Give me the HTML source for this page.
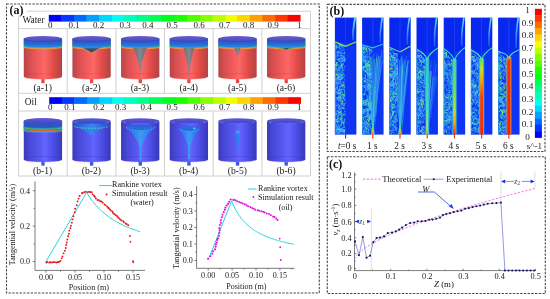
<!DOCTYPE html>
<html><head><meta charset="utf-8"><style>
html,body{margin:0;padding:0;background:#fff;width:550px;height:299px;overflow:hidden}
svg{display:block}
text{font-family:'Liberation Serif', 'Times New Roman', serif}
</style></head><body>
<svg width="550" height="299" viewBox="0 0 550 299">
<defs>
<linearGradient id="gRed" x1="0" x2="1" y1="0" y2="0">
<stop offset="0" stop-color="#b44646"/><stop offset="0.15" stop-color="#d84e50"/>
<stop offset="0.45" stop-color="#f86060"/><stop offset="0.55" stop-color="#fb6866"/><stop offset="0.78" stop-color="#e24a48"/>
<stop offset="1" stop-color="#b04444"/></linearGradient>
<linearGradient id="gBlue" x1="0" x2="1" y1="0" y2="0">
<stop offset="0" stop-color="#3a3ab8"/><stop offset="0.15" stop-color="#4848d8"/>
<stop offset="0.45" stop-color="#5a5af5"/><stop offset="0.55" stop-color="#6464ff"/><stop offset="0.78" stop-color="#4c4ce6"/>
<stop offset="1" stop-color="#3838b8"/></linearGradient>
<linearGradient id="gTopBlue" x1="0" x2="1" y1="0" y2="0">
<stop offset="0" stop-color="#1f50c0"/><stop offset="0.5" stop-color="#2a66d8"/>
<stop offset="1" stop-color="#1f50c0"/></linearGradient>
<linearGradient id="gCap" x1="0" x2="0" y1="0" y2="1">
<stop offset="0" stop-color="#6a5ed0"/><stop offset="1" stop-color="#4c48c2"/></linearGradient>
<linearGradient id="gCapB" x1="0" x2="0" y1="0" y2="1">
<stop offset="0" stop-color="#5a5ad8"/><stop offset="1" stop-color="#4444c8"/></linearGradient>
<linearGradient id="gBand" x1="0" x2="0" y1="0" y2="1">
<stop offset="0" stop-color="#2450c0"/><stop offset="0.55" stop-color="#246ad4"/><stop offset="1" stop-color="#3090e4"/></linearGradient>
<linearGradient id="gFunnel" x1="0" x2="1" y1="0" y2="0">
<stop offset="0" stop-color="#b86868"/><stop offset="0.25" stop-color="#808088"/><stop offset="0.5" stop-color="#a0a2a8"/>
<stop offset="0.75" stop-color="#808088"/><stop offset="1" stop-color="#b86868"/></linearGradient>
<pattern id="mesh" width="1.4" height="1.4" patternUnits="userSpaceOnUse"><rect width="1.4" height="1.4" fill="#8e9096"/><path d="M0,0 L1.4,1.4 M1.4,0 L0,1.4" stroke="#55575e" stroke-width="0.4"/></pattern>
<linearGradient id="gBowl" x1="0" x2="1" y1="0" y2="0"><stop offset="0" stop-color="#2a58d0"/><stop offset="0.5" stop-color="#3a84f0"/><stop offset="1" stop-color="#2a58d0"/></linearGradient>
<linearGradient id="gOilFunnel" x1="0" x2="1" y1="0" y2="0">
<stop offset="0" stop-color="#1f6ae8"/><stop offset="0.5" stop-color="#3d9af5"/>
<stop offset="1" stop-color="#1f6ae8"/></linearGradient>
</defs>
<rect x="0" y="0" width="550" height="299" fill="#ffffff"/>
<rect x="6.5" y="4" width="312.8" height="289" stroke="#4a4a4a" stroke-width="1.1" stroke-dasharray="2.4 1.3" fill="none"/>
<rect x="327.3" y="4.4" width="217.7" height="147.1" stroke="#4a4a4a" stroke-width="1.1" stroke-dasharray="2.4 1.3" fill="none"/>
<rect x="327.3" y="156.8" width="218" height="136.7" stroke="#4a4a4a" stroke-width="1.1" stroke-dasharray="2.4 1.3" fill="none"/>
<line x1="27" y1="11.2" x2="310.5" y2="11.2" stroke="#c4c4c4" stroke-width="0.8"/>
<line x1="18.6" y1="15" x2="18.6" y2="176" stroke="#c4c4c4" stroke-width="0.8"/>
<line x1="310.5" y1="11.2" x2="310.5" y2="176" stroke="#c4c4c4" stroke-width="0.8"/>
<line x1="18.6" y1="28.6" x2="310.5" y2="28.6" stroke="#c4c4c4" stroke-width="0.8"/>
<line x1="18.6" y1="93.3" x2="310.5" y2="93.3" stroke="#c4c4c4" stroke-width="0.8"/>
<line x1="18.6" y1="111" x2="310.5" y2="111" stroke="#c4c4c4" stroke-width="0.8"/>
<line x1="18.6" y1="176" x2="310.5" y2="176" stroke="#c4c4c4" stroke-width="0.8"/>
<line x1="67.2" y1="28.6" x2="67.2" y2="93.3" stroke="#c4c4c4" stroke-width="0.8"/>
<line x1="67.2" y1="111" x2="67.2" y2="176" stroke="#c4c4c4" stroke-width="0.8"/>
<line x1="115.9" y1="28.6" x2="115.9" y2="93.3" stroke="#c4c4c4" stroke-width="0.8"/>
<line x1="115.9" y1="111" x2="115.9" y2="176" stroke="#c4c4c4" stroke-width="0.8"/>
<line x1="164.5" y1="28.6" x2="164.5" y2="93.3" stroke="#c4c4c4" stroke-width="0.8"/>
<line x1="164.5" y1="111" x2="164.5" y2="176" stroke="#c4c4c4" stroke-width="0.8"/>
<line x1="213.2" y1="28.6" x2="213.2" y2="93.3" stroke="#c4c4c4" stroke-width="0.8"/>
<line x1="213.2" y1="111" x2="213.2" y2="176" stroke="#c4c4c4" stroke-width="0.8"/>
<line x1="261.9" y1="28.6" x2="261.9" y2="93.3" stroke="#c4c4c4" stroke-width="0.8"/>
<line x1="261.9" y1="111" x2="261.9" y2="176" stroke="#c4c4c4" stroke-width="0.8"/>
<text x="9.6" y="14.0" font-size="12" text-anchor="start" font-weight="bold" font-style="normal" fill="#111" >(a)</text>
<text x="22.5" y="22.9" font-size="9.4" text-anchor="start" font-weight="normal" font-style="normal" fill="#1a1a1a" >Water</text>
<text x="24.8" y="105.0" font-size="9.4" text-anchor="start" font-weight="normal" font-style="normal" fill="#1a1a1a" >Oil</text>
<rect x="48.80" y="14.9" width="12.88" height="6.70" fill="#0000ff"/>
<rect x="61.38" y="14.9" width="12.88" height="6.70" fill="#0036ff"/>
<rect x="73.95" y="14.9" width="12.88" height="6.70" fill="#006bff"/>
<rect x="86.52" y="14.9" width="12.88" height="6.70" fill="#00a1ff"/>
<rect x="99.10" y="14.9" width="12.88" height="6.70" fill="#00d7ff"/>
<rect x="111.67" y="14.9" width="12.88" height="6.70" fill="#00fff2"/>
<rect x="124.25" y="14.9" width="12.88" height="6.70" fill="#00ffbc"/>
<rect x="136.82" y="14.9" width="12.88" height="6.70" fill="#00ff86"/>
<rect x="149.40" y="14.9" width="12.88" height="6.70" fill="#00ff51"/>
<rect x="161.97" y="14.9" width="12.88" height="6.70" fill="#00ff1b"/>
<rect x="174.55" y="14.9" width="12.88" height="6.70" fill="#1bff00"/>
<rect x="187.12" y="14.9" width="12.88" height="6.70" fill="#51ff00"/>
<rect x="199.70" y="14.9" width="12.88" height="6.70" fill="#86ff00"/>
<rect x="212.27" y="14.9" width="12.88" height="6.70" fill="#bcff00"/>
<rect x="224.85" y="14.9" width="12.88" height="6.70" fill="#f2ff00"/>
<rect x="237.43" y="14.9" width="12.88" height="6.70" fill="#ffd700"/>
<rect x="250.00" y="14.9" width="12.88" height="6.70" fill="#ffa100"/>
<rect x="262.57" y="14.9" width="12.88" height="6.70" fill="#ff6b00"/>
<rect x="275.15" y="14.9" width="12.88" height="6.70" fill="#ff3600"/>
<rect x="287.72" y="14.9" width="12.88" height="6.70" fill="#ff0000"/>
<line x1="61.38" y1="14.9" x2="61.38" y2="21.6" stroke="#000" stroke-opacity="0.12" stroke-width="0.5"/>
<line x1="73.95" y1="14.9" x2="73.95" y2="21.6" stroke="#000" stroke-opacity="0.12" stroke-width="0.5"/>
<line x1="86.52" y1="14.9" x2="86.52" y2="21.6" stroke="#000" stroke-opacity="0.12" stroke-width="0.5"/>
<line x1="99.10" y1="14.9" x2="99.10" y2="21.6" stroke="#000" stroke-opacity="0.12" stroke-width="0.5"/>
<line x1="111.67" y1="14.9" x2="111.67" y2="21.6" stroke="#000" stroke-opacity="0.12" stroke-width="0.5"/>
<line x1="124.25" y1="14.9" x2="124.25" y2="21.6" stroke="#000" stroke-opacity="0.12" stroke-width="0.5"/>
<line x1="136.82" y1="14.9" x2="136.82" y2="21.6" stroke="#000" stroke-opacity="0.12" stroke-width="0.5"/>
<line x1="149.40" y1="14.9" x2="149.40" y2="21.6" stroke="#000" stroke-opacity="0.12" stroke-width="0.5"/>
<line x1="161.97" y1="14.9" x2="161.97" y2="21.6" stroke="#000" stroke-opacity="0.12" stroke-width="0.5"/>
<line x1="174.55" y1="14.9" x2="174.55" y2="21.6" stroke="#000" stroke-opacity="0.12" stroke-width="0.5"/>
<line x1="187.12" y1="14.9" x2="187.12" y2="21.6" stroke="#000" stroke-opacity="0.12" stroke-width="0.5"/>
<line x1="199.70" y1="14.9" x2="199.70" y2="21.6" stroke="#000" stroke-opacity="0.12" stroke-width="0.5"/>
<line x1="212.27" y1="14.9" x2="212.27" y2="21.6" stroke="#000" stroke-opacity="0.12" stroke-width="0.5"/>
<line x1="224.85" y1="14.9" x2="224.85" y2="21.6" stroke="#000" stroke-opacity="0.12" stroke-width="0.5"/>
<line x1="237.43" y1="14.9" x2="237.43" y2="21.6" stroke="#000" stroke-opacity="0.12" stroke-width="0.5"/>
<line x1="250.00" y1="14.9" x2="250.00" y2="21.6" stroke="#000" stroke-opacity="0.12" stroke-width="0.5"/>
<line x1="262.57" y1="14.9" x2="262.57" y2="21.6" stroke="#000" stroke-opacity="0.12" stroke-width="0.5"/>
<line x1="275.15" y1="14.9" x2="275.15" y2="21.6" stroke="#000" stroke-opacity="0.12" stroke-width="0.5"/>
<line x1="287.72" y1="14.9" x2="287.72" y2="21.6" stroke="#000" stroke-opacity="0.12" stroke-width="0.5"/>
<text x="50.2" y="28.0" font-size="9.0" text-anchor="middle" font-weight="normal" font-style="normal" fill="#1a1a1a" >0</text>
<text x="74.2" y="28.0" font-size="9.0" text-anchor="middle" font-weight="normal" font-style="normal" fill="#1a1a1a" >0.1</text>
<text x="98.6" y="28.0" font-size="9.0" text-anchor="middle" font-weight="normal" font-style="normal" fill="#1a1a1a" >0.2</text>
<text x="125.0" y="28.0" font-size="9.0" text-anchor="middle" font-weight="normal" font-style="normal" fill="#1a1a1a" >0.3</text>
<text x="147.8" y="28.0" font-size="9.0" text-anchor="middle" font-weight="normal" font-style="normal" fill="#1a1a1a" >0.4</text>
<text x="172.0" y="28.0" font-size="9.0" text-anchor="middle" font-weight="normal" font-style="normal" fill="#1a1a1a" >0.5</text>
<text x="199.0" y="28.0" font-size="9.0" text-anchor="middle" font-weight="normal" font-style="normal" fill="#1a1a1a" >0.6</text>
<text x="224.5" y="28.0" font-size="9.0" text-anchor="middle" font-weight="normal" font-style="normal" fill="#1a1a1a" >0.7</text>
<text x="248.6" y="28.0" font-size="9.0" text-anchor="middle" font-weight="normal" font-style="normal" fill="#1a1a1a" >0.8</text>
<text x="273.2" y="28.0" font-size="9.0" text-anchor="middle" font-weight="normal" font-style="normal" fill="#1a1a1a" >0.9</text>
<text x="299.3" y="28.0" font-size="9.0" text-anchor="middle" font-weight="normal" font-style="normal" fill="#1a1a1a" >1</text>
<rect x="49.20" y="97.2" width="12.88" height="6.70" fill="#0000ff"/>
<rect x="61.78" y="97.2" width="12.88" height="6.70" fill="#0036ff"/>
<rect x="74.35" y="97.2" width="12.88" height="6.70" fill="#006bff"/>
<rect x="86.92" y="97.2" width="12.88" height="6.70" fill="#00a1ff"/>
<rect x="99.50" y="97.2" width="12.88" height="6.70" fill="#00d7ff"/>
<rect x="112.08" y="97.2" width="12.88" height="6.70" fill="#00fff2"/>
<rect x="124.65" y="97.2" width="12.88" height="6.70" fill="#00ffbc"/>
<rect x="137.22" y="97.2" width="12.88" height="6.70" fill="#00ff86"/>
<rect x="149.80" y="97.2" width="12.88" height="6.70" fill="#00ff51"/>
<rect x="162.38" y="97.2" width="12.88" height="6.70" fill="#00ff1b"/>
<rect x="174.95" y="97.2" width="12.88" height="6.70" fill="#1bff00"/>
<rect x="187.52" y="97.2" width="12.88" height="6.70" fill="#51ff00"/>
<rect x="200.10" y="97.2" width="12.88" height="6.70" fill="#86ff00"/>
<rect x="212.68" y="97.2" width="12.88" height="6.70" fill="#bcff00"/>
<rect x="225.25" y="97.2" width="12.88" height="6.70" fill="#f2ff00"/>
<rect x="237.82" y="97.2" width="12.88" height="6.70" fill="#ffd700"/>
<rect x="250.40" y="97.2" width="12.88" height="6.70" fill="#ffa100"/>
<rect x="262.97" y="97.2" width="12.88" height="6.70" fill="#ff6b00"/>
<rect x="275.55" y="97.2" width="12.88" height="6.70" fill="#ff3600"/>
<rect x="288.12" y="97.2" width="12.88" height="6.70" fill="#ff0000"/>
<line x1="61.78" y1="97.2" x2="61.78" y2="103.9" stroke="#000" stroke-opacity="0.12" stroke-width="0.5"/>
<line x1="74.35" y1="97.2" x2="74.35" y2="103.9" stroke="#000" stroke-opacity="0.12" stroke-width="0.5"/>
<line x1="86.92" y1="97.2" x2="86.92" y2="103.9" stroke="#000" stroke-opacity="0.12" stroke-width="0.5"/>
<line x1="99.50" y1="97.2" x2="99.50" y2="103.9" stroke="#000" stroke-opacity="0.12" stroke-width="0.5"/>
<line x1="112.08" y1="97.2" x2="112.08" y2="103.9" stroke="#000" stroke-opacity="0.12" stroke-width="0.5"/>
<line x1="124.65" y1="97.2" x2="124.65" y2="103.9" stroke="#000" stroke-opacity="0.12" stroke-width="0.5"/>
<line x1="137.22" y1="97.2" x2="137.22" y2="103.9" stroke="#000" stroke-opacity="0.12" stroke-width="0.5"/>
<line x1="149.80" y1="97.2" x2="149.80" y2="103.9" stroke="#000" stroke-opacity="0.12" stroke-width="0.5"/>
<line x1="162.38" y1="97.2" x2="162.38" y2="103.9" stroke="#000" stroke-opacity="0.12" stroke-width="0.5"/>
<line x1="174.95" y1="97.2" x2="174.95" y2="103.9" stroke="#000" stroke-opacity="0.12" stroke-width="0.5"/>
<line x1="187.52" y1="97.2" x2="187.52" y2="103.9" stroke="#000" stroke-opacity="0.12" stroke-width="0.5"/>
<line x1="200.10" y1="97.2" x2="200.10" y2="103.9" stroke="#000" stroke-opacity="0.12" stroke-width="0.5"/>
<line x1="212.68" y1="97.2" x2="212.68" y2="103.9" stroke="#000" stroke-opacity="0.12" stroke-width="0.5"/>
<line x1="225.25" y1="97.2" x2="225.25" y2="103.9" stroke="#000" stroke-opacity="0.12" stroke-width="0.5"/>
<line x1="237.82" y1="97.2" x2="237.82" y2="103.9" stroke="#000" stroke-opacity="0.12" stroke-width="0.5"/>
<line x1="250.40" y1="97.2" x2="250.40" y2="103.9" stroke="#000" stroke-opacity="0.12" stroke-width="0.5"/>
<line x1="262.97" y1="97.2" x2="262.97" y2="103.9" stroke="#000" stroke-opacity="0.12" stroke-width="0.5"/>
<line x1="275.55" y1="97.2" x2="275.55" y2="103.9" stroke="#000" stroke-opacity="0.12" stroke-width="0.5"/>
<line x1="288.12" y1="97.2" x2="288.12" y2="103.9" stroke="#000" stroke-opacity="0.12" stroke-width="0.5"/>
<text x="50.2" y="109.6" font-size="9.0" text-anchor="middle" font-weight="normal" font-style="normal" fill="#1a1a1a" >0</text>
<text x="69.8" y="109.6" font-size="9.0" text-anchor="middle" font-weight="normal" font-style="normal" fill="#1a1a1a" >0.1</text>
<text x="98.9" y="109.6" font-size="9.0" text-anchor="middle" font-weight="normal" font-style="normal" fill="#1a1a1a" >0.2</text>
<text x="120.6" y="109.6" font-size="9.0" text-anchor="middle" font-weight="normal" font-style="normal" fill="#1a1a1a" >0.3</text>
<text x="146.2" y="109.6" font-size="9.0" text-anchor="middle" font-weight="normal" font-style="normal" fill="#1a1a1a" >0.4</text>
<text x="172.0" y="109.6" font-size="9.0" text-anchor="middle" font-weight="normal" font-style="normal" fill="#1a1a1a" >0.5</text>
<text x="199.0" y="109.6" font-size="9.0" text-anchor="middle" font-weight="normal" font-style="normal" fill="#1a1a1a" >0.6</text>
<text x="224.5" y="109.6" font-size="9.0" text-anchor="middle" font-weight="normal" font-style="normal" fill="#1a1a1a" >0.7</text>
<text x="248.6" y="109.6" font-size="9.0" text-anchor="middle" font-weight="normal" font-style="normal" fill="#1a1a1a" >0.8</text>
<text x="273.2" y="109.6" font-size="9.0" text-anchor="middle" font-weight="normal" font-style="normal" fill="#1a1a1a" >0.9</text>
<text x="299.3" y="109.6" font-size="9.0" text-anchor="middle" font-weight="normal" font-style="normal" fill="#1a1a1a" >1</text>
<rect x="41.32" y="76.6" width="3.3" height="6.6" fill="#e8464c"/>
<path d="M23.77,38.70 L23.77,76.60 A19.15,2.6 0 0 0 62.07,76.60 L62.07,38.70 A19.15,2.6 0 0 1 23.77,38.70 Z" fill="url(#gRed)"/>
<path d="M23.77,76.19999999999999 A19.15,2.6 0 0 1 62.07,76.19999999999999" fill="none" stroke="#c03838" stroke-opacity="0.45" stroke-width="0.6"/>
<path d="M24.07,77.19999999999999 A19.15,2.6 0 0 0 61.77,77.19999999999999" fill="none" stroke="#ff8080" stroke-opacity="0.35" stroke-width="0.8"/>
<path d="M23.77,38.7 L23.77,46.6 A19.15,1.6 0 0 0 62.07,46.6 L62.07,38.7 Z" fill="url(#gBand)"/>
<path d="M23.77,46.300000000000004 A19.15,1.6 0 0 0 62.07,46.300000000000004" fill="none" stroke="#38c878" stroke-width="1.0"/>
<path d="M23.77,47.2 A19.15,1.6 0 0 0 62.07,47.2" fill="none" stroke="#e8b838" stroke-width="0.7"/>
<ellipse cx="42.92" cy="38.7" rx="19.15" ry="2.8000000000000003" fill="url(#gCap)"/>
<path d="M23.77,38.7 A19.15,2.8000000000000003 0 0 0 62.07,38.7" fill="none" stroke="#3038b0" stroke-width="0.6" opacity="0.6"/>
<rect x="41.32" y="159.4" width="3.3" height="6.2" fill="#4450e0"/>
<path d="M23.77,121.00 L23.77,159.40 A19.15,2.6 0 0 0 62.07,159.40 L62.07,121.00 A19.15,2.6 0 0 1 23.77,121.00 Z" fill="url(#gBlue)"/>
<path d="M23.77,159.0 A19.15,2.6 0 0 1 62.07,159.0" fill="none" stroke="#2a2fa0" stroke-opacity="0.4" stroke-width="0.6"/>
<path d="M24.07,160.0 A19.15,2.6 0 0 0 61.77,160.0" fill="none" stroke="#8080ff" stroke-opacity="0.35" stroke-width="0.8"/>
<ellipse cx="42.92" cy="121.0" rx="19.15" ry="2.8000000000000003" fill="url(#gCapB)"/>
<path d="M23.77,121.0 L23.77,128.2 A19.15,1.6 0 0 0 62.07,128.2 L62.07,121.0 Z" fill="#2a58c0"/>
<ellipse cx="42.92" cy="121.0" rx="19.15" ry="2.8000000000000003" fill="url(#gCapB)"/>
<path d="M23.77,126.79999999999998 A19.15,1.6 0 0 0 62.07,126.79999999999998" fill="none" stroke="#2aa0c0" stroke-width="0.8"/>
<path d="M23.77,127.69999999999999 A19.15,1.6 0 0 0 62.07,127.69999999999999" fill="none" stroke="#40c870" stroke-width="1.0"/>
<path d="M23.77,128.89999999999998 A19.15,1.6 0 0 0 62.07,128.89999999999998" fill="none" stroke="#c86a30" stroke-width="1.3"/>
<path d="M23.77,130.1 A19.15,1.6 0 0 0 62.07,130.1" fill="none" stroke="#48c070" stroke-width="1.0"/>
<path d="M23.77,131.0 A19.15,1.6 0 0 0 62.07,131.0" fill="none" stroke="#5a8af0" stroke-width="0.7" opacity="0.7"/>
<text x="42.7" y="91.2" font-size="9.6" text-anchor="middle" font-weight="normal" font-style="normal" fill="#1a1a1a" >(a-1)</text>
<text x="42.7" y="173.6" font-size="9.6" text-anchor="middle" font-weight="normal" font-style="normal" fill="#1a1a1a" >(b-1)</text>
<rect x="89.97" y="76.6" width="3.3" height="6.6" fill="#e8464c"/>
<path d="M72.42,38.70 L72.42,76.60 A19.15,2.6 0 0 0 110.72,76.60 L110.72,38.70 A19.15,2.6 0 0 1 72.42,38.70 Z" fill="url(#gRed)"/>
<path d="M72.42,76.19999999999999 A19.15,2.6 0 0 1 110.72,76.19999999999999" fill="none" stroke="#c03838" stroke-opacity="0.45" stroke-width="0.6"/>
<path d="M72.72,77.19999999999999 A19.15,2.6 0 0 0 110.42,77.19999999999999" fill="none" stroke="#ff8080" stroke-opacity="0.35" stroke-width="0.8"/>
<path d="M72.42,38.7 L72.42,46.6 A19.15,1.6 0 0 0 110.72,46.6 L110.72,38.7 Z" fill="url(#gBand)"/>
<path d="M72.42,46.300000000000004 A19.15,1.6 0 0 0 110.72,46.300000000000004" fill="none" stroke="#38c878" stroke-width="1.0"/>
<path d="M72.42,47.2 A19.15,1.6 0 0 0 110.72,47.2" fill="none" stroke="#e8b838" stroke-width="0.7"/>
<ellipse cx="91.57" cy="38.7" rx="19.15" ry="2.8000000000000003" fill="url(#gCap)"/>
<path d="M72.42,38.7 A19.15,2.8000000000000003 0 0 0 110.72,38.7" fill="none" stroke="#3038b0" stroke-width="0.6" opacity="0.6"/>
<path d="M77.57,47.2 Q82.57,48.0 84.07,48.800000000000004 L91.57,52.800000000000004 L99.07,48.800000000000004 Q100.57,48.0 105.57,47.2 Z" fill="#2a80dc"/>
<path d="M84.07,48.6 C87.57,50.1 90.07,52.1 91.57,52.6 C93.07,52.1 95.57,50.1 99.07,48.6 Q91.57499999999999,48.2 84.07,48.6 Z" fill="#4c4650"/>
<path d="M77.57,47.4 Q82.57,48.2 84.07,49.0 C87.57,50.5 90.07,52.5 91.57,53.1 C93.07,52.5 95.57,50.5 99.07,49.0 Q100.57,48.2 105.57,47.4" fill="none" stroke="#d8a040" stroke-width="0.7"/>
<rect x="89.97" y="159.4" width="3.3" height="6.2" fill="#4450e0"/>
<path d="M72.42,121.00 L72.42,159.40 A19.15,2.6 0 0 0 110.72,159.40 L110.72,121.00 A19.15,2.6 0 0 1 72.42,121.00 Z" fill="url(#gBlue)"/>
<path d="M72.42,159.0 A19.15,2.6 0 0 1 110.72,159.0" fill="none" stroke="#2a2fa0" stroke-opacity="0.4" stroke-width="0.6"/>
<path d="M72.72,160.0 A19.15,2.6 0 0 0 110.42,160.0" fill="none" stroke="#8080ff" stroke-opacity="0.35" stroke-width="0.8"/>
<ellipse cx="91.57" cy="121.0" rx="19.15" ry="2.8000000000000003" fill="url(#gCapB)"/>
<ellipse cx="91.57" cy="124.2" rx="17.5" ry="2.6" fill="#2c56c8"/>
<path d="M74.57,125.6 C81.57,128 87.57,134 91.57499999999999,136 C95.57,134 101.57,128 108.57,125.6 A17,2 0 0 0 74.57,125.6 Z" fill="url(#gBowl)"/>
<path d="M74.07,126.4 A17.5,1.8 0 0 0 109.07,126.4" fill="none" stroke="#40d8c8" stroke-width="1.0" stroke-dasharray="1.6 1.3"/>
<path d="M79.57,127.6 A12,1.4 0 0 0 103.57,127.6" fill="none" stroke="#50e0a0" stroke-width="0.7" stroke-dasharray="1 2" opacity="0.8"/>
<text x="91.4" y="91.2" font-size="9.6" text-anchor="middle" font-weight="normal" font-style="normal" fill="#1a1a1a" >(a-2)</text>
<text x="91.4" y="173.6" font-size="9.6" text-anchor="middle" font-weight="normal" font-style="normal" fill="#1a1a1a" >(b-2)</text>
<rect x="138.62" y="76.6" width="3.3" height="6.6" fill="#e8464c"/>
<path d="M121.07,38.70 L121.07,76.60 A19.15,2.6 0 0 0 159.38,76.60 L159.38,38.70 A19.15,2.6 0 0 1 121.07,38.70 Z" fill="url(#gRed)"/>
<path d="M121.07,76.19999999999999 A19.15,2.6 0 0 1 159.38,76.19999999999999" fill="none" stroke="#c03838" stroke-opacity="0.45" stroke-width="0.6"/>
<path d="M121.37,77.19999999999999 A19.15,2.6 0 0 0 159.07,77.19999999999999" fill="none" stroke="#ff8080" stroke-opacity="0.35" stroke-width="0.8"/>
<path d="M121.07,38.7 L121.07,46.6 A19.15,1.6 0 0 0 159.38,46.6 L159.38,38.7 Z" fill="url(#gBand)"/>
<path d="M121.07,46.300000000000004 A19.15,1.6 0 0 0 159.38,46.300000000000004" fill="none" stroke="#38c878" stroke-width="1.0"/>
<path d="M121.07,47.2 A19.15,1.6 0 0 0 159.38,47.2" fill="none" stroke="#e8b838" stroke-width="0.7"/>
<ellipse cx="140.22" cy="38.7" rx="19.15" ry="2.8000000000000003" fill="url(#gCap)"/>
<path d="M121.07,38.7 A19.15,2.8000000000000003 0 0 0 159.38,38.7" fill="none" stroke="#3038b0" stroke-width="0.6" opacity="0.6"/>
<path d="M132.83,47.60 L133.37,48.73 L133.90,49.87 L134.40,51.00 L134.89,52.13 L135.35,53.27 L135.80,54.40 L136.22,55.53 L136.62,56.67 L137.01,57.80 L137.37,58.93 L137.71,60.07 L138.03,61.20 L138.32,62.33 L138.60,63.47 L138.85,64.60 L139.08,65.73 L139.29,66.87 L139.47,68.00 L139.63,69.13 L139.76,70.27 L139.78,71.40 L139.78,72.53 L139.78,73.67 L139.78,74.80 L140.28,74.80 L140.28,73.67 L140.28,72.53 L140.28,71.40 L140.29,70.27 L140.42,69.13 L140.58,68.00 L140.76,66.87 L140.97,65.73 L141.20,64.60 L141.45,63.47 L141.73,62.33 L142.02,61.20 L142.34,60.07 L142.68,58.93 L143.04,57.80 L143.43,56.67 L143.83,55.53 L144.25,54.40 L144.70,53.27 L145.16,52.13 L145.65,51.00 L146.15,49.87 L146.68,48.73 L147.22,47.60 Z" fill="url(#mesh)"/><path d="M132.83,47.60 L133.37,48.73 L133.90,49.87 L134.40,51.00 L134.89,52.13 L135.35,53.27 L135.80,54.40 L136.22,55.53 L136.62,56.67 L137.01,57.80 L137.37,58.93 L137.71,60.07 L138.03,61.20 L138.32,62.33 L138.60,63.47 L138.85,64.60 L139.08,65.73 L139.29,66.87 L139.47,68.00 L139.63,69.13 L139.76,70.27 L139.78,71.40 L139.78,72.53 L139.78,73.67 L139.78,74.80 L140.28,74.80 L140.28,73.67 L140.28,72.53 L140.28,71.40 L140.29,70.27 L140.42,69.13 L140.58,68.00 L140.76,66.87 L140.97,65.73 L141.20,64.60 L141.45,63.47 L141.73,62.33 L142.02,61.20 L142.34,60.07 L142.68,58.93 L143.04,57.80 L143.43,56.67 L143.83,55.53 L144.25,54.40 L144.70,53.27 L145.16,52.13 L145.65,51.00 L146.15,49.87 L146.68,48.73 L147.22,47.60 Z" fill="url(#gFunnel)" opacity="0.5"/>
<rect x="138.62" y="159.4" width="3.3" height="6.2" fill="#4450e0"/>
<path d="M121.07,121.00 L121.07,159.40 A19.15,2.6 0 0 0 159.38,159.40 L159.38,121.00 A19.15,2.6 0 0 1 121.07,121.00 Z" fill="url(#gBlue)"/>
<path d="M121.07,159.0 A19.15,2.6 0 0 1 159.38,159.0" fill="none" stroke="#2a2fa0" stroke-opacity="0.4" stroke-width="0.6"/>
<path d="M121.37,160.0 A19.15,2.6 0 0 0 159.07,160.0" fill="none" stroke="#8080ff" stroke-opacity="0.35" stroke-width="0.8"/>
<ellipse cx="140.22" cy="121.0" rx="19.15" ry="2.8000000000000003" fill="url(#gCapB)"/>
<path d="M126.53,127.50 L128.04,128.88 L129.46,130.26 L130.76,131.64 L131.97,133.02 L133.07,134.40 L134.09,135.78 L135.01,137.15 L135.84,138.53 L136.59,139.91 L137.26,141.29 L137.85,142.67 L138.37,144.05 L138.82,145.43 L139.21,146.81 L139.53,148.19 L139.53,149.57 L139.53,150.95 L139.53,152.32 L139.53,153.70 L139.53,155.08 L139.53,156.46 L139.53,157.84 L139.53,159.22 L139.53,160.60 L141.53,160.60 L141.53,159.22 L141.53,157.84 L141.53,156.46 L141.53,155.08 L141.53,153.70 L141.53,152.32 L141.53,150.95 L141.53,149.57 L141.53,148.19 L141.84,146.81 L142.23,145.43 L142.68,144.05 L143.20,142.67 L143.79,141.29 L144.46,139.91 L145.21,138.53 L146.04,137.15 L146.96,135.78 L147.98,134.40 L149.08,133.02 L150.29,131.64 L151.59,130.26 L153.01,128.88 L154.53,127.50 Z" fill="url(#gOilFunnel)"/>
<ellipse cx="140.53" cy="127.4" rx="14" ry="3" fill="#2c62dc"/>
<path d="M126.52,127.4 A14,3 0 0 0 154.53,127.4" fill="none" stroke="#40c8e0" stroke-width="0.9" stroke-dasharray="1.5 1.6"/>
<path d="M123.22,126.2 A17,2 0 0 0 157.22,126.2" fill="none" stroke="#40c8d0" stroke-width="0.7" stroke-dasharray="1 2.5" opacity="0.8"/>
<text x="140.0" y="91.2" font-size="9.6" text-anchor="middle" font-weight="normal" font-style="normal" fill="#1a1a1a" >(a-3)</text>
<text x="140.0" y="173.6" font-size="9.6" text-anchor="middle" font-weight="normal" font-style="normal" fill="#1a1a1a" >(b-3)</text>
<rect x="187.28" y="76.6" width="3.3" height="6.6" fill="#e8464c"/>
<path d="M169.72,38.70 L169.72,76.60 A19.15,2.6 0 0 0 208.03,76.60 L208.03,38.70 A19.15,2.6 0 0 1 169.72,38.70 Z" fill="url(#gRed)"/>
<path d="M169.72,76.19999999999999 A19.15,2.6 0 0 1 208.03,76.19999999999999" fill="none" stroke="#c03838" stroke-opacity="0.45" stroke-width="0.6"/>
<path d="M170.03,77.19999999999999 A19.15,2.6 0 0 0 207.72,77.19999999999999" fill="none" stroke="#ff8080" stroke-opacity="0.35" stroke-width="0.8"/>
<path d="M169.72,38.7 L169.72,46.6 A19.15,1.6 0 0 0 208.03,46.6 L208.03,38.7 Z" fill="url(#gBand)"/>
<path d="M169.72,46.300000000000004 A19.15,1.6 0 0 0 208.03,46.300000000000004" fill="none" stroke="#38c878" stroke-width="1.0"/>
<path d="M169.72,47.2 A19.15,1.6 0 0 0 208.03,47.2" fill="none" stroke="#e8b838" stroke-width="0.7"/>
<ellipse cx="188.88" cy="38.7" rx="19.15" ry="2.8000000000000003" fill="url(#gCap)"/>
<path d="M169.72,38.7 A19.15,2.8000000000000003 0 0 0 208.03,38.7" fill="none" stroke="#3038b0" stroke-width="0.6" opacity="0.6"/>
<path d="M183.28,47.40 L183.63,48.59 L183.98,49.78 L184.32,50.98 L184.65,52.17 L184.98,53.36 L185.29,54.55 L185.59,55.74 L185.89,56.93 L186.17,58.12 L186.45,59.32 L186.71,60.51 L186.96,61.70 L187.20,62.89 L187.43,64.08 L187.65,65.28 L187.85,66.47 L188.05,67.66 L188.22,68.85 L188.38,70.04 L188.53,71.23 L188.62,72.42 L188.62,73.62 L188.62,74.81 L188.62,76.00 L189.12,76.00 L189.12,74.81 L189.12,73.62 L189.12,72.42 L189.22,71.23 L189.37,70.04 L189.53,68.85 L189.70,67.66 L189.90,66.47 L190.10,65.28 L190.32,64.08 L190.55,62.89 L190.79,61.70 L191.04,60.51 L191.30,59.32 L191.58,58.12 L191.86,56.93 L192.16,55.74 L192.46,54.55 L192.77,53.36 L193.10,52.17 L193.43,50.98 L193.77,49.78 L194.12,48.59 L194.47,47.40 Z" fill="url(#mesh)"/><path d="M183.28,47.40 L183.63,48.59 L183.98,49.78 L184.32,50.98 L184.65,52.17 L184.98,53.36 L185.29,54.55 L185.59,55.74 L185.89,56.93 L186.17,58.12 L186.45,59.32 L186.71,60.51 L186.96,61.70 L187.20,62.89 L187.43,64.08 L187.65,65.28 L187.85,66.47 L188.05,67.66 L188.22,68.85 L188.38,70.04 L188.53,71.23 L188.62,72.42 L188.62,73.62 L188.62,74.81 L188.62,76.00 L189.12,76.00 L189.12,74.81 L189.12,73.62 L189.12,72.42 L189.22,71.23 L189.37,70.04 L189.53,68.85 L189.70,67.66 L189.90,66.47 L190.10,65.28 L190.32,64.08 L190.55,62.89 L190.79,61.70 L191.04,60.51 L191.30,59.32 L191.58,58.12 L191.86,56.93 L192.16,55.74 L192.46,54.55 L192.77,53.36 L193.10,52.17 L193.43,50.98 L193.77,49.78 L194.12,48.59 L194.47,47.40 Z" fill="url(#gFunnel)" opacity="0.5"/>
<rect x="187.28" y="159.4" width="3.3" height="6.2" fill="#4450e0"/>
<path d="M169.72,121.00 L169.72,159.40 A19.15,2.6 0 0 0 208.03,159.40 L208.03,121.00 A19.15,2.6 0 0 1 169.72,121.00 Z" fill="url(#gBlue)"/>
<path d="M169.72,159.0 A19.15,2.6 0 0 1 208.03,159.0" fill="none" stroke="#2a2fa0" stroke-opacity="0.4" stroke-width="0.6"/>
<path d="M170.03,160.0 A19.15,2.6 0 0 0 207.72,160.0" fill="none" stroke="#8080ff" stroke-opacity="0.35" stroke-width="0.8"/>
<ellipse cx="188.88" cy="121.0" rx="19.15" ry="2.8000000000000003" fill="url(#gCapB)"/>
<path d="M179.18,128.80 L180.11,130.06 L180.99,131.32 L181.82,132.58 L182.60,133.83 L183.33,135.09 L184.02,136.35 L184.65,137.61 L185.24,138.87 L185.78,140.12 L186.28,141.38 L186.73,142.64 L187.14,143.90 L187.51,145.16 L187.84,146.42 L188.08,147.68 L188.08,148.93 L188.08,150.19 L188.08,151.45 L188.08,152.71 L188.08,153.97 L188.08,155.22 L188.08,156.48 L188.08,157.74 L188.08,159.00 L190.28,159.00 L190.28,157.74 L190.28,156.48 L190.28,155.22 L190.28,153.97 L190.28,152.71 L190.28,151.45 L190.28,150.19 L190.28,148.93 L190.28,147.68 L190.51,146.42 L190.84,145.16 L191.21,143.90 L191.62,142.64 L192.07,141.38 L192.57,140.12 L193.11,138.87 L193.70,137.61 L194.33,136.35 L195.02,135.09 L195.75,133.83 L196.53,132.58 L197.36,131.32 L198.24,130.06 L199.18,128.80 Z" fill="url(#gOilFunnel)"/>
<ellipse cx="189.18" cy="128.8" rx="10" ry="2.8" fill="#2c6ae0"/>
<path d="M179.18,128.8 A10,2.8 0 0 0 199.18,128.8" fill="none" stroke="#3aa8f0" stroke-width="0.8"/>
<circle cx="194.38" cy="128.5" r="1.1" fill="#40d8e0"/>
<text x="188.7" y="91.2" font-size="9.6" text-anchor="middle" font-weight="normal" font-style="normal" fill="#1a1a1a" >(a-4)</text>
<text x="188.7" y="173.6" font-size="9.6" text-anchor="middle" font-weight="normal" font-style="normal" fill="#1a1a1a" >(b-4)</text>
<rect x="235.92" y="76.6" width="3.3" height="6.6" fill="#e8464c"/>
<path d="M218.37,38.70 L218.37,76.60 A19.15,2.6 0 0 0 256.67,76.60 L256.67,38.70 A19.15,2.6 0 0 1 218.37,38.70 Z" fill="url(#gRed)"/>
<path d="M218.37,76.19999999999999 A19.15,2.6 0 0 1 256.67,76.19999999999999" fill="none" stroke="#c03838" stroke-opacity="0.45" stroke-width="0.6"/>
<path d="M218.67,77.19999999999999 A19.15,2.6 0 0 0 256.37,77.19999999999999" fill="none" stroke="#ff8080" stroke-opacity="0.35" stroke-width="0.8"/>
<path d="M218.37,38.7 L218.37,46.6 A19.15,1.6 0 0 0 256.67,46.6 L256.67,38.7 Z" fill="url(#gBand)"/>
<path d="M218.37,46.300000000000004 A19.15,1.6 0 0 0 256.67,46.300000000000004" fill="none" stroke="#38c878" stroke-width="1.0"/>
<path d="M218.37,47.2 A19.15,1.6 0 0 0 256.67,47.2" fill="none" stroke="#e8b838" stroke-width="0.7"/>
<ellipse cx="237.52" cy="38.7" rx="19.15" ry="2.8000000000000003" fill="url(#gCap)"/>
<path d="M218.37,38.7 A19.15,2.8000000000000003 0 0 0 256.67,38.7" fill="none" stroke="#3038b0" stroke-width="0.6" opacity="0.6"/>
<path d="M234.32,47.60 L234.48,48.01 L234.64,48.43 L234.80,48.84 L234.95,49.25 L235.11,49.66 L235.26,50.08 L235.41,50.49 L235.56,50.90 L235.70,51.31 L235.85,51.73 L235.99,52.14 L236.13,52.55 L236.27,52.96 L236.41,53.38 L236.54,53.79 L236.67,54.20 L236.80,54.61 L236.92,55.02 L237.04,55.44 L237.15,55.85 L237.26,56.26 L237.27,56.67 L237.27,57.09 L237.27,57.50 L237.77,57.50 L237.77,57.09 L237.77,56.67 L237.79,56.26 L237.90,55.85 L238.01,55.44 L238.13,55.02 L238.25,54.61 L238.38,54.20 L238.51,53.79 L238.64,53.38 L238.78,52.96 L238.92,52.55 L239.06,52.14 L239.20,51.73 L239.35,51.31 L239.49,50.90 L239.64,50.49 L239.79,50.08 L239.94,49.66 L240.10,49.25 L240.25,48.84 L240.41,48.43 L240.57,48.01 L240.72,47.60 Z" fill="url(#mesh)"/><path d="M234.32,47.60 L234.48,48.01 L234.64,48.43 L234.80,48.84 L234.95,49.25 L235.11,49.66 L235.26,50.08 L235.41,50.49 L235.56,50.90 L235.70,51.31 L235.85,51.73 L235.99,52.14 L236.13,52.55 L236.27,52.96 L236.41,53.38 L236.54,53.79 L236.67,54.20 L236.80,54.61 L236.92,55.02 L237.04,55.44 L237.15,55.85 L237.26,56.26 L237.27,56.67 L237.27,57.09 L237.27,57.50 L237.77,57.50 L237.77,57.09 L237.77,56.67 L237.79,56.26 L237.90,55.85 L238.01,55.44 L238.13,55.02 L238.25,54.61 L238.38,54.20 L238.51,53.79 L238.64,53.38 L238.78,52.96 L238.92,52.55 L239.06,52.14 L239.20,51.73 L239.35,51.31 L239.49,50.90 L239.64,50.49 L239.79,50.08 L239.94,49.66 L240.10,49.25 L240.25,48.84 L240.41,48.43 L240.57,48.01 L240.72,47.60 Z" fill="url(#gFunnel)" opacity="0.5"/>
<rect x="235.92" y="159.4" width="3.3" height="6.2" fill="#4450e0"/>
<path d="M218.37,121.00 L218.37,159.40 A19.15,2.6 0 0 0 256.67,159.40 L256.67,121.00 A19.15,2.6 0 0 1 218.37,121.00 Z" fill="url(#gBlue)"/>
<path d="M218.37,159.0 A19.15,2.6 0 0 1 256.67,159.0" fill="none" stroke="#2a2fa0" stroke-opacity="0.4" stroke-width="0.6"/>
<path d="M218.67,160.0 A19.15,2.6 0 0 0 256.37,160.0" fill="none" stroke="#8080ff" stroke-opacity="0.35" stroke-width="0.8"/>
<ellipse cx="237.52" cy="121.0" rx="19.15" ry="2.8000000000000003" fill="url(#gCapB)"/>
<path d="M235.92,132.00 L235.99,132.87 L236.05,133.73 L236.12,134.60 L236.18,135.47 L236.25,136.33 L236.32,137.20 L236.38,138.07 L236.45,138.93 L236.52,139.80 L236.59,140.67 L236.66,141.53 L236.73,142.40 L236.81,143.27 L236.88,144.13 L236.96,145.00 L237.04,145.87 L237.12,146.73 L237.20,147.60 L237.28,148.47 L237.32,149.33 L237.32,150.20 L237.32,151.07 L237.32,151.93 L237.32,152.80 L238.32,152.80 L238.32,151.93 L238.32,151.07 L238.32,150.20 L238.32,149.33 L238.37,148.47 L238.45,147.60 L238.53,146.73 L238.61,145.87 L238.69,145.00 L238.77,144.13 L238.84,143.27 L238.92,142.40 L238.99,141.53 L239.06,140.67 L239.13,139.80 L239.20,138.93 L239.27,138.07 L239.33,137.20 L239.40,136.33 L239.47,135.47 L239.53,134.60 L239.60,133.73 L239.66,132.87 L239.72,132.00 Z" fill="#2a84f0"/>
<ellipse cx="237.82" cy="131.9" rx="2.4" ry="1.5" fill="#3aa0f4"/>
<text x="237.3" y="91.2" font-size="9.6" text-anchor="middle" font-weight="normal" font-style="normal" fill="#1a1a1a" >(a-5)</text>
<text x="237.3" y="173.6" font-size="9.6" text-anchor="middle" font-weight="normal" font-style="normal" fill="#1a1a1a" >(b-5)</text>
<rect x="284.57" y="76.6" width="3.3" height="6.6" fill="#e8464c"/>
<path d="M267.03,38.70 L267.03,76.60 A19.15,2.6 0 0 0 305.32,76.60 L305.32,38.70 A19.15,2.6 0 0 1 267.03,38.70 Z" fill="url(#gRed)"/>
<path d="M267.03,76.19999999999999 A19.15,2.6 0 0 1 305.32,76.19999999999999" fill="none" stroke="#c03838" stroke-opacity="0.45" stroke-width="0.6"/>
<path d="M267.33,77.19999999999999 A19.15,2.6 0 0 0 305.02,77.19999999999999" fill="none" stroke="#ff8080" stroke-opacity="0.35" stroke-width="0.8"/>
<path d="M267.03,38.7 L267.03,46.6 A19.15,1.6 0 0 0 305.32,46.6 L305.32,38.7 Z" fill="url(#gBand)"/>
<path d="M267.03,46.300000000000004 A19.15,1.6 0 0 0 305.32,46.300000000000004" fill="none" stroke="#38c878" stroke-width="1.0"/>
<path d="M267.03,47.2 A19.15,1.6 0 0 0 305.32,47.2" fill="none" stroke="#e8b838" stroke-width="0.7"/>
<ellipse cx="286.18" cy="38.7" rx="19.15" ry="2.8000000000000003" fill="url(#gCap)"/>
<path d="M267.03,38.7 A19.15,2.8000000000000003 0 0 0 305.32,38.7" fill="none" stroke="#3038b0" stroke-width="0.6" opacity="0.6"/>
<path d="M280.18,47.800000000000004 Q284.18,48.4 286.175,50.0 Q288.18,48.4 292.18,47.800000000000004 Z" fill="#4a4858"/>
<path d="M278.18,47.6 Q284.18,48.4 286.175,50.0 Q288.18,48.4 294.18,47.6" fill="none" stroke="#30b060" stroke-width="0.8"/>
<rect x="284.57" y="159.4" width="3.3" height="6.2" fill="#4450e0"/>
<path d="M267.03,121.00 L267.03,159.40 A19.15,2.6 0 0 0 305.32,159.40 L305.32,121.00 A19.15,2.6 0 0 1 267.03,121.00 Z" fill="url(#gBlue)"/>
<path d="M267.03,159.0 A19.15,2.6 0 0 1 305.32,159.0" fill="none" stroke="#2a2fa0" stroke-opacity="0.4" stroke-width="0.6"/>
<path d="M267.33,160.0 A19.15,2.6 0 0 0 305.02,160.0" fill="none" stroke="#8080ff" stroke-opacity="0.35" stroke-width="0.8"/>
<ellipse cx="286.18" cy="121.0" rx="19.15" ry="2.8000000000000003" fill="url(#gCapB)"/>
<circle cx="286.18" cy="155.6" r="0.8" fill="#3090f0"/>
<text x="286.0" y="91.2" font-size="9.6" text-anchor="middle" font-weight="normal" font-style="normal" fill="#1a1a1a" >(a-6)</text>
<text x="286.0" y="173.6" font-size="9.6" text-anchor="middle" font-weight="normal" font-style="normal" fill="#1a1a1a" >(b-6)</text>
<line x1="35" y1="181.4" x2="35" y2="270.4" stroke="#5a5a5a" stroke-width="0.8" fill="none"/>
<line x1="35" y1="270.4" x2="145" y2="270.4" stroke="#5a5a5a" stroke-width="0.8" fill="none"/>
<line x1="32.8" y1="261.5" x2="35" y2="261.5" stroke="#5a5a5a" stroke-width="0.8" fill="none"/>
<text x="30.1" y="264.3" font-size="8.1" text-anchor="end" font-weight="normal" font-style="normal" fill="#1a1a1a" >0.0</text>
<line x1="32.8" y1="226.1" x2="35" y2="226.1" stroke="#5a5a5a" stroke-width="0.8" fill="none"/>
<text x="30.1" y="228.9" font-size="8.1" text-anchor="end" font-weight="normal" font-style="normal" fill="#1a1a1a" >0.2</text>
<line x1="32.8" y1="190.7" x2="35" y2="190.7" stroke="#5a5a5a" stroke-width="0.8" fill="none"/>
<text x="30.1" y="193.5" font-size="8.1" text-anchor="end" font-weight="normal" font-style="normal" fill="#1a1a1a" >0.4</text>
<line x1="33.7" y1="243.8" x2="35" y2="243.8" stroke="#5a5a5a" stroke-width="0.8" fill="none"/>
<line x1="33.7" y1="208.4" x2="35" y2="208.4" stroke="#5a5a5a" stroke-width="0.8" fill="none"/>
<line x1="46" y1="270.4" x2="46" y2="272.59999999999997" stroke="#5a5a5a" stroke-width="0.8" fill="none"/>
<text x="46.0" y="279.5" font-size="8.1" text-anchor="middle" font-weight="normal" font-style="normal" fill="#1a1a1a" >0.00</text>
<line x1="75" y1="270.4" x2="75" y2="272.59999999999997" stroke="#5a5a5a" stroke-width="0.8" fill="none"/>
<text x="75.0" y="279.5" font-size="8.1" text-anchor="middle" font-weight="normal" font-style="normal" fill="#1a1a1a" >0.05</text>
<line x1="104" y1="270.4" x2="104" y2="272.59999999999997" stroke="#5a5a5a" stroke-width="0.8" fill="none"/>
<text x="104.0" y="279.5" font-size="8.1" text-anchor="middle" font-weight="normal" font-style="normal" fill="#1a1a1a" >0.10</text>
<line x1="133" y1="270.4" x2="133" y2="272.59999999999997" stroke="#5a5a5a" stroke-width="0.8" fill="none"/>
<text x="133.0" y="279.5" font-size="8.1" text-anchor="middle" font-weight="normal" font-style="normal" fill="#1a1a1a" >0.15</text>
<line x1="60.5" y1="270.4" x2="60.5" y2="271.7" stroke="#5a5a5a" stroke-width="0.8" fill="none"/>
<line x1="89.5" y1="270.4" x2="89.5" y2="271.7" stroke="#5a5a5a" stroke-width="0.8" fill="none"/>
<line x1="118.5" y1="270.4" x2="118.5" y2="271.7" stroke="#5a5a5a" stroke-width="0.8" fill="none"/>
<polyline points="46.00,261.50 86.60,192.47 87.76,194.39 88.92,196.20 90.08,197.92 91.24,199.55 92.40,201.10 93.56,202.57 94.72,203.97 95.88,205.31 97.04,206.59 98.20,207.81 99.36,208.98 100.52,210.09 101.68,211.17 102.84,212.19 104.00,213.18 105.16,214.13 106.32,215.04 107.48,215.91 108.64,216.76 109.80,217.57 110.96,218.36 112.12,219.11 113.28,219.84 114.44,220.55 115.60,221.23 116.76,221.89 117.92,222.53 119.08,223.15 120.24,223.75 121.40,224.33 122.56,224.89 123.72,225.44 124.88,225.97 126.04,226.48 127.20,226.99 128.36,227.47 129.52,227.94 130.68,228.40 131.84,228.85 133.00,229.29 134.16,229.71 135.32,230.12 136.48,230.53 137.64,230.92 138.80,231.30 139.96,231.67" stroke="#22d3e0" stroke-width="1" fill="none"/>
<circle cx="46.32" cy="262.51" r="0.95" fill="#e8141c"/>
<circle cx="47.19" cy="261.96" r="0.95" fill="#e8141c"/>
<circle cx="49.23" cy="262.47" r="0.95" fill="#e8141c"/>
<circle cx="50.62" cy="262.22" r="0.95" fill="#e8141c"/>
<circle cx="52.07" cy="262.47" r="0.95" fill="#e8141c"/>
<circle cx="53.42" cy="262.08" r="0.95" fill="#e8141c"/>
<circle cx="54.67" cy="262.17" r="0.95" fill="#e8141c"/>
<circle cx="56.24" cy="262.51" r="0.95" fill="#e8141c"/>
<circle cx="57.75" cy="262.11" r="0.95" fill="#e8141c"/>
<circle cx="58.80" cy="262.00" r="0.95" fill="#e8141c"/>
<circle cx="58.62" cy="262.03" r="0.95" fill="#e8141c"/>
<circle cx="60.41" cy="261.07" r="0.95" fill="#e8141c"/>
<circle cx="61.74" cy="258.35" r="0.95" fill="#e8141c"/>
<circle cx="62.46" cy="256.54" r="0.95" fill="#e8141c"/>
<circle cx="63.53" cy="253.35" r="0.95" fill="#e8141c"/>
<circle cx="64.95" cy="250.75" r="0.95" fill="#e8141c"/>
<circle cx="65.74" cy="247.98" r="0.95" fill="#e8141c"/>
<circle cx="66.22" cy="244.88" r="0.95" fill="#e8141c"/>
<circle cx="66.84" cy="242.51" r="0.95" fill="#e8141c"/>
<circle cx="67.39" cy="239.54" r="0.95" fill="#e8141c"/>
<circle cx="68.12" cy="236.19" r="0.95" fill="#e8141c"/>
<circle cx="68.88" cy="233.81" r="0.95" fill="#e8141c"/>
<circle cx="69.26" cy="230.67" r="0.95" fill="#e8141c"/>
<circle cx="70.36" cy="228.23" r="0.95" fill="#e8141c"/>
<circle cx="70.95" cy="225.77" r="0.95" fill="#e8141c"/>
<circle cx="71.85" cy="222.63" r="0.95" fill="#e8141c"/>
<circle cx="72.53" cy="219.38" r="0.95" fill="#e8141c"/>
<circle cx="73.46" cy="216.30" r="0.95" fill="#e8141c"/>
<circle cx="74.72" cy="212.22" r="0.95" fill="#e8141c"/>
<circle cx="75.15" cy="208.80" r="0.95" fill="#e8141c"/>
<circle cx="76.78" cy="205.21" r="0.95" fill="#e8141c"/>
<circle cx="77.59" cy="201.36" r="0.95" fill="#e8141c"/>
<circle cx="78.61" cy="198.67" r="0.95" fill="#e8141c"/>
<circle cx="79.60" cy="196.06" r="0.95" fill="#e8141c"/>
<circle cx="82.40" cy="193.20" r="0.95" fill="#e8141c"/>
<circle cx="82.22" cy="192.92" r="0.95" fill="#e8141c"/>
<circle cx="84.13" cy="192.26" r="0.95" fill="#e8141c"/>
<circle cx="85.70" cy="191.73" r="0.95" fill="#e8141c"/>
<circle cx="87.79" cy="192.11" r="0.95" fill="#e8141c"/>
<circle cx="89.19" cy="191.81" r="0.95" fill="#e8141c"/>
<circle cx="90.53" cy="192.14" r="0.95" fill="#e8141c"/>
<circle cx="91.77" cy="192.32" r="0.95" fill="#e8141c"/>
<circle cx="92.70" cy="194.37" r="0.95" fill="#e8141c"/>
<circle cx="94.03" cy="195.75" r="0.95" fill="#e8141c"/>
<circle cx="94.91" cy="196.79" r="0.95" fill="#e8141c"/>
<circle cx="95.92" cy="198.44" r="0.95" fill="#e8141c"/>
<circle cx="97.56" cy="199.95" r="0.95" fill="#e8141c"/>
<circle cx="99.00" cy="200.11" r="0.95" fill="#e8141c"/>
<circle cx="100.14" cy="201.22" r="0.95" fill="#e8141c"/>
<circle cx="101.40" cy="201.57" r="0.95" fill="#e8141c"/>
<circle cx="102.73" cy="202.66" r="0.95" fill="#e8141c"/>
<circle cx="104.40" cy="204.36" r="0.95" fill="#e8141c"/>
<circle cx="105.48" cy="205.11" r="0.95" fill="#e8141c"/>
<circle cx="107.09" cy="206.45" r="0.95" fill="#e8141c"/>
<circle cx="108.15" cy="207.72" r="0.95" fill="#e8141c"/>
<circle cx="108.97" cy="208.50" r="0.95" fill="#e8141c"/>
<circle cx="110.11" cy="209.59" r="0.95" fill="#e8141c"/>
<circle cx="110.88" cy="210.58" r="0.95" fill="#e8141c"/>
<circle cx="112.42" cy="211.48" r="0.95" fill="#e8141c"/>
<circle cx="113.00" cy="212.97" r="0.95" fill="#e8141c"/>
<circle cx="114.28" cy="213.99" r="0.95" fill="#e8141c"/>
<circle cx="115.53" cy="214.94" r="0.95" fill="#e8141c"/>
<circle cx="117.01" cy="215.92" r="0.95" fill="#e8141c"/>
<circle cx="117.72" cy="217.01" r="0.95" fill="#e8141c"/>
<circle cx="118.99" cy="218.14" r="0.95" fill="#e8141c"/>
<circle cx="120.12" cy="219.50" r="0.95" fill="#e8141c"/>
<circle cx="121.42" cy="220.39" r="0.95" fill="#e8141c"/>
<circle cx="123.16" cy="221.10" r="0.95" fill="#e8141c"/>
<circle cx="123.89" cy="222.21" r="0.95" fill="#e8141c"/>
<circle cx="125.75" cy="223.41" r="0.95" fill="#e8141c"/>
<circle cx="126.75" cy="224.15" r="0.95" fill="#e8141c"/>
<circle cx="128.30" cy="225.20" r="0.95" fill="#e8141c"/>
<circle cx="129.9" cy="236" r="0.9" fill="#e8141c"/>
<circle cx="130.4" cy="241.8" r="0.9" fill="#e8141c"/>
<circle cx="133" cy="261.2" r="0.9" fill="#e8141c"/>
<circle cx="133.3" cy="262.3" r="0.9" fill="#e8141c"/>
<line x1="99.2" y1="185.6" x2="112.4" y2="185.6" stroke="#22d3e0" stroke-width="1"/>
<text x="112.1" y="187.4" font-size="8.1" text-anchor="start" font-weight="normal" font-style="normal" fill="#1a1a1a" >Rankine vortex</text>
<circle cx="106.6" cy="194.5" r="0.95" fill="#e8141c"/>
<text x="112.1" y="196.4" font-size="8.1" text-anchor="start" font-weight="normal" font-style="normal" fill="#1a1a1a" >Simulation result</text>
<text x="142.1" y="205.4" font-size="8.1" text-anchor="middle" font-weight="normal" font-style="normal" fill="#1a1a1a" >(water)</text>
<text x="88.8" y="289.9" font-size="8.1" text-anchor="middle" font-weight="normal" font-style="normal" fill="#1a1a1a" >Position (m)</text>
<text transform="translate(15.3,224.5) rotate(-90)" font-size="8.1" text-anchor="middle" fill="#1a1a1a">Tangential velocity (m/s)</text>
<line x1="196.6" y1="186" x2="196.6" y2="268.3" stroke="#5a5a5a" stroke-width="0.8" fill="none"/>
<line x1="196.6" y1="268.3" x2="294.7" y2="268.3" stroke="#5a5a5a" stroke-width="0.8" fill="none"/>
<line x1="194.4" y1="260.5" x2="196.6" y2="260.5" stroke="#5a5a5a" stroke-width="0.8" fill="none"/>
<text x="192.8" y="263.3" font-size="8.1" text-anchor="end" font-weight="normal" font-style="normal" fill="#1a1a1a" >0.0</text>
<line x1="194.4" y1="244" x2="196.6" y2="244" stroke="#5a5a5a" stroke-width="0.8" fill="none"/>
<text x="192.8" y="246.8" font-size="8.1" text-anchor="end" font-weight="normal" font-style="normal" fill="#1a1a1a" >0.1</text>
<line x1="194.4" y1="227.5" x2="196.6" y2="227.5" stroke="#5a5a5a" stroke-width="0.8" fill="none"/>
<text x="192.8" y="230.3" font-size="8.1" text-anchor="end" font-weight="normal" font-style="normal" fill="#1a1a1a" >0.2</text>
<line x1="194.4" y1="211" x2="196.6" y2="211" stroke="#5a5a5a" stroke-width="0.8" fill="none"/>
<text x="192.8" y="213.8" font-size="8.1" text-anchor="end" font-weight="normal" font-style="normal" fill="#1a1a1a" >0.3</text>
<line x1="194.4" y1="194.5" x2="196.6" y2="194.5" stroke="#5a5a5a" stroke-width="0.8" fill="none"/>
<text x="192.8" y="197.3" font-size="8.1" text-anchor="end" font-weight="normal" font-style="normal" fill="#1a1a1a" >0.4</text>
<line x1="195.29999999999998" y1="252.2" x2="196.6" y2="252.2" stroke="#5a5a5a" stroke-width="0.8" fill="none"/>
<line x1="195.29999999999998" y1="235.8" x2="196.6" y2="235.8" stroke="#5a5a5a" stroke-width="0.8" fill="none"/>
<line x1="195.29999999999998" y1="219.2" x2="196.6" y2="219.2" stroke="#5a5a5a" stroke-width="0.8" fill="none"/>
<line x1="195.29999999999998" y1="202.8" x2="196.6" y2="202.8" stroke="#5a5a5a" stroke-width="0.8" fill="none"/>
<line x1="208.2" y1="268.3" x2="208.2" y2="270.5" stroke="#5a5a5a" stroke-width="0.8" fill="none"/>
<text x="208.2" y="278.0" font-size="8.1" text-anchor="middle" font-weight="normal" font-style="normal" fill="#1a1a1a" >0.00</text>
<line x1="232.1" y1="268.3" x2="232.1" y2="270.5" stroke="#5a5a5a" stroke-width="0.8" fill="none"/>
<text x="232.1" y="278.0" font-size="8.1" text-anchor="middle" font-weight="normal" font-style="normal" fill="#1a1a1a" >0.05</text>
<line x1="256" y1="268.3" x2="256" y2="270.5" stroke="#5a5a5a" stroke-width="0.8" fill="none"/>
<text x="256.0" y="278.0" font-size="8.1" text-anchor="middle" font-weight="normal" font-style="normal" fill="#1a1a1a" >0.10</text>
<line x1="279.9" y1="268.3" x2="279.9" y2="270.5" stroke="#5a5a5a" stroke-width="0.8" fill="none"/>
<text x="279.9" y="278.0" font-size="8.1" text-anchor="middle" font-weight="normal" font-style="normal" fill="#1a1a1a" >0.15</text>
<line x1="220.1" y1="268.3" x2="220.1" y2="269.6" stroke="#5a5a5a" stroke-width="0.8" fill="none"/>
<line x1="244" y1="268.3" x2="244" y2="269.6" stroke="#5a5a5a" stroke-width="0.8" fill="none"/>
<line x1="268" y1="268.3" x2="268" y2="269.6" stroke="#5a5a5a" stroke-width="0.8" fill="none"/>
<line x1="291.8" y1="268.3" x2="291.8" y2="269.6" stroke="#5a5a5a" stroke-width="0.8" fill="none"/>
<polyline points="209.16,257.52 231.62,200.92 232.58,203.26 233.53,205.42 234.49,207.42 235.45,209.28 236.40,211.02 237.36,212.64 238.31,214.16 239.27,215.59 240.23,216.93 241.18,218.19 242.14,219.38 243.09,220.51 244.05,221.57 245.01,222.59 245.96,223.55 246.92,224.46 247.87,225.33 248.83,226.15 249.79,226.94 250.74,227.70 251.70,228.42 252.65,229.11 253.61,229.77 254.57,230.40 255.52,231.01 256.48,231.59 257.43,232.16 258.39,232.70 259.35,233.22 260.30,233.72 261.26,234.20 262.21,234.66 263.17,235.11 264.13,235.55 265.08,235.97 266.04,236.37 266.99,236.76 267.95,237.14 268.91,237.51 269.86,237.87 270.82,238.21 271.77,238.55 272.73,238.87 273.69,239.19 274.64,239.50 275.60,239.79 276.55,240.08 277.51,240.37 278.47,240.64 279.42,240.91 280.38,241.17 281.33,241.42 282.29,241.67 283.25,241.90 284.20,242.14 285.16,242.37 286.11,242.59 287.07,242.81 288.03,243.02 288.98,243.23 289.94,243.43 290.89,243.62 291.85,243.82 292.81,244.01 293.76,244.19" stroke="#22d3e0" stroke-width="1" fill="none"/>
<circle cx="208.09" cy="258.87" r="1.05" fill="#e010e0"/>
<circle cx="210.41" cy="256.31" r="1.05" fill="#e010e0"/>
<circle cx="212.17" cy="253.70" r="1.05" fill="#e010e0"/>
<circle cx="213.02" cy="251.33" r="1.05" fill="#e010e0"/>
<circle cx="215.01" cy="249.40" r="1.05" fill="#e010e0"/>
<circle cx="215.63" cy="246.63" r="1.05" fill="#e010e0"/>
<circle cx="215.98" cy="244.32" r="1.05" fill="#e010e0"/>
<circle cx="216.73" cy="242.43" r="1.05" fill="#e010e0"/>
<circle cx="217.06" cy="240.05" r="1.05" fill="#e010e0"/>
<circle cx="217.95" cy="238.42" r="1.05" fill="#e010e0"/>
<circle cx="218.99" cy="235.76" r="1.05" fill="#e010e0"/>
<circle cx="219.33" cy="233.05" r="1.05" fill="#e010e0"/>
<circle cx="219.53" cy="230.34" r="1.05" fill="#e010e0"/>
<circle cx="219.43" cy="228.16" r="1.05" fill="#e010e0"/>
<circle cx="219.90" cy="225.00" r="1.05" fill="#e010e0"/>
<circle cx="220.89" cy="222.81" r="1.05" fill="#e010e0"/>
<circle cx="220.85" cy="220.22" r="1.05" fill="#e010e0"/>
<circle cx="221.89" cy="217.32" r="1.05" fill="#e010e0"/>
<circle cx="222.53" cy="214.81" r="1.05" fill="#e010e0"/>
<circle cx="223.73" cy="212.13" r="1.05" fill="#e010e0"/>
<circle cx="224.83" cy="209.66" r="1.05" fill="#e010e0"/>
<circle cx="225.40" cy="207.57" r="1.05" fill="#e010e0"/>
<circle cx="226.60" cy="205.50" r="1.05" fill="#e010e0"/>
<circle cx="228.06" cy="203.87" r="1.05" fill="#e010e0"/>
<circle cx="229.15" cy="201.87" r="1.05" fill="#e010e0"/>
<circle cx="230.69" cy="199.57" r="1.05" fill="#e010e0"/>
<circle cx="233.50" cy="199.70" r="1.05" fill="#e010e0"/>
<circle cx="233.71" cy="199.93" r="1.0" fill="#e010e0"/>
<circle cx="235.49" cy="200.28" r="1.0" fill="#e010e0"/>
<circle cx="237.15" cy="201.31" r="1.0" fill="#e010e0"/>
<circle cx="239.28" cy="202.08" r="1.0" fill="#e010e0"/>
<circle cx="241.01" cy="202.79" r="1.0" fill="#e010e0"/>
<circle cx="242.74" cy="203.51" r="1.0" fill="#e010e0"/>
<circle cx="244.86" cy="204.21" r="1.0" fill="#e010e0"/>
<circle cx="246.53" cy="205.36" r="1.0" fill="#e010e0"/>
<circle cx="248.09" cy="206.24" r="1.0" fill="#e010e0"/>
<circle cx="250.28" cy="206.90" r="1.0" fill="#e010e0"/>
<circle cx="252.05" cy="208.06" r="1.0" fill="#e010e0"/>
<circle cx="253.84" cy="208.68" r="1.0" fill="#e010e0"/>
<circle cx="255.32" cy="209.81" r="1.0" fill="#e010e0"/>
<circle cx="257.81" cy="210.36" r="1.0" fill="#e010e0"/>
<circle cx="259.05" cy="210.65" r="1.0" fill="#e010e0"/>
<circle cx="261.16" cy="211.19" r="1.0" fill="#e010e0"/>
<circle cx="263.12" cy="211.86" r="1.0" fill="#e010e0"/>
<circle cx="264.59" cy="212.61" r="1.0" fill="#e010e0"/>
<circle cx="266.70" cy="213.50" r="1.0" fill="#e010e0"/>
<circle cx="269.09" cy="214.11" r="1.0" fill="#e010e0"/>
<circle cx="270.90" cy="215.14" r="1.0" fill="#e010e0"/>
<circle cx="273.06" cy="216.43" r="1.0" fill="#e010e0"/>
<circle cx="274.57" cy="217.10" r="1.0" fill="#e010e0"/>
<circle cx="276.27" cy="218.41" r="1.0" fill="#e010e0"/>
<circle cx="277.50" cy="219.90" r="1.0" fill="#e010e0"/>
<circle cx="279.7" cy="238.6" r="0.9" fill="#e010e0"/>
<circle cx="280.2" cy="247.2" r="0.9" fill="#e010e0"/>
<circle cx="280.8" cy="260" r="0.9" fill="#e010e0"/>
<line x1="248" y1="189" x2="256.6" y2="189" stroke="#22d3e0" stroke-width="1"/>
<text x="258.0" y="191.4" font-size="8.1" text-anchor="start" font-weight="normal" font-style="normal" fill="#1a1a1a" >Rankine vortex</text>
<circle cx="253.4" cy="197" r="0.95" fill="#e010e0"/>
<text x="258.0" y="200.3" font-size="8.1" text-anchor="start" font-weight="normal" font-style="normal" fill="#1a1a1a" >Simulation result</text>
<text x="285.6" y="210.2" font-size="8.1" text-anchor="middle" font-weight="normal" font-style="normal" fill="#1a1a1a" >(oil)</text>
<text x="246.3" y="289.4" font-size="8.1" text-anchor="middle" font-weight="normal" font-style="normal" fill="#1a1a1a" >Position (m)</text>
<text transform="translate(179.4,228) rotate(-90)" font-size="8.1" text-anchor="middle" fill="#1a1a1a">Tangential velocity (m/s)</text>
<text x="329.6" y="14.8" font-size="12" text-anchor="start" font-weight="bold" font-style="normal" fill="#111" >(b)</text>
<defs>
<clipPath id="cl0"><path d="M334.90,41.8 L345.30,46.2 L345.30,134.5 L334.90,134.5 Z"/></clipPath>
<linearGradient id="wst0" x1="0" x2="0" y1="0" y2="1"><stop offset="0" stop-color="#60e0f0" stop-opacity="1"/><stop offset="0.5" stop-color="#48b0f8" stop-opacity="0.85"/><stop offset="1" stop-color="#3080ff" stop-opacity="0.5"/></linearGradient>
<clipPath id="cl1"><path d="M362.10,44.7 L372.30,49.3 L371.30,134.5 L362.10,134.5 Z"/></clipPath>
<linearGradient id="wst1" x1="0" x2="0" y1="0" y2="1"><stop offset="0" stop-color="#60e0f0" stop-opacity="1"/><stop offset="0.5" stop-color="#48b0f8" stop-opacity="0.85"/><stop offset="1" stop-color="#3080ff" stop-opacity="0.5"/></linearGradient>
<clipPath id="cl2"><path d="M389.30,47.3 L398.20,53.5 L397.20,134.5 L389.30,134.5 Z"/></clipPath>
<linearGradient id="wst2" x1="0" x2="0" y1="0" y2="1"><stop offset="0" stop-color="#60e0f0" stop-opacity="1"/><stop offset="0.5" stop-color="#48b0f8" stop-opacity="0.85"/><stop offset="1" stop-color="#3080ff" stop-opacity="0.5"/></linearGradient>
<clipPath id="cl3"><path d="M416.50,49.0 L425.40,59.7 L424.40,134.5 L416.50,134.5 Z"/></clipPath>
<linearGradient id="wst3" x1="0" x2="0" y1="0" y2="1"><stop offset="0" stop-color="#60e0f0" stop-opacity="1"/><stop offset="0.5" stop-color="#48b0f8" stop-opacity="0.85"/><stop offset="1" stop-color="#3080ff" stop-opacity="0.5"/></linearGradient>
<linearGradient id="st3" x1="0" x2="0" y1="0" y2="1"><stop offset="0" stop-color="#30c8e8"/><stop offset="0.6" stop-color="#40e0b0"/><stop offset="0.92" stop-color="#d0e030"/><stop offset="1" stop-color="#ff9000"/></linearGradient>
<clipPath id="cl4"><path d="M443.70,48.4 L453.20,61.0 L452.20,134.5 L443.70,134.5 Z"/></clipPath>
<linearGradient id="wst4" x1="0" x2="0" y1="0" y2="1"><stop offset="0" stop-color="#60e0f0" stop-opacity="1"/><stop offset="0.5" stop-color="#48b0f8" stop-opacity="0.85"/><stop offset="1" stop-color="#3080ff" stop-opacity="0.5"/></linearGradient>
<linearGradient id="st4" x1="0" x2="0" y1="0" y2="1"><stop offset="0" stop-color="#40d8a0"/><stop offset="0.4" stop-color="#70e060"/><stop offset="0.7" stop-color="#d0e020"/><stop offset="0.85" stop-color="#ffa000"/><stop offset="1" stop-color="#ff2000"/></linearGradient>
<clipPath id="cl5"><path d="M470.90,49.6 L480.60,60.0 L479.60,134.5 L470.90,134.5 Z"/></clipPath>
<linearGradient id="wst5" x1="0" x2="0" y1="0" y2="1"><stop offset="0" stop-color="#60e0f0" stop-opacity="1"/><stop offset="0.5" stop-color="#48b0f8" stop-opacity="0.85"/><stop offset="1" stop-color="#3080ff" stop-opacity="0.5"/></linearGradient>
<linearGradient id="st5" x1="0" x2="0" y1="0" y2="1"><stop offset="0" stop-color="#50e070"/><stop offset="0.15" stop-color="#d0e020"/><stop offset="0.3" stop-color="#ffa000"/><stop offset="0.5" stop-color="#ff4000"/><stop offset="1" stop-color="#ff2000"/></linearGradient>
<clipPath id="cl6"><path d="M498.10,51.3 L507.80,58.7 L506.80,134.5 L498.10,134.5 Z"/></clipPath>
<linearGradient id="wst6" x1="0" x2="0" y1="0" y2="1"><stop offset="0" stop-color="#60e0f0" stop-opacity="1"/><stop offset="0.5" stop-color="#48b0f8" stop-opacity="0.85"/><stop offset="1" stop-color="#3080ff" stop-opacity="0.5"/></linearGradient>
<linearGradient id="st6" x1="0" x2="0" y1="0" y2="1"><stop offset="0" stop-color="#ff9000"/><stop offset="0.06" stop-color="#ff3000"/><stop offset="1" stop-color="#ff1800"/></linearGradient>
</defs>
<rect x="334.90" y="17.6" width="21.4" height="116.90" fill="#0828ee"/>
<line x1="345.60" y1="17.6" x2="345.60" y2="46.2" stroke="#3060ff" stroke-width="0.7" opacity="0.6"/>
<path d="M355.10,17.6 C353.80,25.6 352.30,29.7 353.10,40.3" fill="none" stroke="url(#wst0)" stroke-width="2.0"/>
<rect x="345.60" y="45.8" width="10.70" height="88.7" fill="#1a50f8" opacity="0.35"/>
<g clip-path="url(#cl0)"><rect x="334.90" y="40.8" width="21.4" height="93.70" fill="#0c36f0"/>
<path d="M336.5 84.0L336.3 82.7L336.2 81.8L334.6 80.9M337.6 118.2L338.2 116.8L338.8 115.3M343.2 77.0L344.6 76.5M341.6 117.0L342.5 115.8L344.0 115.9M340.8 77.8L339.3 77.8L337.2 77.4L336.1 78.4M339.7 77.2L340.8 76.5M335.0 78.1L334.3 76.5L333.6 76.1M337.0 77.8L338.3 76.2L339.2 75.4M341.2 44.1L339.6 45.2L338.6 46.8L337.3 47.3M335.6 76.2L336.2 78.3M335.1 58.9L333.6 58.2L332.4 58.3L332.1 59.5M339.9 96.8L341.3 97.5M341.6 96.0L342.3 94.3L342.5 92.5L341.3 91.5M339.8 85.8L341.2 85.5L341.9 84.1L341.6 82.9M345.0 45.3L346.6 45.9L347.1 47.9M340.3 90.0L341.1 90.3L341.6 91.1M344.0 70.5L344.9 69.7L346.4 68.3L346.6 67.4M335.4 116.9L336.0 116.1L337.8 116.8M337.1 104.4L336.3 103.8L334.5 104.0L333.3 105.0M342.7 95.3L342.8 96.3M341.1 53.6L343.1 53.6L344.9 52.8L345.6 52.0M341.8 97.4L341.0 98.2L339.1 98.5L337.9 99.5M343.0 115.9L342.6 114.7L341.7 113.1L341.0 111.1M342.5 66.2L341.2 66.2L340.6 65.2L339.7 65.3M343.8 67.5L345.5 67.1L347.2 66.7L348.1 67.9M341.6 63.1L341.2 64.3L342.2 65.5M344.7 84.2L344.2 84.9L342.4 85.0L340.6 84.0M337.7 108.1L339.5 108.9L339.9 110.9L339.4 112.1M340.6 98.9L342.2 97.5M342.8 74.8L344.4 73.8L345.4 74.4L345.8 75.5M336.8 128.7L336.6 127.2L336.7 125.5L337.1 124.6M336.4 125.5L336.6 124.1M343.4 60.0L344.4 60.7L345.6 61.8M345.1 65.8L345.5 66.7M344.5 126.8L345.8 126.5L347.8 126.8L349.0 126.9M337.7 99.4L337.3 100.1L335.5 100.1L333.5 99.3M338.2 45.6L337.5 44.9L336.0 45.2L334.7 44.8M341.1 71.3L342.0 71.6L342.9 71.4L343.6 72.2M335.5 104.5L336.0 106.0L336.2 107.0L336.0 108.4M337.2 77.3L337.8 78.1L337.6 79.3L335.6 79.7M340.2 53.5L339.8 55.1L340.0 56.6L341.3 57.3M340.9 47.9L340.3 49.4L341.1 50.9L342.3 50.7M341.1 72.7L341.9 71.0M345.4 87.0L344.0 88.0L342.0 87.3M335.4 117.0L335.7 119.0L334.3 120.4" stroke="#2a6cf4" stroke-width="1.0" fill="none" stroke-linecap="round"/>
<path d="M345.3 129.6L343.2 129.9L342.7 129.1M344.6 111.6L346.5 111.1M345.7 111.1L344.6 112.0M343.9 94.9L344.9 95.5M339.0 100.9L339.1 99.8L338.6 97.9M341.8 66.3L341.8 67.4L342.7 68.5L342.8 70.6M339.1 73.1L338.1 72.5L337.4 71.5M342.2 54.9L342.0 55.7L342.1 56.9L342.2 57.9M338.1 122.0L336.9 121.9L335.5 121.1L333.7 121.2M340.1 42.7L338.4 44.0M337.5 131.5L337.0 132.7M341.5 74.7L341.4 76.5L341.5 78.1M345.4 81.6L345.7 80.4L344.8 79.6M339.9 48.6L339.1 48.1L339.3 46.7L339.9 44.7M336.8 127.9L338.8 128.8M341.6 120.5L342.5 120.7L343.4 122.0L343.6 122.8M337.0 69.6L336.3 68.0L335.3 67.7M339.8 82.5L339.3 83.2L337.7 83.1L336.5 83.4M343.3 90.1L344.4 88.7M335.5 100.1L334.9 100.8M341.9 45.7L341.1 46.6M340.8 128.9L338.9 128.8M338.9 70.1L337.7 69.7M336.8 83.6L337.3 81.6L335.6 80.7L334.9 78.6M344.9 92.7L344.3 90.6L345.9 89.6L347.2 88.2M338.7 70.6L338.9 69.1L339.4 68.3L338.9 67.1" stroke="#40d8d8" stroke-width="0.8" fill="none" stroke-linecap="round"/>
<path d="M341.9 131.1L342.1 133.2L341.4 133.9M341.5 44.5L340.8 44.0M339.8 99.3L339.7 101.2M343.0 64.1L342.2 63.6M338.7 113.5L338.4 111.7M338.0 73.7L336.6 74.4L335.0 73.6L332.8 73.3M335.1 45.0L334.2 43.8L334.6 43.0L334.7 41.6M342.6 114.9L343.2 113.1M340.4 101.7L339.5 100.2M338.0 76.2L336.3 75.7L334.9 75.3L334.1 76.5M344.9 50.2L343.1 50.0M340.9 121.8L342.8 122.2L343.7 124.1L343.7 125.5M341.6 66.8L342.8 66.1M344.1 104.3L343.0 103.8L341.5 104.7L340.3 105.9M344.3 106.5L343.7 107.6L343.1 108.3M337.8 133.5L337.2 131.7M339.1 95.2L340.1 96.3L340.3 98.4L339.6 99.9M345.9 53.8L345.3 53.0L345.8 52.3M343.8 52.9L342.1 53.4L341.4 53.0L340.0 51.5M345.0 110.4L344.0 109.2M341.8 60.4L343.0 58.9L344.5 57.5M337.9 79.3L336.5 80.2L336.0 81.5L334.0 82.5M343.6 97.1L344.4 97.4M335.7 102.8L335.0 103.5L334.3 105.2M343.7 95.6L342.1 94.3L341.9 93.3M342.4 53.6L340.5 53.4L338.9 52.1L337.2 51.4M338.7 100.1L338.6 101.1L338.2 102.3M335.7 110.1L336.1 112.0L336.8 113.8L338.5 115.2M341.4 71.3L342.5 69.4M341.1 72.0L342.8 73.0M337.6 47.3L336.7 47.7L335.2 46.5M342.3 115.6L341.6 117.0L340.4 118.2L339.4 119.2M338.4 43.7L340.4 43.2M340.6 106.0L339.6 106.7M345.6 59.0L343.8 59.1L342.6 59.8L341.8 60.3M342.2 47.4L341.7 48.3M343.6 93.7L344.8 94.2L345.2 95.4M344.7 60.1L345.4 58.6M337.3 87.4L335.9 88.0M336.0 120.4L335.4 118.4L336.1 117.6M345.6 121.8L344.9 122.3L343.7 123.1L343.0 124.8M344.0 69.3L343.4 70.4M337.7 89.2L339.4 89.5L341.0 90.8L341.2 91.9" stroke="#3aa8f0" stroke-width="0.6" fill="none" stroke-linecap="round"/>
<path d="M336.9 97.7L338.0 97.7L338.6 96.1L340.5 96.2M341.3 66.1L341.3 67.0L339.8 68.0M342.3 118.9L340.6 118.1M344.6 45.8L343.5 45.3M341.5 109.3L339.8 109.1L338.9 109.7M338.2 125.9L340.1 126.1L341.0 124.4M335.0 78.1L334.7 79.7L333.8 81.1L334.6 83.2M338.5 93.0L338.4 91.6L337.5 91.0" stroke="#60e890" stroke-width="0.8" fill="none" stroke-linecap="round"/>
<path d="M336.3 93.2L337.4 91.9L339.2 92.4L340.1 93.2M340.6 92.6L340.2 94.4L340.4 95.8L340.8 97.9M340.1 106.2L340.0 107.2L340.4 108.3M335.8 49.3L335.8 48.2L337.0 47.7M338.1 42.6L339.9 43.9M342.1 128.8L340.9 129.9L340.5 130.7L340.5 131.5M343.2 97.8L344.1 99.5L345.8 99.2L346.3 97.2M344.8 61.3L344.0 60.9L344.3 59.0L346.2 57.9M337.4 118.7L338.8 118.8M339.8 45.0L340.5 45.7L342.4 45.7L344.2 46.1M342.1 116.9L341.3 118.7L340.9 119.5L339.9 119.7M342.1 79.1L343.0 77.9M342.2 61.5L343.9 60.3L344.6 59.1M337.5 86.4L336.1 88.1L335.8 89.5M336.2 121.9L335.2 122.1M337.5 78.4L338.5 77.1M337.2 77.3L338.2 79.1L339.0 79.6L340.7 79.3M343.7 62.1L344.9 60.8M341.3 78.9L341.0 80.3L339.5 81.4M339.8 89.0L338.9 90.8M343.7 132.1L342.4 131.7L341.3 131.4L340.4 129.4M343.6 130.8L345.4 131.1L347.2 131.9L348.0 134.0M345.6 42.7L345.8 43.7M338.3 59.8L339.7 58.6M336.7 78.3L336.3 79.7M335.1 118.7L336.2 120.2L336.7 121.3L338.0 122.1M338.7 58.6L338.2 60.0M344.0 83.4L343.8 84.3L343.2 85.0L342.1 84.6M335.7 58.4L335.2 57.7L335.0 56.8L334.0 55.5M338.5 113.3L338.4 111.2L336.7 110.8M337.7 129.8L337.0 130.8L336.0 131.4" stroke="#40d8d8" stroke-width="1.0" fill="none" stroke-linecap="round"/>
<path d="M344.5 75.4L342.9 74.1M340.5 102.2L341.2 103.1M337.2 89.9L336.5 89.4L335.1 87.8L333.7 88.4M335.0 66.8L335.7 68.4L337.6 68.6L339.5 69.6M345.6 55.1L347.6 54.7M336.7 98.9L338.3 97.4L338.8 96.3L339.3 94.2M345.9 44.9L344.5 45.5L344.0 46.4L342.5 47.2M341.5 104.4L340.5 105.9L339.4 107.0L338.2 106.6M337.9 56.3L336.2 56.2L335.2 57.0M335.6 107.8L334.5 106.6L333.6 106.8M345.1 122.1L346.0 120.8L345.5 119.0L344.5 118.8M344.1 45.4L344.9 45.0L344.6 43.3L344.2 41.3M336.7 125.9L337.5 125.2L338.1 124.5M338.2 66.9L339.0 67.3L339.0 68.9L338.2 70.4M340.6 67.3L340.2 68.3L339.2 69.3M342.5 57.7L341.7 59.2M337.6 104.2L339.4 105.4M339.2 81.3L341.0 81.6M345.5 58.5L345.3 60.0M339.7 71.1L338.9 70.6M336.7 46.2L337.8 47.9M337.9 82.6L337.6 84.0L337.3 85.4M337.4 71.2L336.7 72.6L337.0 73.5L338.5 73.6M341.7 75.6L340.3 76.2M344.5 104.7L344.3 105.6M341.8 52.9L339.7 53.0M340.9 103.5L343.0 104.0L343.6 105.9M342.8 70.7L341.8 68.9L342.5 67.8L341.8 66.5M335.9 51.9L337.3 53.6L337.4 55.5M343.5 64.6L341.9 65.9L341.9 67.2L340.5 68.3M336.9 97.5L334.7 97.8L333.7 97.0L332.1 96.5M341.3 63.9L341.3 63.1L340.4 62.3L339.5 61.3M340.8 78.0L339.1 78.7L338.1 79.3L337.0 79.4M344.8 43.1L344.6 42.2L343.5 40.7L342.3 40.5M337.7 103.8L338.9 104.3L339.3 106.2L338.3 107.7M342.5 83.0L340.7 83.3L339.0 83.6M335.5 127.1L334.5 127.2M338.3 108.3L340.1 108.5M342.1 114.6L341.2 115.6M339.8 74.3L340.4 76.3L341.9 77.1M340.1 128.9L342.0 128.4L343.4 127.1L345.0 127.7M344.8 55.1L345.4 55.7M341.4 120.7L340.0 119.2M335.6 105.2L337.1 106.0L338.6 104.8M335.3 124.0L336.2 125.9L337.3 127.3L337.2 128.6M336.8 73.9L337.5 74.8M337.9 93.9L337.9 92.6L338.6 91.7M341.4 107.3L343.3 107.9M337.3 87.1L337.8 89.1L338.8 90.8L338.8 92.9M336.9 126.9L337.8 127.5L338.1 129.2" stroke="#3aa8f0" stroke-width="0.8" fill="none" stroke-linecap="round"/>
<path d="M341.5 72.1L342.1 72.8L343.6 72.4M335.4 109.0L336.0 110.6L335.9 112.0L335.6 113.8M335.2 99.1L335.7 101.0L337.6 101.0L338.9 101.8M340.3 105.7L341.4 106.8L341.0 107.7L339.5 108.4M335.9 87.3L335.0 87.1L334.1 86.6L333.3 86.4M335.2 90.5L334.2 89.7M340.0 95.4L339.6 93.9L339.9 92.9L338.7 92.0M342.4 65.1L342.3 66.9M335.3 118.4L336.4 119.7L337.6 121.1M335.3 51.4L334.9 50.0L335.5 48.0L335.1 46.2M339.3 50.6L340.4 50.5L342.1 49.7M343.2 58.9L342.5 59.9L342.9 60.7L343.9 61.1M335.1 47.0L334.8 49.2M345.6 128.5L347.4 128.4L348.0 127.1L348.3 125.2M345.4 88.0L344.1 87.7L342.5 88.0M338.2 79.9L337.9 81.2M344.6 42.9L343.1 42.3L341.3 41.6L340.4 42.5M336.1 134.3L334.9 132.5L334.3 131.3L333.8 130.3M337.2 132.9L338.9 133.1M344.1 46.7L343.5 47.4L344.1 48.8L343.2 50.3M338.8 84.5L339.2 85.4L339.4 86.2L340.0 88.2M344.1 101.0L342.4 102.1L342.7 103.7M341.0 84.2L342.5 85.4M341.3 60.4L342.0 59.6L343.2 59.9M337.1 64.9L337.5 64.1L337.5 63.1M339.0 72.0L338.4 73.6M335.6 107.7L335.7 108.6L336.1 110.4L336.8 112.1M344.3 86.8L343.9 86.0L343.6 84.2L343.3 82.5M338.1 74.5L337.3 74.9M338.4 83.3L339.3 85.1L340.0 86.3L340.5 87.5M341.6 54.2L340.5 53.9L339.9 52.9L341.4 51.3M340.9 133.3L342.9 133.7L343.5 133.0M340.6 70.2L341.1 72.3L340.2 72.9L338.2 72.8M335.7 69.1L336.1 67.3L334.9 65.9M344.8 126.1L346.8 127.0L348.5 127.1L349.0 126.2M345.2 98.7L344.4 96.8L343.1 96.2L341.6 96.8M336.5 110.7L334.5 110.1L333.6 110.3M340.0 109.1L341.3 109.9M340.9 60.3L342.1 60.7M337.0 116.7L338.3 115.2L338.0 114.5M344.8 45.7L342.8 46.1L342.2 47.6L342.7 48.7M337.9 121.9L337.3 120.2M336.5 75.6L335.1 74.6M345.0 70.4L346.9 70.1M336.1 59.2L335.7 58.2L336.0 57.3L335.1 56.4M340.0 78.2L339.7 77.2L340.3 76.3L342.3 77.1" stroke="#2a6cf4" stroke-width="0.8" fill="none" stroke-linecap="round"/>
<path d="M340.8 61.9L341.4 60.8L340.7 60.1L339.2 60.0M336.8 121.7L338.7 121.3M341.7 130.5L339.9 131.8L339.2 132.5L338.4 133.3M342.4 98.2L343.4 96.6L345.5 96.6M343.1 107.9L345.1 108.5L345.8 109.1M345.4 78.0L347.3 78.4M340.9 85.7L342.2 85.4M345.5 100.6L346.6 100.8L347.8 101.7L349.5 101.8M342.6 65.8L341.3 64.0L340.3 64.1M337.6 121.7L337.7 123.4M341.9 59.4L341.8 58.0M338.2 79.9L337.5 81.2M338.1 59.6L337.0 59.2L335.1 59.1M341.5 61.3L342.4 61.3" stroke="#40d8d8" stroke-width="0.6" fill="none" stroke-linecap="round"/>
<path d="M344.7 46.2L345.5 46.5M345.9 79.0L346.8 79.6L348.6 78.4L348.0 76.6M339.7 74.4L340.0 73.0M342.9 49.4L343.0 50.4M336.6 82.2L337.7 82.8L337.6 85.0M338.9 128.0L339.0 129.7L337.8 130.7L337.4 131.6M343.2 99.8L342.5 98.2M339.7 95.6L340.5 95.3M336.0 104.8L336.7 104.3L338.5 105.0M336.8 85.7L338.6 86.0L340.7 86.3M340.4 42.9L341.6 41.6L341.0 40.7M340.5 105.3L340.4 107.1M337.2 92.5L335.3 92.1L334.7 90.2L336.2 89.1M338.2 82.2L337.2 81.7M337.7 80.9L338.7 81.6M343.9 101.3L342.6 100.4L341.1 101.3L340.6 102.4M336.0 127.5L336.3 128.9M344.8 45.7L344.9 44.5L344.1 44.1M342.7 115.7L341.0 116.0L339.6 117.2M341.4 59.2L342.1 59.8M344.4 78.4L345.4 77.4L345.2 75.9L345.7 75.2M344.0 55.6L342.6 55.7L342.0 57.3L340.8 57.7M336.4 80.3L336.3 81.4M336.2 59.8L335.5 58.3M337.2 92.1L339.1 92.2M344.2 45.3L343.3 44.8L341.6 44.7L341.4 43.9M337.4 92.1L336.2 91.3L335.0 91.6L334.3 93.1M342.0 67.2L341.2 66.7M340.0 125.2L338.8 124.6L339.1 122.5L340.0 121.2M336.2 103.4L334.7 102.0M339.9 90.4L341.2 88.8M342.6 69.2L342.4 71.2L343.0 73.0L343.8 74.1M342.1 101.9L340.3 101.4L339.7 101.9L340.3 103.5M336.4 78.3L336.5 79.3L336.4 81.0L335.9 81.7M344.6 79.0L344.1 80.7L345.1 82.7M337.8 68.9L337.4 67.2L338.2 66.7L340.0 66.1M343.7 108.5L344.4 106.6L344.3 104.4M344.6 57.2L343.7 58.3L343.2 59.1M335.9 76.7L337.5 77.0M341.3 114.6L342.0 113.7M335.6 59.1L334.2 59.3L332.9 60.4M338.2 114.0L337.5 113.5L336.0 114.1L335.4 113.5M339.7 81.0L340.6 80.7M336.6 64.9L336.6 66.2L335.4 67.7M342.7 85.0L342.1 84.5L341.8 83.2M343.1 133.4L341.1 133.4M343.0 105.7L343.0 104.6L343.1 103.1L343.2 101.9M344.9 102.3L343.9 103.9L342.4 104.4" stroke="#2a6cf4" stroke-width="0.6" fill="none" stroke-linecap="round"/>
<path d="M336.3 48.0L336.3 46.6L336.1 44.8M346.0 93.6L345.7 94.6M343.1 59.9L344.5 60.4L346.2 60.0L347.1 60.0M336.9 94.0L338.5 93.3L340.4 92.3L340.1 91.0M341.5 95.4L340.3 96.4L339.4 97.2M338.2 98.5L339.5 99.7M342.1 130.8L341.0 131.0L340.1 130.5L340.0 128.5M340.6 92.8L342.2 92.0M343.9 129.5L343.0 129.5L341.3 128.9M344.7 44.6L346.3 43.3M341.0 125.9L341.2 124.1L342.2 122.5M340.8 74.7L339.4 74.2M338.5 82.9L336.7 83.0L335.5 84.2L333.8 83.6M339.8 52.5L338.8 51.6L337.3 52.2M338.3 52.5L337.7 53.0L337.7 55.1L338.8 55.8M338.0 120.4L339.7 121.6M345.4 114.9L343.6 114.5M340.8 78.2L342.0 76.5L341.8 74.9L340.9 73.4M345.0 67.2L345.4 65.6M342.9 105.4L343.9 105.5L344.6 103.8L345.1 102.8M345.6 103.8L346.0 101.7L344.8 100.5L345.1 99.4M342.7 127.7L344.5 126.9M335.0 90.6L335.4 89.0M343.8 82.9L342.9 81.6M336.0 92.8L336.0 91.7M336.0 55.5L334.5 56.6L332.8 56.3M338.9 53.0L338.7 51.5L337.2 51.1M340.7 42.4L339.7 40.8M336.9 113.3L336.5 114.9M338.5 112.4L337.7 110.8M344.5 52.2L344.5 53.7M339.4 133.4L338.4 132.7L336.7 133.1M341.7 122.2L343.6 122.4L344.8 120.9L344.1 118.8M344.9 57.8L345.6 59.1L346.3 60.8M340.2 55.7L342.0 55.3L342.8 56.3L344.3 56.3M344.9 92.6L345.3 94.0L344.0 95.5M335.6 113.0L335.7 114.2L335.3 115.5M340.6 75.3L339.4 74.7L339.1 73.8M339.7 129.6L339.1 131.5L339.0 132.9M337.0 119.7L335.2 120.4L333.5 119.7M341.4 115.5L339.9 114.7L338.4 114.9L337.7 115.5M340.3 66.2L339.4 65.5L337.8 64.7M337.7 126.6L338.0 127.3L337.9 129.0M343.5 77.7L341.6 78.1L340.1 76.7L339.2 76.8M338.6 115.5L338.0 117.5M342.2 57.7L340.6 58.7L339.0 59.3L339.2 61.5M341.2 111.6L341.1 113.8L340.7 114.8L341.5 115.5M335.7 42.0L334.4 43.8M341.1 110.8L340.1 112.3L340.2 113.2L339.5 114.4M342.1 97.0L341.5 97.9L340.7 98.9L340.6 100.5M342.3 114.6L341.5 113.4L339.9 113.1L338.8 111.1M340.2 86.4L339.7 88.4L339.4 89.3M340.7 58.0L341.8 58.5L342.8 58.2L344.4 57.1M340.0 127.5L338.6 128.0L337.2 129.1L336.1 129.3M340.4 134.1L339.1 133.9M342.6 89.0L341.0 90.2" stroke="#3aa8f0" stroke-width="1.0" fill="none" stroke-linecap="round"/>
<path d="M341.4 65.1L341.2 66.0" stroke="#b8e838" stroke-width="0.8" fill="none" stroke-linecap="round"/>
<path d="M341.9 120.9L341.9 118.9L340.1 118.2M345.2 114.5L345.7 112.7L346.9 112.6M342.7 46.0L343.1 45.1M342.5 122.5L344.0 124.0L345.1 124.3M340.9 122.2L342.3 123.0M343.0 103.5L342.5 102.0L341.6 100.6M335.6 119.7L334.6 119.5L333.6 119.7L331.8 120.5M342.0 89.1L340.9 90.0L339.9 90.0M342.0 67.2L341.9 65.9L342.0 64.7L343.6 63.6M341.5 99.3L340.1 97.8L338.0 97.9L336.7 99.3M345.8 116.3L345.4 115.4L345.4 113.6M344.5 133.4L344.7 132.0L344.3 130.4L342.9 130.0M337.3 47.1L336.3 46.5L334.8 47.4L333.0 47.1M342.9 76.1L342.2 74.0M336.5 85.1L337.3 84.4" stroke="#60e890" stroke-width="0.6" fill="none" stroke-linecap="round"/>
<path d="M343.7 85.6L344.0 86.9L345.9 87.2L346.7 85.9M338.2 118.3L337.2 119.4L335.6 119.8L335.0 121.0M342.2 100.4L342.2 102.4L341.4 104.0" stroke="#b8e838" stroke-width="0.6" fill="none" stroke-linecap="round"/>
<path d="M336.5 74.5L338.4 75.3L339.0 76.3L338.6 77.7M340.3 111.9L339.8 112.8" stroke="#b8e838" stroke-width="1.0" fill="none" stroke-linecap="round"/>
<path d="M338.2 93.0L339.5 93.7M341.8 94.5L343.2 94.9L344.1 95.3L345.0 94.9M345.9 103.7L347.8 104.0L349.0 103.7M337.5 62.3L336.3 63.5L335.4 65.4L334.9 66.0M342.1 86.8L341.8 85.5L343.2 84.8L344.3 85.9M335.0 64.3L335.5 65.4L336.2 66.0L337.2 65.7M342.2 108.1L343.6 108.0M336.2 70.2L335.1 68.7L334.2 68.0L333.4 67.9M339.2 131.2L339.4 129.7L338.0 129.2L336.8 129.8M336.7 62.5L336.7 64.5L335.9 66.4M345.1 131.1L343.4 131.1" stroke="#60e890" stroke-width="1.0" fill="none" stroke-linecap="round"/>
</g>
<rect x="334.90" y="42.8" width="0.9" height="91.7" fill="#30b0e0" opacity="0.6"/>
<polyline points="334.90,41.8 345.60,46.2 356.30,41.8" fill="none" stroke="#60e050" stroke-width="1.4"/>
<polyline points="335.90,42.099999999999994 343.60,45.6" fill="none" stroke="#e0c030" stroke-width="0.6" opacity="0.8"/>
<polyline points="347.60,45.6 355.30,42.099999999999994" fill="none" stroke="#f08030" stroke-width="0.6" opacity="0.7"/>
<rect x="345.00" y="134.5" width="1.2" height="4" fill="#2040f0"/>
<text x="347.2" y="148.9" font-size="9.3" text-anchor="middle" font-weight="normal" font-style="normal" fill="#1a1a1a" ><tspan font-style="italic">t</tspan>=0 s</text>
<rect x="362.10" y="17.6" width="21.4" height="116.90" fill="#0828ee"/>
<line x1="372.80" y1="17.6" x2="372.80" y2="47.8" stroke="#3060ff" stroke-width="0.7" opacity="0.6"/>
<path d="M382.30,17.6 C381.00,25.6 379.50,30.8 380.30,42.5" fill="none" stroke="url(#wst1)" stroke-width="1.6"/>
<rect x="372.80" y="48.0" width="10.70" height="86.5" fill="#1a50f8" opacity="0.35"/>
<g clip-path="url(#cl1)"><rect x="362.10" y="43.7" width="21.4" height="90.80" fill="#0c36f0"/>
<path d="M368.6 62.2L370.3 61.7L370.8 60.7M364.8 115.7L363.8 116.5M371.9 120.0L372.8 121.4L373.8 122.8L374.1 124.8M367.1 124.6L366.7 125.8M371.3 90.8L369.8 91.1M373.0 100.2L373.5 98.9M367.6 88.4L367.1 90.2L368.0 91.9M370.6 101.8L371.3 102.9L372.5 104.3M367.0 50.2L367.4 51.4M370.0 61.0L371.1 59.6M369.3 108.9L370.6 109.5M372.7 60.9L371.9 62.2L370.5 62.6M370.7 72.3L369.5 70.9L370.4 69.6L371.8 69.1M372.3 118.4L371.5 116.5L372.1 115.9M370.5 53.2L369.1 54.9L368.1 54.6L366.7 55.0M370.4 60.9L369.4 62.1M364.2 83.3L365.9 84.1L367.1 83.8L368.3 85.7M362.9 69.6L364.9 69.9L365.7 69.3M370.9 64.1L370.7 65.4M365.8 70.0L366.4 68.7L367.6 68.0M364.1 123.8L365.0 124.3L366.2 124.8M366.7 133.0L365.9 132.4M366.6 51.2L365.7 52.4L363.7 52.0L362.6 50.9M368.2 114.1L367.5 113.4L367.8 112.3M364.1 65.5L362.2 66.4L362.1 67.2M373.3 102.8L372.2 103.1L371.5 102.4L370.0 103.2M366.9 120.0L368.7 118.8L368.8 117.6L369.8 117.3M365.4 112.0L366.2 110.1M372.5 116.4L372.5 115.1M365.5 117.1L366.3 115.3L367.9 114.5L369.5 114.8M371.1 128.6L371.1 129.7L371.4 131.0L373.3 131.8M369.0 101.2L370.0 100.8L371.0 100.7L371.8 100.9M368.3 58.1L367.2 56.3M369.2 61.4L368.7 60.0L370.2 58.6L370.5 57.5M365.1 100.5L366.5 100.3L367.2 99.3M366.3 122.2L365.3 120.9L363.9 119.9L363.8 118.4M372.0 80.0L371.5 81.3M363.1 55.6L363.1 57.3M367.8 105.4L365.9 105.4M364.0 126.4L363.4 125.6L361.6 124.8M363.5 52.2L361.4 52.2M372.6 84.1L373.0 82.4L372.3 81.7M373.2 88.4L372.2 89.0M365.9 88.9L364.7 87.2L363.7 86.4M366.9 125.5L367.3 124.2L366.6 122.9M365.6 89.7L366.6 88.5M371.2 68.9L369.3 69.3M362.3 97.8L361.1 96.2L359.7 95.0L359.9 93.4M366.6 84.7L365.1 85.6L364.8 86.4M364.2 50.2L362.3 50.2L360.4 50.3L360.1 51.5M365.9 127.6L366.0 126.3L364.9 125.8L363.4 126.7M373.1 77.1L372.1 77.0L370.2 77.9L368.7 79.1M366.1 106.4L368.0 106.3L369.0 106.7L370.6 107.5M368.1 107.6L369.4 107.2" stroke="#2a6cf4" stroke-width="1.0" fill="none" stroke-linecap="round"/>
<path d="M370.9 74.2L370.5 75.1L369.4 75.7M369.7 104.4L370.8 104.4L371.7 102.7M371.7 85.9L370.5 86.2L369.0 85.9M365.1 112.6L363.6 113.5L361.8 113.8M366.0 48.2L367.7 49.5L369.4 48.6M368.0 70.5L366.3 69.8M366.6 104.9L364.5 104.7L364.0 103.7L363.2 103.4M369.4 104.4L369.3 103.2M366.7 99.8L367.2 98.4L367.2 96.4L366.2 94.7M368.2 85.3L366.5 84.9L365.0 85.7L363.0 85.7M369.5 119.3L370.4 118.2L371.6 116.5M371.4 94.9L372.6 95.5M365.8 65.7L366.4 66.4L367.5 67.0M371.4 108.5L372.4 109.2L373.4 109.6L374.4 109.8M364.8 61.4L365.2 60.1L366.6 59.3M366.2 102.5L365.6 101.9L365.1 101.1L363.5 101.7M366.5 131.4L367.3 133.3M362.3 93.1L360.3 93.0L359.2 93.4M368.6 101.2L367.2 101.0L366.4 101.5M371.7 75.4L371.9 74.6L373.1 74.6M373.2 106.6L373.2 108.2M362.5 78.2L361.9 79.2M373.1 50.1L372.0 49.9L370.9 49.0L369.3 49.9M364.6 70.8L364.4 72.0L363.6 73.3L364.0 74.2M364.4 123.5L365.1 124.0M370.2 71.7L369.1 70.7M373.1 46.7L373.7 45.9L375.1 45.0M370.3 68.0L368.9 68.7M366.9 104.5L368.2 105.3M363.2 98.7L362.5 97.6L361.0 96.7M371.0 118.3L371.9 118.8L372.5 119.9M363.7 47.2L363.4 48.8L363.5 50.9L364.4 52.5M368.0 132.2L367.5 131.0M373.3 78.1L371.7 77.3L370.6 76.5L371.0 75.0M372.9 97.7L374.8 97.2M370.5 129.0L370.0 127.5L368.5 126.2M362.9 87.3L363.6 86.6L364.2 85.4M362.2 107.9L363.0 108.5L363.9 110.2M364.2 51.0L364.0 52.6L362.4 53.3L360.7 54.4" stroke="#3aa8f0" stroke-width="0.8" fill="none" stroke-linecap="round"/>
<path d="M364.5 53.2L365.1 52.6L366.0 52.1M368.3 134.4L366.9 135.8M362.3 56.7L360.9 56.6L360.4 57.6M365.5 67.6L366.3 66.7M365.8 47.6L365.5 48.7M369.0 132.7L369.6 131.6M363.1 57.3L362.3 57.9L361.3 58.6M371.9 52.0L370.1 52.3M364.5 112.3L364.8 114.4L363.2 115.2L362.6 115.8M362.7 115.2L364.2 114.1L365.2 114.4M372.9 116.9L374.8 117.7L376.1 119.3L377.5 120.5M370.1 92.4L370.9 92.0L370.9 90.5L370.5 89.5M368.5 114.5L367.8 112.7L367.1 111.1L368.0 109.7M373.2 60.0L374.4 59.1L376.0 60.2L376.3 61.6M364.7 54.0L363.5 55.8M364.2 91.8L365.7 91.2L366.6 90.6L366.5 89.8M373.0 66.6L371.7 67.0M366.3 83.4L365.9 82.4M369.4 133.4L367.7 134.0L367.0 135.7M369.0 118.7L368.1 119.7L366.4 120.1M364.0 61.9L363.3 63.7L361.7 64.8M372.3 55.9L373.2 54.1L374.4 53.8M372.5 107.9L372.0 106.1L370.9 105.7M365.8 81.9L365.1 82.3M373.0 61.1L372.3 60.2L371.4 58.5M366.9 47.8L367.6 47.0M372.4 84.4L371.8 85.0L370.4 86.6M363.5 101.4L361.8 102.1L360.5 102.8M367.6 113.9L369.0 114.0L369.4 114.8L370.9 115.5M371.5 107.9L370.8 106.9L370.1 106.2L368.2 107.1M366.4 70.6L368.1 70.4M368.0 113.8L368.1 115.5L367.4 117.1M365.5 46.9L365.0 45.6L365.1 44.6M371.2 72.5L371.7 74.5L370.8 75.7M367.4 80.6L366.2 80.2L364.4 81.5L362.8 81.4M369.7 88.1L371.2 89.1L371.6 90.8M363.1 52.0L364.6 51.0L364.7 49.7L365.5 49.1M366.0 83.1L366.2 82.1L365.3 81.2M364.3 122.5L365.8 123.1L366.6 122.7L368.2 123.0M373.1 102.2L372.4 101.5L371.5 101.5L369.4 101.1M373.2 100.3L373.7 98.5M364.6 115.9L365.3 116.6L365.2 117.8M363.5 93.3L362.7 93.1L361.4 93.0L359.7 93.7M366.5 54.8L365.8 54.4M368.3 110.0L369.4 109.5L369.8 108.8M370.6 53.6L371.5 53.1L371.5 51.7M370.6 46.1L370.2 45.2" stroke="#2a6cf4" stroke-width="0.6" fill="none" stroke-linecap="round"/>
<path d="M365.2 113.3L363.2 112.8L362.3 112.3L361.9 110.9M368.8 133.9L367.9 134.0M371.8 121.3L372.4 120.1L372.7 119.1L373.6 118.1M367.6 96.6L369.1 97.5M364.6 116.4L366.6 117.1L367.8 117.5L368.5 118.9M370.5 117.9L370.7 116.9L370.0 115.0M363.1 62.6L362.9 61.4L364.1 60.1L363.9 58.0M365.3 117.6L366.3 116.6L366.9 115.7M368.2 133.1L368.7 131.5L368.4 129.4L366.7 128.1M363.3 90.4L361.9 89.5L360.6 88.0L360.3 87.3M363.4 102.8L362.1 104.0L360.5 104.2L359.5 105.2M373.2 67.9L373.8 69.8L374.2 70.7M366.6 68.3L367.5 68.4M369.4 54.2L369.7 52.4L369.2 50.6L369.8 48.8M362.6 57.6L363.3 58.5L362.9 59.2L361.0 59.9M366.4 121.9L364.8 123.2L363.1 122.4M367.8 99.1L366.7 100.0L365.7 101.7L365.1 102.4M367.6 89.6L365.8 90.7M370.9 111.2L371.8 111.8L372.2 112.6L373.5 113.1M367.9 127.5L368.0 128.3M365.3 110.9L366.8 111.3M369.8 81.1L369.1 80.3L367.4 79.9M365.6 102.5L365.4 103.5L365.6 104.7L365.6 105.7M372.4 86.0L371.6 86.3L370.8 87.6M369.8 104.6L370.2 105.4L371.2 106.1M371.6 114.4L370.7 114.3M370.4 77.0L368.9 77.0M363.9 46.8L365.8 47.1M364.7 125.5L363.6 123.7L362.4 123.2M372.3 110.8L371.3 109.7L369.5 110.0" stroke="#40d8d8" stroke-width="0.6" fill="none" stroke-linecap="round"/>
<path d="M369.8 106.1L370.6 104.6M362.2 67.6L360.6 67.0L359.1 66.2L358.4 65.3M371.3 115.0L372.9 116.5M366.4 129.9L366.5 128.8M364.1 120.5L362.9 118.8L363.0 117.3M363.5 94.7L362.0 95.8L360.7 95.6L359.8 96.6M362.5 101.4L363.7 102.2M365.0 121.4L363.2 122.6L361.3 122.0M368.5 106.0L369.8 107.0L370.6 108.2M373.2 44.9L372.5 46.0L371.2 46.2L370.1 45.6M373.3 55.0L372.3 56.6M364.8 79.0L365.5 80.1L364.6 81.6M369.3 48.9L370.6 47.7L372.0 47.5L372.3 46.5M365.1 118.7L365.8 117.6L366.0 116.6L367.7 115.5M372.9 104.1L371.6 105.1L370.5 105.3L368.9 106.4M366.7 87.0L368.0 86.2L369.8 86.1L370.5 85.0M371.7 115.9L370.6 116.3L369.6 117.9L370.3 119.4M363.2 103.4L362.3 103.2L361.6 103.7L359.8 103.4M369.5 107.9L369.7 108.8L371.0 110.3M362.3 117.4L361.4 117.7M372.1 125.2L372.8 124.7L374.1 124.2M365.8 64.0L366.9 64.8L368.2 66.1L369.4 67.7M368.4 85.2L368.2 83.6L367.2 82.3M365.9 81.4L364.6 81.7L363.9 82.6M365.7 60.9L364.0 60.5L363.1 60.4L362.6 58.5M371.4 105.8L370.8 105.1L370.7 103.2L371.2 102.5M364.0 131.6L363.3 132.8L363.7 134.8L365.3 135.3M370.1 74.5L370.9 74.5L372.5 75.4M366.0 67.0L364.3 67.5L363.4 67.1L362.1 66.9M367.1 116.0L368.9 114.9L369.8 115.5L369.7 116.3M368.9 99.8L369.6 98.5L370.3 96.6M363.8 110.8L365.1 111.4L366.4 110.3L367.5 109.8M367.1 124.4L365.1 125.0L364.4 124.3L363.0 123.8M367.9 80.3L366.7 79.9L366.2 78.9L365.3 78.2M369.2 74.5L370.3 73.3L371.3 72.4L372.2 72.7M371.0 115.7L369.2 116.6M371.9 80.7L373.1 79.6M363.8 131.7L364.9 130.1L365.4 129.3M364.8 58.2L365.5 56.3M365.0 48.9L366.0 48.9L367.5 47.9L367.9 46.2" stroke="#3aa8f0" stroke-width="1.0" fill="none" stroke-linecap="round"/>
<path d="M364.9 63.1L366.1 63.1L366.4 64.1M367.7 87.9L368.0 88.7L369.5 89.6M369.5 57.8L370.1 56.5L372.1 56.2M371.7 107.3L370.8 108.2M365.1 68.5L363.6 68.4L361.9 68.5M372.2 89.7L371.2 89.4M372.7 108.4L373.4 109.3L373.9 110.2M372.6 69.6L372.8 68.1L371.4 67.0L370.7 67.1M370.1 69.1L370.5 70.3L371.2 70.8M372.5 65.2L372.6 63.5M368.6 91.0L369.1 93.0L370.1 93.8L370.6 94.7M366.7 81.0L365.9 80.3M367.6 76.5L368.5 76.8M364.5 93.2L364.5 95.3M371.8 86.8L372.9 87.1L374.7 87.2M371.6 132.4L372.2 133.5M370.0 87.1L368.2 87.4L366.8 89.1M371.6 107.9L370.7 108.6M370.2 67.9L369.1 68.5L367.6 68.7M368.9 60.5L368.2 61.2M371.1 92.1L370.9 94.1L369.3 94.8M362.3 95.0L361.7 96.3L360.6 97.1M372.0 109.9L371.0 108.6M368.2 104.2L369.0 103.2L370.1 102.1M371.0 71.9L369.9 72.8M370.7 123.1L369.8 124.6L367.8 124.3M364.6 54.0L365.4 54.0M367.4 66.6L368.8 67.4L370.0 67.1M366.1 66.6L365.3 65.3M371.7 120.1L373.6 119.8L374.8 118.1L376.3 118.3M363.1 98.0L362.4 97.1L362.9 95.8L363.0 94.4M372.9 117.6L373.8 117.8L375.3 118.7L374.9 120.1M367.4 96.0L368.3 94.5L369.3 93.2L369.0 92.1M365.3 83.1L366.7 82.5L366.9 81.3L367.8 80.6M365.8 117.7L364.3 118.0M369.3 120.4L370.0 121.3L369.6 122.3M365.2 63.6L367.0 64.3L368.4 63.4L368.4 62.5M366.7 126.5L368.5 126.1M368.7 129.2L367.6 127.5L367.7 125.8M363.9 123.7L363.9 124.7L363.7 126.7L365.4 127.8M362.5 101.1L362.1 100.3L362.3 99.3" stroke="#2a6cf4" stroke-width="0.8" fill="none" stroke-linecap="round"/>
<path d="M369.5 57.8L370.9 58.8M369.5 126.2L370.8 127.0M373.1 71.4L372.0 72.6L371.1 74.4L369.4 74.6M367.9 88.5L369.2 89.2L370.0 88.6M362.5 68.7L363.0 66.9L364.1 66.7L365.1 67.5M365.5 100.2L363.5 100.7L361.8 100.6L360.9 100.0M373.0 109.0L373.4 107.1L374.4 105.7M370.2 66.0L369.2 65.1M367.3 110.4L368.6 111.3L368.2 112.4L367.6 113.9M362.2 104.6L363.5 103.2L363.8 102.4L363.5 101.2M363.6 126.0L362.6 127.0L362.8 128.4M371.2 70.1L372.4 69.4L373.6 67.5L375.0 67.0M366.2 130.9L365.2 132.3L364.6 133.9L365.1 135.9M365.0 61.7L364.9 60.2M365.9 108.8L366.9 108.8L368.4 109.1L369.5 109.5M368.1 108.9L368.7 110.2M362.8 54.3L363.5 52.4L362.6 51.6L361.9 50.7M371.9 80.5L373.1 80.7M365.7 102.2L366.8 101.1L368.7 102.1L368.9 104.1M362.1 111.6L361.3 110.2L361.9 108.3M372.7 79.7L371.7 80.2L371.0 81.4L371.3 82.4M362.8 59.4L363.0 60.8M369.1 61.5L368.5 62.7M365.5 49.6L364.3 48.8L363.1 49.4M362.7 79.4L362.7 78.1M364.4 57.7L364.0 56.9L363.8 56.0L362.4 54.8" stroke="#40d8d8" stroke-width="1.0" fill="none" stroke-linecap="round"/>
<path d="M368.6 75.5L369.7 75.1L371.8 75.6M372.8 88.5L371.5 87.2L369.9 86.9L368.2 85.6M371.6 93.5L370.1 94.3M371.1 118.5L372.6 117.6L372.6 115.8L371.5 115.0M372.5 50.6L372.8 51.8L374.1 52.9L375.3 52.4M363.7 68.3L364.0 67.0L365.5 65.9L366.7 64.7M362.7 116.6L363.8 117.6M368.2 73.3L369.6 72.4L370.5 70.8L370.0 69.9M362.8 99.4L361.9 98.8M372.3 75.6L372.9 76.6L373.7 77.8L374.5 79.7M367.0 114.8L367.2 116.1M365.5 74.6L365.6 76.6L364.8 78.4M370.4 124.0L368.3 124.0L366.6 122.9L365.6 123.6M363.6 67.9L363.0 69.8L363.5 70.6M365.7 87.3L363.9 87.8M366.7 112.9L367.9 113.4L368.8 114.1L369.9 114.1M365.4 64.4L365.1 63.3M365.7 65.0L364.5 66.0M372.4 51.7L373.0 50.6L374.8 49.7L374.9 48.9M370.0 84.8L371.7 85.0L372.7 85.9L374.5 86.6M364.7 46.2L363.4 44.9L363.6 43.2M367.1 68.3L367.2 70.2L367.3 71.1L366.3 72.5M366.2 109.7L367.4 109.9L368.0 111.7M367.9 116.2L368.9 117.1L368.8 119.1M364.1 129.6L363.4 131.7M370.2 84.4L368.8 84.6M363.9 105.3L365.3 104.6L366.8 104.0M364.5 94.5L365.4 93.4" stroke="#40d8d8" stroke-width="0.8" fill="none" stroke-linecap="round"/>
<path d="M367.9 51.2L367.6 52.0L367.7 53.7M372.4 61.4L372.6 60.3L374.4 60.0L375.5 60.4M367.6 85.7L368.0 87.8L368.7 88.5M366.5 100.5L365.9 102.2L366.3 103.4L367.3 105.0M366.1 100.1L367.1 99.3L367.7 97.8L368.8 97.1M362.9 62.5L363.6 61.9L365.7 61.9M362.8 101.4L363.6 102.2L363.4 103.1M366.0 101.2L364.0 100.5L363.0 100.0L361.7 101.1M373.1 62.8L375.0 63.0L375.3 64.0M373.3 89.8L374.0 90.9M367.2 127.0L366.1 127.7L364.9 128.6L363.4 129.9M363.3 52.5L362.6 53.6M362.4 122.0L362.2 120.3L362.9 119.7L363.2 118.8M367.9 95.2L369.3 96.6M362.4 102.2L362.6 103.7L364.5 104.6L365.4 104.3M366.1 88.8L364.9 90.4L365.0 92.3M363.2 104.2L363.5 103.4M364.5 78.6L365.6 77.0M369.6 66.4L370.2 68.2L370.5 69.0M366.6 122.3L367.7 121.9L368.9 121.2M372.0 45.1L371.8 44.1M369.7 47.8L369.2 48.4M372.6 72.6L374.4 71.8L374.7 70.6L375.9 69.8M369.0 128.6L368.1 127.3M363.2 101.6L361.8 102.0M367.7 83.5L366.7 81.6M365.1 123.0L363.5 122.7M367.0 56.9L368.0 57.3L368.8 56.2M367.6 62.9L366.8 64.1L366.6 65.1L365.9 66.9M365.7 88.9L365.3 88.1L365.6 86.1M370.5 115.7L369.5 116.8L368.5 118.7M363.4 81.0L362.9 78.9L363.9 77.2L365.1 75.6M368.6 56.8L369.0 55.8M373.3 96.9L373.6 97.7M368.7 104.4L370.1 104.2" stroke="#3aa8f0" stroke-width="0.6" fill="none" stroke-linecap="round"/>
<path d="M370.3 103.2L369.9 105.0L370.4 105.8L369.1 107.4M367.8 65.1L365.7 64.8M369.9 99.0L369.1 98.4M371.7 131.0L371.8 129.4L371.7 128.3L373.1 126.8M364.3 109.9L364.0 110.7L363.6 112.1L362.7 113.0M367.4 66.4L365.8 66.6M371.4 66.2L369.5 66.2L367.8 65.6M367.7 74.5L367.5 72.7L365.7 71.9L365.0 70.5M369.4 119.6L368.7 121.4L367.8 122.8M369.0 65.4L368.5 63.9L366.5 63.4M370.2 106.9L370.1 108.8M363.0 47.5L362.0 47.7M372.0 62.1L371.1 63.7L369.3 64.9M367.7 125.7L368.6 124.7L369.4 124.7" stroke="#60e890" stroke-width="1.0" fill="none" stroke-linecap="round"/>
<path d="M366.3 121.4L366.8 120.7L366.2 119.9M373.1 80.1L373.0 81.8L372.2 82.6L373.0 84.1" stroke="#b8e838" stroke-width="0.6" fill="none" stroke-linecap="round"/>
<path d="M365.8 129.1L366.1 127.5L365.7 126.4M364.6 109.6L362.9 109.7M371.9 119.4L372.7 118.6L373.7 117.1M372.0 73.8L371.4 74.4M369.6 98.3L369.3 99.6M363.0 85.7L361.5 87.0M369.3 118.8L369.5 117.4L368.3 115.9M370.3 58.8L370.2 59.7L370.0 60.5L370.6 62.0M371.6 91.4L373.1 92.1L373.4 92.9L373.9 94.6M366.9 86.1L367.9 87.6M369.4 45.0L367.9 45.1L367.1 44.5M366.6 100.5L368.3 99.9L368.9 100.5L369.8 102.4M362.5 48.7L364.2 48.6L364.5 47.2" stroke="#60e890" stroke-width="0.6" fill="none" stroke-linecap="round"/>
<path d="M363.6 94.3L364.3 93.6M367.1 61.5L365.6 62.2M367.1 119.1L368.7 120.4L369.9 119.6M362.9 103.2L364.9 102.7L366.7 103.6L367.5 103.1" stroke="#b8e838" stroke-width="0.8" fill="none" stroke-linecap="round"/>
<path d="M372.0 77.6L371.1 77.6L369.8 78.3M362.1 109.7L361.3 108.2M362.4 105.3L363.1 103.6M371.7 130.4L372.1 132.5M369.1 130.3L367.7 129.2L366.2 127.7L365.2 127.6M367.7 70.0L369.1 69.1L370.1 68.8L372.1 68.0M365.3 52.4L366.5 51.2L366.3 49.1L366.3 47.8M369.1 106.0L368.3 105.0L368.5 103.3M371.3 81.6L372.1 81.1L373.5 82.0M368.6 48.7L369.7 49.5L370.9 51.2L371.8 51.2M363.0 45.9L364.7 45.4L365.8 44.6L366.9 44.9M369.1 74.7L369.4 73.7L370.6 73.5L372.1 72.8M364.6 80.4L365.2 81.8M363.8 47.1L363.9 48.7" stroke="#60e890" stroke-width="0.8" fill="none" stroke-linecap="round"/>
</g>
<rect x="362.10" y="45.7" width="0.9" height="88.8" fill="#30b0e0" opacity="0.6"/>
<path d="M371.6,55.7 Q373.1,95.0 372.5,134.4" fill="none" stroke="#2a70f0" stroke-width="0.9" opacity="0.7"/>
<path d="M379.6,57.9 Q375.9,85.4 375.1,112.9" fill="none" stroke="#2a70f0" stroke-width="0.5" opacity="0.7"/>
<path d="M377.1,53.7 Q374.5,85.4 373.5,117.1" fill="none" stroke="#3098f0" stroke-width="0.9" opacity="0.7"/>
<path d="M373.9,53.1 Q371.7,84.4 373.2,115.7" fill="none" stroke="#2a7cf4" stroke-width="0.9" opacity="0.7"/>
<path d="M379.2,58.8 Q377.8,86.2 376.0,113.6" fill="none" stroke="#38b8e8" stroke-width="0.7" opacity="0.7"/>
<path d="M371.9,60.3 Q373.7,90.7 372.4,121.1" fill="none" stroke="#3098f0" stroke-width="0.5" opacity="0.7"/>
<path d="M375.6,62.6 Q372.9,93.3 374.2,124.0" fill="none" stroke="#2a70f0" stroke-width="0.5" opacity="0.7"/>
<path d="M380.7,66.9 Q377.9,94.4 374.4,121.9" fill="none" stroke="#38b8e8" stroke-width="0.5" opacity="0.7"/>
<path d="M378.9,56.0 Q378.0,92.8 374.9,129.7" fill="none" stroke="#2a70f0" stroke-width="0.7" opacity="0.7"/>
<path d="M377.7,60.1 Q375.0,90.7 373.3,121.4" fill="none" stroke="#3098f0" stroke-width="0.5" opacity="0.7"/>
<path d="M382.0,50.5 Q376.7,83.4 375.5,116.3" fill="none" stroke="#3098f0" stroke-width="0.9" opacity="0.7"/>
<path d="M376.6,58.1 Q376.3,85.4 373.7,112.7" fill="none" stroke="#2a70f0" stroke-width="0.5" opacity="0.7"/>
<path d="M372.80,133.5 Q370.80,102.4 364.80,54.2" fill="none" stroke="#40c8e8" stroke-width="1.0" opacity="0.55"/>
<path d="M372.80,133.5 Q371.29,102.4 366.74,54.3" fill="none" stroke="#40c8e8" stroke-width="1.0" opacity="0.55"/>
<path d="M372.80,133.5 Q371.77,105.3 368.69,60.1" fill="none" stroke="#50d8c8" stroke-width="1.0" opacity="0.55"/>
<path d="M372.80,133.5 Q372.26,105.8 370.63,61.1" fill="none" stroke="#2a90f0" stroke-width="1.0" opacity="0.55"/>
<path d="M372.80,133.5 Q372.74,103.9 372.58,57.3" fill="none" stroke="#2a90f0" stroke-width="1.0" opacity="0.55"/>
<path d="M372.80,133.5 Q373.23,104.8 374.52,59.1" fill="none" stroke="#50d8c8" stroke-width="1.0" opacity="0.55"/>
<path d="M372.80,133.5 Q373.72,104.1 376.47,57.7" fill="none" stroke="#50d8c8" stroke-width="1.0" opacity="0.55"/>
<path d="M372.80,133.5 Q374.20,103.1 378.41,55.7" fill="none" stroke="#50d8c8" stroke-width="1.0" opacity="0.55"/>
<path d="M372.80,133.5 Q374.69,103.2 380.36,55.8" fill="none" stroke="#30b0f0" stroke-width="1.0" opacity="0.55"/>
<path d="M372.80,133.5 Q375.17,105.4 382.30,60.3" fill="none" stroke="#30b0f0" stroke-width="1.0" opacity="0.55"/>
<path d="M370.60,134.5 Q372.30,126.5 372.80,118.5 Q373.30,126.5 375.00,134.5 Z" fill="#50e0a0" opacity="0.8"/>
<path d="M371.60,134.5 L372.80,127.5 L374.00,134.5 Z" fill="#f0c020"/>
<path d="M372.10,134.5 L372.80,131.5 L373.50,134.5 Z" fill="#ff4010"/>
<polyline points="362.10,44.7 372.80,47.8 383.50,44.0" fill="none" stroke="#30c0e8" stroke-width="1.1"/>
<rect x="372.20" y="134.5" width="1.2" height="4" fill="#ff3010"/>
<text x="372.3" y="148.9" font-size="9.3" text-anchor="middle" font-weight="normal" font-style="normal" fill="#1a1a1a" >1 s</text>
<rect x="389.30" y="17.6" width="21.4" height="116.90" fill="#0828ee"/>
<line x1="400.00" y1="17.6" x2="400.00" y2="52.0" stroke="#3060ff" stroke-width="0.7" opacity="0.6"/>
<path d="M409.50,17.6 C408.20,25.6 406.70,31.8 407.50,44.5" fill="none" stroke="url(#wst2)" stroke-width="1.6"/>
<rect x="400.00" y="50.0" width="10.70" height="84.5" fill="#1a50f8" opacity="0.35"/>
<g clip-path="url(#cl2)"><rect x="389.30" y="46.3" width="21.4" height="88.20" fill="#0c36f0"/>
<path d="M391.0 101.0L391.1 102.1L391.9 103.2L392.6 104.9M397.4 68.7L396.7 67.3M392.9 59.3L393.3 58.0L393.2 56.4L394.0 54.5M398.8 69.1L399.3 70.3M398.4 68.4L396.7 68.5L395.7 68.2M397.8 68.7L396.5 70.0L396.6 70.9L396.8 72.2M398.2 131.7L398.9 131.2L399.5 129.8L400.1 127.8M398.0 81.6L398.4 80.6L397.8 78.6L397.5 77.6M396.8 74.6L397.9 74.0L399.4 74.1L400.7 75.3M391.7 109.2L390.9 110.3L389.2 110.4L387.6 109.8M397.3 109.3L398.1 109.3L400.0 109.0M397.6 82.2L399.4 82.9L400.1 83.7M396.7 108.2L396.1 107.2L395.1 106.4L393.4 106.4M393.4 123.9L393.3 125.0L394.5 126.0L395.8 127.3M393.2 121.1L394.5 120.5L396.2 119.2M397.5 127.4L397.4 125.8M397.0 114.9L396.2 116.8L395.8 118.6M395.3 60.1L396.5 59.8L397.7 59.1L398.5 58.3M394.0 77.6L393.3 76.9L394.1 75.0M395.5 102.1L395.6 103.3L394.2 104.9L393.5 105.6M396.5 70.9L397.6 70.0L399.3 69.4M392.8 121.1L391.6 121.7L390.7 123.6L390.3 125.0M393.2 130.8L394.1 130.1M389.7 50.0L391.4 49.7L392.1 48.9L394.2 48.3M393.8 95.4L392.8 94.7M395.7 119.3L395.9 117.6L394.3 116.9M393.6 99.5L393.5 98.0L394.6 96.4M399.0 116.1L397.2 115.6L396.4 114.8L397.1 112.9M395.6 65.7L394.9 64.3M394.7 54.3L393.9 53.9M389.9 53.1L390.8 53.1M390.7 98.8L391.5 98.3L392.8 97.5M394.4 130.1L395.8 128.9L397.8 129.0M391.8 111.4L392.8 111.0L394.5 112.3L395.4 112.2M394.1 133.0L393.3 132.4L392.0 132.0M399.0 73.6L400.5 73.9M396.7 85.5L395.7 87.0" stroke="#3aa8f0" stroke-width="1.0" fill="none" stroke-linecap="round"/>
<path d="M395.1 124.0L394.8 122.5L393.9 122.3M393.5 50.4L392.6 52.2L390.6 53.0L388.7 52.2M399.8 65.7L401.8 66.1L403.3 67.3L405.4 67.3M394.8 73.5L393.4 74.9L393.5 76.7L392.3 77.2M394.9 121.9L396.3 121.6L397.6 121.9M392.0 75.2L390.8 76.6L389.5 76.1L389.5 74.3M389.4 82.6L389.7 83.5M399.7 56.7L401.4 55.9L401.7 54.9M394.3 77.7L392.6 76.6L392.7 75.6M392.2 122.3L390.2 123.4L388.6 123.3M396.3 67.1L398.4 66.9L400.0 66.7M394.5 85.4L393.6 84.7M398.4 47.3L400.0 47.2L400.9 45.5L401.5 44.5M399.0 104.6L398.9 103.7L397.9 102.3M391.3 80.9L390.0 80.6L388.2 80.8L387.3 81.2M390.8 57.7L389.5 58.7L388.5 59.4M390.1 80.8L389.7 79.5M398.6 68.4L397.6 67.4L397.8 66.3M394.1 60.6L395.2 60.8L396.5 61.4M395.1 89.2L394.6 91.2L395.4 93.1L397.1 94.0M391.5 48.1L390.7 48.3L389.1 49.0M397.2 65.2L395.3 65.2M396.0 50.1L397.7 50.6L398.5 51.5M393.8 123.6L392.8 123.4L391.8 123.9M399.8 51.8L400.6 52.3M392.3 125.0L392.4 126.5L392.0 127.9L392.5 129.4M393.3 50.7L391.3 50.5" stroke="#2a6cf4" stroke-width="1.0" fill="none" stroke-linecap="round"/>
<path d="M394.2 91.0L394.4 92.5L394.9 93.9L396.5 94.0M391.0 134.5L391.6 132.7M398.6 133.6L397.8 134.8M389.6 125.5L388.5 126.3L386.4 126.2L386.0 124.8M399.7 80.5L397.9 79.7M397.2 87.1L396.8 88.1L395.9 89.8L394.9 89.7M397.2 109.8L398.3 111.1L400.4 111.7M398.4 121.9L397.4 120.6M394.3 71.7L394.8 71.1M390.9 71.0L392.6 71.7L393.5 71.6L394.3 72.9M394.2 76.3L395.0 75.0L395.7 74.4L397.4 73.7M395.9 50.0L395.7 50.8M392.6 85.0L391.4 85.2L390.4 84.1L391.1 82.2M396.5 91.8L396.4 90.8M389.4 96.2L390.3 95.1L390.2 94.0L388.4 92.7M390.6 60.7L392.4 59.7L393.1 60.3M391.5 126.4L390.0 125.2L388.5 123.9L386.7 123.1M398.9 128.0L397.9 128.5L396.9 128.9L396.0 130.0M394.0 108.0L392.3 108.1L390.7 107.3M399.1 131.2L397.7 130.4L396.1 129.2M395.6 70.4L395.4 69.2M391.5 103.0L391.7 103.8M396.6 88.5L397.8 87.6L399.5 86.6L400.7 86.6M389.8 93.5L390.7 92.2L391.6 91.0L393.6 91.4M391.2 100.2L390.3 100.8L390.3 101.9M399.4 112.2L397.3 112.1M393.4 65.5L392.3 64.8L391.0 63.6L391.2 62.6M395.7 102.3L396.1 101.1L396.9 100.2L397.0 99.1M395.4 114.9L395.0 116.9L394.2 118.0M396.9 70.5L395.4 71.8M389.4 98.2L390.2 97.6L391.6 97.0L392.9 97.7M399.2 130.6L398.1 129.3L397.5 128.5L397.3 127.2M391.2 88.8L390.7 90.0L391.1 91.9M397.6 94.6L398.4 95.2M393.2 80.4L393.7 82.5" stroke="#40d8d8" stroke-width="0.8" fill="none" stroke-linecap="round"/>
<path d="M397.0 91.8L397.8 91.1L399.1 91.2M397.2 131.0L396.2 131.1L395.2 130.8M389.6 91.5L388.6 92.1L388.6 93.8L388.0 94.7M397.0 76.9L395.6 76.1L395.1 74.8L393.2 73.8M396.4 72.0L396.6 74.1L397.8 75.5L397.4 76.5M392.5 67.5L391.4 66.6L390.3 64.7M397.2 97.1L397.4 95.0L399.3 94.2M395.7 89.1L395.8 88.0L395.8 87.0M398.6 130.3L399.5 131.9L400.7 132.0L401.1 134.1M394.6 122.0L395.4 122.5L395.9 124.2L395.3 124.8M399.1 117.0L398.0 118.4L397.0 120.1L398.2 121.5M396.8 92.0L396.0 90.7M390.6 89.7L391.5 88.3M394.8 117.9L394.2 119.0L393.1 120.3L392.2 121.7M392.1 65.8L391.7 63.8L391.7 61.7M400.2 63.3L399.3 63.0L399.0 61.9L399.4 60.2M389.4 49.1L388.3 50.3L388.9 52.0M392.2 90.9L393.1 91.2M391.8 125.8L393.3 126.7M398.0 63.1L398.4 62.0L398.6 60.0M399.2 47.9L398.6 49.4L398.8 50.7M392.3 122.2L391.5 121.8L389.8 121.3L388.8 120.0M400.3 118.4L402.1 118.4L403.4 117.7M390.8 82.7L388.6 82.8M396.1 105.8L396.7 106.7L397.9 106.8M395.1 133.7L396.3 134.0L396.3 135.3M398.0 106.8L398.4 108.5M398.6 60.9L398.5 59.5L398.8 57.4L397.7 56.0M398.4 65.6L398.2 64.8L396.6 64.0L395.7 62.5M397.1 106.2L396.3 106.2L395.1 107.7M393.4 69.1L392.4 70.5M393.8 105.2L394.8 104.0M397.9 115.6L399.0 115.1L399.8 114.6M390.2 99.1L389.7 97.8L390.5 96.7M394.1 94.1L394.0 95.3L392.9 95.8L390.9 96.2M397.9 129.0L396.8 127.3L395.8 126.7" stroke="#2a6cf4" stroke-width="0.6" fill="none" stroke-linecap="round"/>
<path d="M396.4 85.0L396.4 83.2L395.7 82.1M395.7 65.4L394.8 64.9L394.3 63.6M392.5 93.9L392.6 92.9L393.6 92.2M398.0 88.9L399.1 88.9L400.9 89.7L402.6 90.1M390.6 115.7L391.7 116.8M390.1 89.3L389.0 88.3M389.6 56.8L389.5 58.2L390.3 59.2M399.2 97.3L397.4 98.5L396.6 98.0L395.3 98.4M389.5 74.5L391.1 74.1L392.4 75.3L392.1 76.0M395.9 62.2L395.9 63.4L395.0 63.8L394.1 64.7M391.4 131.0L390.5 130.8L389.7 131.1L388.2 131.3M394.4 126.0L393.0 125.1L391.7 124.2M400.1 88.0L400.5 86.6M393.7 56.5L393.0 56.0L392.1 56.1L390.5 56.8M397.6 105.1L398.6 105.0L399.7 105.5M397.8 54.1L398.6 52.1L399.1 51.2L400.4 50.9M389.6 100.2L387.7 99.7L386.5 101.3L384.6 101.8M392.5 111.7L393.9 111.1M394.3 72.1L394.8 73.3L396.5 73.4M397.4 72.3L396.5 73.3L395.0 74.5L394.5 75.8M391.3 47.6L392.2 46.5L393.0 46.6L393.7 45.3M392.7 85.1L393.6 84.3L393.5 83.0M392.7 115.2L392.6 114.1L392.1 112.3M398.6 102.1L398.1 100.5M394.2 107.7L392.8 106.9L391.8 107.6M394.0 72.7L392.8 74.4L392.2 75.1L390.3 75.7M394.4 53.6L396.0 54.0L396.9 54.1M390.7 60.1L390.7 58.3M395.1 83.5L393.1 83.4L391.7 83.7M394.0 77.9L393.5 79.6M393.3 71.8L394.6 71.8M395.9 60.9L396.4 62.0L397.3 62.1L398.5 61.7M396.6 98.9L395.3 99.6M395.2 122.4L393.3 122.0L392.7 120.9M393.9 101.1L395.4 100.7L396.1 100.2M392.8 89.2L393.7 87.4L393.6 85.7L394.8 84.8M396.7 119.4L397.5 120.6L399.4 121.6M400.2 115.8L400.3 117.0L401.6 118.5M391.8 55.3L390.4 54.2L389.4 52.7L388.5 51.3M396.4 94.5L398.5 94.7L399.1 95.2L400.1 94.5M392.3 86.1L391.1 86.3L389.7 85.1L389.9 83.7M395.1 127.0L395.8 127.8L395.3 128.7" stroke="#40d8d8" stroke-width="1.0" fill="none" stroke-linecap="round"/>
<path d="M399.9 86.3L399.5 85.0L400.0 83.5L401.7 83.2M395.2 82.0L396.4 80.6M395.1 59.3L394.2 59.3L393.2 59.7L393.0 60.7M392.3 86.1L391.4 85.3L391.1 84.3M398.2 108.0L399.0 109.9L398.4 111.6L397.1 112.0M395.4 68.0L395.1 66.3L397.1 65.3M395.8 121.8L395.9 123.2M398.2 115.4L399.3 115.4L401.4 115.3M392.9 129.3L393.7 127.6L394.8 127.3M393.1 94.5L393.8 93.5L393.3 91.4L392.7 90.8M398.3 101.0L397.0 100.0M395.5 96.4L394.5 97.2L392.7 97.2M398.0 90.3L397.9 88.7L399.4 88.2M392.4 93.1L391.7 94.3L390.9 95.0M397.9 51.3L396.0 50.3L396.0 49.3M389.4 84.7L389.8 85.6L389.7 87.5M400.3 95.3L401.1 96.6L400.1 98.4M400.4 118.0L401.7 116.9L402.5 116.0M398.8 133.0L397.1 132.8L396.6 130.9M397.9 97.4L396.9 95.5L397.8 94.6L398.6 92.9M398.1 63.6L398.6 61.6L398.5 60.6L397.4 60.2M394.3 97.7L394.6 96.8M398.1 118.7L396.4 118.3L395.6 118.8M395.2 65.3L394.7 66.3L394.8 67.3M399.9 76.6L400.8 76.5L402.3 75.5M399.2 119.1L398.0 118.5L396.8 119.5M391.9 69.9L391.8 67.8L391.5 66.0L390.3 64.3M399.6 95.2L399.0 96.2L396.9 96.6L395.5 96.6M393.2 102.7L393.7 103.6M398.1 76.0L399.0 77.0M397.9 112.0L398.8 112.4L400.3 112.5L402.2 112.0M395.9 72.1L394.9 73.2L393.7 74.1M391.1 116.9L390.7 118.9L390.9 121.1L390.3 122.2M391.6 84.6L392.7 84.5L393.3 82.7M396.0 84.9L394.2 83.7M392.8 63.3L394.0 63.1L395.8 63.8M389.9 113.7L390.2 115.5L391.2 115.7L392.5 114.0M398.5 116.4L399.8 116.3M394.6 72.0L393.4 71.1M393.6 91.3L393.6 92.2M392.4 83.5L391.4 83.9L389.5 83.5M396.5 73.5L397.8 73.4L398.6 72.3L400.5 71.5M399.5 127.4L400.1 128.3L400.6 129.0L402.5 129.2" stroke="#3aa8f0" stroke-width="0.8" fill="none" stroke-linecap="round"/>
<path d="M397.4 83.5L397.6 82.1M394.6 79.3L395.7 78.9L397.2 77.6L398.5 76.5M391.6 68.2L390.6 68.1L389.9 69.4L390.0 71.0M398.0 59.6L399.3 59.6L400.1 60.4M391.9 116.5L393.6 115.9L394.4 116.0L394.7 117.3M394.4 94.0L394.4 95.1M395.5 91.6L395.2 93.1M395.6 67.1L396.4 67.2M393.5 71.2L392.1 72.0L392.2 74.1M394.8 111.3L396.0 111.5M399.4 94.9L398.9 93.8L398.9 92.6L398.9 91.6M392.7 78.6L392.2 78.0M398.5 53.6L397.5 54.1M389.6 75.5L388.6 76.9L387.3 77.6L386.5 77.9M391.6 106.2L392.0 108.0L392.5 109.1M394.2 53.6L393.2 52.2M393.1 130.6L391.8 130.2L391.1 129.7M400.5 66.8L401.0 67.9L401.4 69.1M390.2 114.1L389.8 112.9M395.5 54.9L397.3 56.0M390.3 73.3L390.7 74.8L391.0 76.5L391.2 77.8M396.9 60.8L395.2 60.1M392.2 107.2L392.5 108.5L392.0 109.3L392.3 111.2M399.5 110.8L397.8 111.8L397.6 113.2M391.5 105.4L392.9 106.6M396.6 60.1L398.4 59.1L399.1 58.7L399.9 57.0M400.0 87.9L401.4 86.7M391.4 63.1L392.3 61.9L393.4 61.9L394.4 61.5M398.1 119.6L397.1 120.9L396.3 121.2L395.0 120.6M397.5 48.0L398.6 47.0L400.1 46.4L401.6 45.3M395.1 70.3L395.9 69.9L396.9 70.7L397.7 71.2" stroke="#40d8d8" stroke-width="0.6" fill="none" stroke-linecap="round"/>
<path d="M394.6 48.0L395.4 49.1M390.0 64.5L389.1 63.6L389.0 61.8L390.2 60.5M391.3 76.5L390.4 75.5M392.4 93.3L392.0 95.4L393.6 96.8L395.4 96.3M390.1 120.2L391.5 118.9L390.8 117.2M393.0 99.5L392.3 98.5L392.3 97.0M395.9 125.7L397.2 124.4M392.5 64.9L390.7 64.9L390.0 63.9L389.6 63.0M389.7 93.7L389.6 94.7L389.2 96.5L389.8 97.1M390.3 113.6L389.4 114.1L387.4 114.8M389.6 103.8L389.6 102.0L391.1 100.7L392.9 100.1M395.1 88.1L393.8 86.9L392.9 85.0M392.6 93.9L393.9 93.1L394.9 93.3L396.2 94.5M393.1 97.1L393.4 95.4L393.8 94.6" stroke="#60e890" stroke-width="0.6" fill="none" stroke-linecap="round"/>
<path d="M397.1 105.7L398.4 104.7M390.8 76.8L389.8 77.8L389.8 79.6M397.8 133.2L398.8 131.7L399.9 131.7M399.3 128.1L400.0 127.6L400.8 127.6L402.7 128.6M390.4 98.5L391.4 98.9L392.8 99.8L393.5 101.1M391.8 81.0L392.6 81.9L393.1 83.7L394.4 83.9M399.6 80.6L401.4 81.1L402.4 80.2M393.4 118.8L394.5 120.4L393.6 122.2M398.1 72.6L400.1 72.4L401.6 71.1M396.5 56.3L395.5 56.0L394.2 55.5L392.8 56.7M396.2 75.3L395.3 75.5L393.6 76.1L393.3 76.9M394.8 81.8L396.3 80.5L397.2 79.3M398.3 72.0L397.7 73.1L396.2 73.6L395.4 72.9M395.1 108.1L393.2 107.8M393.3 62.2L392.1 61.7M399.3 70.1L400.8 71.4L400.8 73.2M393.2 66.3L393.6 64.8L394.3 63.1L393.7 61.8M399.1 126.1L399.7 128.0L399.4 129.3M394.4 117.2L394.7 118.4M398.5 123.3L400.3 123.1M397.4 88.6L398.4 88.6L400.5 88.6M392.7 118.2L394.3 118.5L394.6 120.1M399.0 133.4L400.2 134.4L401.2 134.7L402.1 134.9M390.4 98.6L389.4 99.1M398.4 72.0L397.5 71.9L396.6 71.7L396.3 69.7M393.9 63.1L394.7 62.7M398.4 48.3L398.7 46.9L398.3 45.3M396.7 69.2L397.3 67.5L397.7 66.4M399.3 121.1L400.2 121.6M397.5 84.0L398.4 84.0M396.1 74.1L396.1 73.0L397.1 72.8L399.0 72.1M395.0 94.5L395.9 94.6L396.6 93.5M395.7 93.3L394.3 93.2M398.6 60.2L398.9 58.1L400.5 57.3L401.3 57.1M390.1 63.5L391.5 65.0L392.2 65.9L392.1 67.4M399.1 72.2L398.5 73.8L397.3 75.4L395.9 75.9M390.1 87.9L391.0 88.1L391.7 89.2M397.0 90.3L396.7 89.0L397.8 87.3M399.0 76.6L398.6 78.0L397.8 78.7M398.4 111.1L396.6 110.0L395.7 110.1L394.7 111.7M396.9 56.3L398.5 55.1L398.1 53.8M396.1 107.6L398.0 107.6M395.4 118.9L396.7 120.2M395.7 92.2L397.4 93.0L398.2 93.7L400.1 92.7M390.9 90.3L390.3 91.2L391.6 92.7M393.7 57.3L392.5 58.0M396.6 60.6L395.2 60.5L394.2 60.8" stroke="#3aa8f0" stroke-width="0.6" fill="none" stroke-linecap="round"/>
<path d="M400.0 77.1L400.5 78.9L400.1 80.0M396.3 74.2L397.8 73.8L398.2 72.1L399.4 71.6M400.4 105.8L398.6 106.8L397.6 106.3M393.3 78.9L392.5 80.8L391.6 81.9M399.7 121.5L397.9 121.4M396.6 97.4L397.3 96.4L399.2 96.4M389.8 76.7L389.0 75.6L389.4 74.3L390.6 73.8M394.9 105.0L393.8 104.6L391.8 105.1L390.7 105.0M398.7 133.0L399.4 132.3M396.2 58.0L394.9 57.8L393.9 57.4L392.5 57.8M399.9 99.6L399.8 98.0" stroke="#60e890" stroke-width="1.0" fill="none" stroke-linecap="round"/>
<path d="M400.3 120.0L399.3 121.2M396.9 96.6L397.1 98.1L398.6 99.2L400.4 99.6M393.2 119.2L394.0 119.2L394.9 118.9M390.0 67.2L388.5 67.5L388.4 68.4L388.2 69.3M398.7 58.2L398.0 57.5M392.7 97.8L392.7 98.7L393.3 99.8M390.4 126.1L392.3 126.1M391.1 104.3L392.4 102.7L391.8 101.7M394.4 116.0L394.0 117.0L393.9 118.4L394.7 119.6M396.9 49.3L398.2 49.1M399.5 102.9L399.1 103.9M393.1 78.0L392.3 78.9M394.9 115.6L395.9 115.9L397.4 116.4L398.8 118.0M389.4 100.9L389.1 102.0M397.5 54.2L397.4 56.2M394.5 101.5L393.2 101.6L391.7 102.6M395.2 128.9L394.2 128.5L393.3 128.3L391.8 127.2M398.0 79.5L398.7 80.5L398.3 82.0M391.1 127.0L390.6 126.0L391.1 124.5L390.2 123.4M390.0 130.8L392.0 131.7L393.1 132.9M396.9 122.4L398.0 122.3L399.2 122.6M395.5 98.9L397.0 98.0L398.0 97.9L399.0 96.5M394.4 121.1L395.2 120.6M400.1 103.9L399.8 106.0L399.6 106.8L399.0 107.7M397.2 66.3L395.9 64.9L396.5 63.2L395.3 61.4M391.7 96.9L392.0 95.5L392.7 94.7M392.6 48.5L393.2 47.8L394.3 47.7L396.0 48.0M389.5 97.4L390.5 98.6L392.4 99.3M397.4 104.7L396.3 105.5L396.2 106.4L396.3 108.3M400.0 60.4L400.3 61.2L400.9 63.0M396.9 66.0L396.9 67.1L395.9 68.2L396.0 70.2M390.2 89.4L392.3 89.4L394.3 90.2L394.6 91.5M389.4 56.7L389.1 57.6L387.6 58.8L387.4 60.0M400.0 80.2L400.4 79.5" stroke="#2a6cf4" stroke-width="0.8" fill="none" stroke-linecap="round"/>
<path d="M389.6 54.7L388.3 56.2L386.9 56.5L385.0 55.6M391.6 97.2L392.4 99.2L391.1 100.8M394.5 58.5L394.2 59.9M397.9 69.0L396.2 68.3M400.4 79.1L401.3 79.5L402.9 81.1L403.3 82.2M398.2 98.4L397.5 96.9L397.9 95.8M390.4 99.2L390.5 100.4L390.6 101.3M397.6 100.2L398.1 99.0L398.4 97.7L398.7 96.3M395.4 76.5L394.5 76.8L392.6 77.4L391.3 77.4M391.5 117.4L389.8 118.2L388.3 117.4" stroke="#60e890" stroke-width="0.8" fill="none" stroke-linecap="round"/>
<path d="M396.2 48.1L398.0 47.3M400.2 71.0L401.8 71.2L402.4 73.0L403.3 74.0M394.1 111.9L393.2 112.9L393.5 113.8L392.2 115.4M392.4 68.8L391.4 68.5L389.8 69.2" stroke="#b8e838" stroke-width="1.0" fill="none" stroke-linecap="round"/>
<path d="M391.1 48.5L390.4 49.9M398.1 67.5L398.9 68.0L399.8 67.7M399.9 120.8L399.0 121.4L398.2 121.2M391.0 57.7L391.7 56.7L391.5 55.3" stroke="#b8e838" stroke-width="0.6" fill="none" stroke-linecap="round"/>
<path d="M399.3 104.5L398.6 105.9L398.6 107.6L399.1 108.4" stroke="#b8e838" stroke-width="0.8" fill="none" stroke-linecap="round"/>
</g>
<rect x="389.30" y="48.3" width="0.9" height="86.2" fill="#30b0e0" opacity="0.6"/>
<path d="M406.9,65.6 Q404.8,94.9 401.2,124.3" fill="none" stroke="#2a7cf4" stroke-width="0.7" opacity="0.7"/>
<path d="M403.2,62.1 Q400.9,87.1 400.7,112.0" fill="none" stroke="#3098f0" stroke-width="0.7" opacity="0.7"/>
<path d="M401.8,56.3 Q402.1,89.6 400.7,122.9" fill="none" stroke="#2a7cf4" stroke-width="0.9" opacity="0.7"/>
<path d="M400.9,58.6 Q399.7,90.6 400.4,122.7" fill="none" stroke="#2a7cf4" stroke-width="0.5" opacity="0.7"/>
<path d="M408.2,67.9 Q403.6,100.7 401.7,133.5" fill="none" stroke="#3098f0" stroke-width="0.5" opacity="0.7"/>
<path d="M402.2,69.8 Q401.2,93.5 400.8,117.3" fill="none" stroke="#3098f0" stroke-width="0.7" opacity="0.7"/>
<path d="M408.5,60.3 Q405.1,93.7 402.0,127.0" fill="none" stroke="#3098f0" stroke-width="0.7" opacity="0.7"/>
<path d="M407.0,65.0 Q405.4,89.9 401.8,114.7" fill="none" stroke="#38b8e8" stroke-width="0.7" opacity="0.7"/>
<path d="M402.8,58.3 Q400.5,85.4 401.3,112.5" fill="none" stroke="#3098f0" stroke-width="0.9" opacity="0.7"/>
<path d="M401.8,55.5 Q401.4,86.7 400.5,117.9" fill="none" stroke="#38b8e8" stroke-width="0.5" opacity="0.7"/>
<path d="M401.4,67.3 Q400.9,97.7 400.5,128.2" fill="none" stroke="#38b8e8" stroke-width="0.9" opacity="0.7"/>
<path d="M405.6,70.0 Q403.7,95.2 402.1,120.5" fill="none" stroke="#2a70f0" stroke-width="0.5" opacity="0.7"/>
<path d="M400.00,133.5 Q398.50,108.1 394.00,65.8" fill="none" stroke="#30b0f0" stroke-width="1.0" opacity="0.65"/>
<path d="M400.00,133.5 Q398.94,107.7 395.75,64.8" fill="none" stroke="#2a90f0" stroke-width="1.0" opacity="0.65"/>
<path d="M400.00,133.5 Q399.37,107.5 397.50,64.6" fill="none" stroke="#50d8c8" stroke-width="1.0" opacity="0.65"/>
<path d="M400.00,133.5 Q399.81,105.3 399.25,60.1" fill="none" stroke="#40c8e8" stroke-width="1.0" opacity="0.65"/>
<path d="M400.00,133.5 Q400.25,104.0 401.00,57.6" fill="none" stroke="#2a90f0" stroke-width="1.0" opacity="0.65"/>
<path d="M400.00,133.5 Q400.69,107.4 402.75,64.3" fill="none" stroke="#50d8c8" stroke-width="1.0" opacity="0.65"/>
<path d="M400.00,133.5 Q401.12,105.4 404.50,60.4" fill="none" stroke="#30b0f0" stroke-width="1.0" opacity="0.65"/>
<path d="M400.00,133.5 Q401.56,103.4 406.25,56.3" fill="none" stroke="#2a90f0" stroke-width="1.0" opacity="0.65"/>
<path d="M400.00,133.5 Q402.00,105.4 408.00,60.4" fill="none" stroke="#40c8e8" stroke-width="1.0" opacity="0.65"/>
<path d="M397.80,134.5 Q399.50,126.5 400.00,118.5 Q400.50,126.5 402.20,134.5 Z" fill="#50e0a0" opacity="0.8"/>
<path d="M398.80,134.5 L400.00,127.5 L401.20,134.5 Z" fill="#f0c020"/>
<path d="M399.30,134.5 L400.00,131.5 L400.70,134.5 Z" fill="#ff4010"/>
<polyline points="389.30,47.3 400.00,52.0 410.70,46.0" fill="none" stroke="#60d8a0" stroke-width="1.1"/>
<polyline points="401.00,51.5 409.70,46.5" fill="none" stroke="#d8e040" stroke-width="0.6" opacity="0.8"/>
<rect x="399.40" y="134.5" width="1.2" height="4" fill="#ff3010"/>
<text x="399.5" y="148.9" font-size="9.3" text-anchor="middle" font-weight="normal" font-style="normal" fill="#1a1a1a" >2 s</text>
<rect x="416.50" y="17.6" width="21.4" height="116.90" fill="#0828ee"/>
<line x1="427.20" y1="17.6" x2="427.20" y2="58.2" stroke="#3060ff" stroke-width="0.7" opacity="0.6"/>
<path d="M436.70,17.6 C435.40,25.6 433.90,32.8 434.70,46.5" fill="none" stroke="url(#wst3)" stroke-width="1.6"/>
<rect x="427.20" y="52.0" width="10.70" height="82.5" fill="#1a50f8" opacity="0.35"/>
<g clip-path="url(#cl3)"><rect x="416.50" y="48.0" width="21.4" height="86.50" fill="#0c36f0"/>
<path d="M426.0 88.0L427.0 86.6L428.9 86.8L430.1 87.6M417.4 118.5L416.2 117.3M416.8 88.4L415.6 88.7L415.2 90.0M423.2 58.6L423.3 56.9M417.8 92.1L418.9 92.3L420.2 93.2L422.1 93.3M426.0 88.0L426.8 87.9L427.7 88.1L429.1 89.1M421.1 102.3L421.9 102.6M419.2 126.7L418.4 127.5M425.8 103.3L424.4 104.0L423.2 102.7M422.2 86.1L420.3 86.1L419.8 87.0M422.9 110.5L421.1 111.6L420.3 112.1M422.4 119.5L420.5 120.0L419.8 121.1M423.5 120.1L425.2 119.1M418.8 104.0L419.4 104.7M420.5 74.0L420.1 72.7L418.2 72.1L417.5 70.7M426.0 119.9L427.0 118.2L428.8 117.6M421.0 113.9L421.2 112.8L419.9 111.9L419.0 110.5M418.5 94.0L419.9 94.3M420.4 125.9L421.5 127.2L423.3 126.9M423.8 109.8L422.6 110.6L421.8 110.3L420.6 111.5M420.7 102.1L421.0 100.1M419.5 127.0L417.5 127.6L416.9 128.9M420.2 71.9L419.3 71.6L418.1 72.1L417.5 71.4M418.8 96.6L420.0 98.0L421.5 99.5M420.6 107.2L421.0 105.4L421.1 104.4L421.1 103.6M425.4 115.7L426.6 117.1M424.3 99.5L423.4 100.7M421.6 50.5L419.9 49.9M423.9 78.3L425.5 77.6L427.3 77.6M420.2 68.1L418.6 68.6M424.4 73.4L425.6 75.2L425.8 75.9M422.2 126.2L420.6 124.8L420.4 123.5" stroke="#2a6cf4" stroke-width="1.0" fill="none" stroke-linecap="round"/>
<path d="M417.7 56.0L419.7 56.5M423.3 103.6L423.2 102.3L422.3 100.8L421.5 100.9M419.1 106.1L419.7 107.0L419.8 108.6M421.4 64.2L420.8 65.2L419.9 65.2M418.4 109.3L420.2 109.8M426.1 59.0L424.2 59.1L423.4 59.1M416.5 92.5L417.7 91.2M420.5 115.2L421.0 116.7L422.2 117.6M423.7 104.4L424.3 105.3L425.8 106.0M419.6 78.9L420.9 77.7L420.7 75.9L421.3 73.8M416.8 61.1L416.1 61.7L414.5 61.4L413.0 60.0M421.0 131.3L422.3 129.8L421.9 128.2M417.2 130.8L417.6 132.6L416.4 134.4M424.2 95.4L425.2 94.4L425.6 93.1M419.2 121.4L418.8 122.2M417.2 70.4L418.2 70.0L419.4 70.9L419.8 72.0M420.4 78.2L419.2 79.0L418.3 78.2L416.7 76.8M420.4 70.3L421.5 71.6L422.4 72.4L423.7 72.6M417.9 84.3L416.8 83.0M417.0 75.8L416.7 77.3L415.8 78.4M424.2 132.0L425.1 133.5L424.8 134.7M416.5 93.5L414.8 93.9M425.7 87.6L423.6 87.8M424.9 70.6L426.3 70.9M423.3 128.1L424.0 127.4L426.1 128.0L427.3 127.0M420.9 62.5L420.5 60.4L419.4 58.6M425.3 66.9L424.6 67.5L424.3 68.5" stroke="#40d8d8" stroke-width="1.0" fill="none" stroke-linecap="round"/>
<path d="M421.6 64.7L419.9 65.3L419.1 66.8L417.6 67.4M420.8 113.1L421.3 114.2L422.0 114.7M423.6 84.1L425.0 82.5L426.0 81.6M420.9 104.9L422.5 105.9L424.4 105.8M416.7 55.5L416.7 53.6M417.2 129.8L417.5 130.6M423.5 70.9L421.8 70.9L419.9 71.8M425.2 129.3L424.6 130.0L423.4 130.0M422.2 115.7L422.6 114.8M417.7 93.7L417.5 95.5M421.7 53.4L423.0 55.2L423.7 55.6M417.8 84.6L417.2 82.7L418.0 81.8L418.4 80.2M424.3 68.3L423.1 68.9L422.3 69.5M425.9 122.2L424.2 121.9L422.9 121.4M425.0 52.8L426.0 54.3L425.2 55.6L424.1 55.5M422.2 88.9L421.1 89.1L419.1 88.9M421.9 113.8L420.1 113.6L419.5 114.9L418.0 115.4M424.3 75.7L423.1 76.0M417.5 125.7L418.1 124.2L417.3 123.4L416.1 123.1M417.6 112.6L418.5 111.9L418.7 110.7L418.6 109.2M422.9 70.4L424.8 70.3L426.1 71.8L426.8 72.4M421.8 55.8L422.1 57.0M425.5 90.4L423.4 90.6L422.8 92.1M425.9 59.7L427.3 59.5M418.5 100.2L417.7 99.0L417.2 98.1M422.2 80.4L424.2 81.1L426.2 81.2M419.7 118.5L418.6 120.1" stroke="#2a6cf4" stroke-width="0.6" fill="none" stroke-linecap="round"/>
<path d="M422.1 129.9L422.2 128.1L423.8 127.2M421.6 109.6L420.7 110.0L418.8 110.7M423.8 98.6L421.9 99.3M419.3 128.6L419.1 129.8L420.8 130.7L422.6 131.8M423.0 74.5L424.5 73.4L425.1 72.1M423.6 118.4L425.5 118.1L426.4 117.4M420.9 60.3L421.9 62.0L423.0 62.3L424.1 61.2M421.4 56.7L421.2 54.7M417.2 120.7L418.7 121.9L419.1 123.2M425.1 82.5L424.9 81.0M421.3 103.3L422.6 104.8M417.8 77.0L418.5 75.0L418.2 74.1M425.9 93.1L424.3 93.2L423.4 91.9M417.7 65.1L417.4 63.7L418.7 62.6L420.5 62.5M420.2 97.3L421.6 98.7L422.7 99.5M426.1 117.7L424.9 117.7L423.8 116.8L423.9 115.2M423.7 122.4L422.4 123.1M417.8 117.2L418.8 116.6M418.9 72.8L419.9 71.9L420.9 72.3L422.5 71.8M426.0 108.0L425.9 109.4L424.1 110.3M419.7 100.8L420.8 101.0L421.4 102.8L423.0 102.9M416.6 63.1L418.1 63.6L418.4 64.5M419.6 103.2L418.6 101.8L418.6 100.8L419.1 99.5M420.7 84.2L421.4 83.7L421.4 82.2M424.0 54.3L423.8 55.9M417.8 121.9L419.1 121.4M422.0 132.2L420.9 131.3M421.9 63.9L421.0 63.2M425.5 68.0L426.2 68.7L425.1 70.6M416.9 76.8L417.3 75.0M423.1 56.0L424.8 54.9L426.4 55.3M421.9 96.9L421.1 96.2L421.4 95.5M424.7 87.3L425.8 88.0L426.6 89.6M419.2 134.4L418.2 136.1L416.8 136.7L415.2 138.0M419.3 111.0L420.3 109.2L421.2 108.7M420.1 97.5L421.8 97.6M423.7 87.1L425.4 87.4L427.2 88.5L429.2 89.2" stroke="#3aa8f0" stroke-width="0.8" fill="none" stroke-linecap="round"/>
<path d="M423.9 57.1L422.6 58.1M420.4 99.8L421.0 101.1L422.2 102.9M423.0 115.2L424.0 114.6L426.2 114.9M424.6 112.8L425.7 113.5M419.3 78.1L419.2 79.5L417.8 80.0L416.0 79.5M425.0 107.1L424.1 108.7M424.6 66.6L425.8 66.8M422.5 67.0L424.4 66.6M425.4 129.1L426.0 128.4L426.8 126.6L426.8 124.7M421.8 49.5L422.1 48.3L421.3 47.6M420.2 122.2L418.7 121.8M424.6 51.5L423.6 50.6L421.9 50.3L420.3 50.0M419.9 50.2L418.3 49.0M425.8 51.0L426.7 51.4L427.8 52.8L428.5 54.4M417.7 92.3L416.1 93.2M426.0 63.6L426.7 64.6L428.6 64.8M418.0 75.5L417.9 73.9M417.5 103.4L417.1 104.9M423.7 62.1L424.4 63.8M425.0 78.4L426.7 78.4L428.4 77.4L428.9 76.3M416.7 70.7L415.4 71.6M419.8 130.3L421.0 131.8L421.8 132.3L423.3 133.6M420.1 109.0L419.3 108.6L418.1 108.3M424.8 57.4L423.1 57.9L421.1 57.6L420.0 57.2M419.3 126.1L418.1 125.7L416.6 126.2L415.8 126.7M423.2 134.4L423.3 132.7M421.5 89.3L419.7 89.7L419.1 90.5L418.2 91.2M422.6 75.0L422.0 75.9L422.1 76.9M418.3 53.7L419.1 52.6L420.6 53.0L422.1 53.9" stroke="#3aa8f0" stroke-width="1.0" fill="none" stroke-linecap="round"/>
<path d="M422.5 68.6L422.9 70.3L424.4 70.4L424.9 69.6M423.8 117.8L425.1 119.6M419.3 105.7L420.2 107.1M419.2 100.6L418.3 99.1L417.4 97.8L416.5 97.9M420.7 53.0L421.4 52.6L422.8 52.5L423.7 53.2M422.1 119.7L420.5 120.7L419.1 121.3L418.8 122.5M423.2 49.7L421.9 51.2M421.7 108.4L422.9 108.1L424.2 106.8L426.1 107.4M423.9 100.1L423.8 98.5L424.0 96.6L422.6 95.7M425.8 50.5L424.4 50.6L422.5 50.4L421.4 50.6M424.7 134.0L425.5 134.5L427.0 135.7L428.1 135.9M420.9 120.3L423.1 120.1L425.1 120.5M423.0 91.1L423.7 91.6L425.5 91.6M418.5 89.0L417.5 88.4L416.8 87.8L415.7 88.0M420.0 117.8L419.7 119.9L418.9 120.5M421.7 83.8L422.2 85.8M417.8 118.3L418.9 118.8L419.2 120.6L418.6 121.4M418.8 86.1L417.5 87.7M425.3 114.7L424.3 115.9M423.8 57.4L423.0 56.1L421.7 54.8M425.0 77.9L426.5 77.2L426.9 76.5M418.6 97.1L419.5 97.2L420.3 98.2M419.5 110.1L418.8 110.8L417.5 110.5L416.6 108.9M425.2 61.0L427.0 62.3M424.5 63.0L423.6 64.0M418.9 112.2L418.3 111.3L417.1 109.6L418.2 107.8M419.2 52.5L420.8 52.5L421.8 52.9L422.6 53.8M425.5 62.0L426.2 61.3L427.7 62.0M420.4 112.7L422.1 113.1M425.1 64.8L424.2 64.9L422.5 66.1L421.1 65.9M424.0 61.3L424.3 60.2L425.3 59.8L426.3 59.7M422.8 117.8L422.8 116.5L423.7 115.3L425.6 115.7M421.8 100.5L422.8 100.4M420.5 88.0L421.7 86.4M422.8 133.0L423.9 133.2L425.8 133.2L426.8 134.7M421.9 90.1L420.4 91.2L419.4 91.5M421.9 98.2L423.3 99.7M421.9 55.5L423.3 54.9L424.6 55.5M419.3 97.7L418.6 96.6M423.1 84.7L421.8 86.4M421.6 68.0L422.7 69.7L422.6 71.4M422.3 131.0L423.7 130.2M417.7 69.8L418.9 71.1L420.3 70.8M420.9 83.0L423.0 83.5L424.1 84.6L423.3 86.4M420.0 50.3L419.7 51.3M420.6 118.4L422.2 116.9M423.3 109.4L425.1 108.9L426.1 109.7" stroke="#2a6cf4" stroke-width="0.8" fill="none" stroke-linecap="round"/>
<path d="M423.1 121.6L421.1 122.1L420.5 123.3M424.9 71.3L425.9 72.4L426.8 72.3L427.7 73.5M422.0 74.6L421.2 76.3L420.0 77.7M417.1 100.2L416.1 100.9L414.2 99.9L413.9 98.3M420.3 50.4L421.0 49.7M426.1 60.7L424.3 60.6M416.8 74.2L414.6 74.2M421.5 103.3L421.6 105.0M421.7 65.4L420.3 66.8M421.3 97.3L422.6 96.3L423.0 94.1M423.0 92.5L422.9 94.3L421.2 94.7L420.6 95.6M418.3 77.8L418.7 77.0M426.2 54.8L425.1 55.6L424.0 56.5M418.5 49.9L420.0 50.5M420.6 104.4L421.4 106.4L420.3 107.4M418.5 121.6L418.4 123.6L416.6 124.5M422.1 113.0L423.0 113.0M424.4 49.8L422.2 49.9M421.1 73.9L423.1 73.7L423.7 73.0M424.5 83.9L423.0 85.4L423.1 86.9M419.0 59.6L419.2 61.1L421.0 61.4M425.0 74.3L424.5 73.5L423.8 71.7M423.6 59.8L424.9 59.4L425.7 60.5L427.0 61.7M421.4 99.0L422.1 101.0L421.9 101.8M421.4 131.3L420.5 131.4L419.7 132.7M418.9 103.6L419.2 105.5M422.6 90.9L421.8 92.1L421.4 93.7" stroke="#40d8d8" stroke-width="0.6" fill="none" stroke-linecap="round"/>
<path d="M425.0 128.8L425.8 130.6L427.3 131.0M424.5 128.1L423.9 129.8L424.3 131.3M422.4 127.4L421.5 127.6M420.6 55.4L421.4 55.9L421.6 57.4M419.1 51.5L418.1 51.5L417.2 51.6M416.5 57.7L414.8 57.0M420.0 121.0L421.1 122.4M419.7 59.2L418.7 57.3L417.9 56.7L416.9 57.2M426.2 54.3L426.2 55.3L425.9 56.8M416.5 61.7L415.8 62.8L415.0 63.6L414.1 65.5M421.8 54.1L422.8 53.5M420.6 77.4L421.4 78.8L422.3 80.1L424.0 81.0M425.5 81.2L425.4 82.5L424.9 83.5M422.2 112.3L423.3 111.2L423.7 110.4L424.9 108.6M423.5 59.7L422.1 59.8L421.1 60.7M418.0 101.9L416.4 101.7M424.8 61.3L424.3 62.1M420.1 81.5L419.0 82.5M418.5 112.9L418.9 113.9L419.3 115.2L418.6 115.9M421.0 110.7L420.7 111.7L419.7 111.9M417.7 84.0L419.5 84.9M422.3 114.4L421.3 113.6L420.1 113.3M418.9 69.0L418.0 68.2L416.1 67.7M425.1 131.3L423.7 132.5M426.0 75.5L424.7 76.2M422.6 134.1L422.1 133.0M424.2 96.2L422.8 94.9M424.0 75.6L425.1 74.2L426.0 74.1M420.0 87.1L420.9 87.0M419.6 76.2L418.4 76.6L417.7 78.3" stroke="#40d8d8" stroke-width="0.8" fill="none" stroke-linecap="round"/>
<path d="M423.5 132.7L424.8 131.6M422.9 129.2L421.7 130.5L420.2 131.1" stroke="#b8e838" stroke-width="1.0" fill="none" stroke-linecap="round"/>
<path d="M416.8 61.1L415.7 60.8L415.2 58.9M421.7 83.1L420.5 81.5M425.6 64.1L425.7 65.7L424.6 67.1L423.7 67.1M422.0 102.9L422.8 102.6L423.4 101.8L423.8 101.1M423.7 61.1L422.5 61.2L422.1 62.4M422.4 83.0L420.9 82.0M421.1 71.6L419.3 71.7L418.8 72.8L417.7 74.2M423.3 126.5L425.0 127.1M416.9 112.3L416.6 113.1L417.6 115.0L418.7 116.2" stroke="#60e890" stroke-width="1.0" fill="none" stroke-linecap="round"/>
<path d="M422.3 102.1L424.0 102.5M422.7 83.2L422.3 82.3M422.7 83.7L422.4 82.9L424.0 81.7L424.0 79.9M421.7 54.7L422.7 53.1L423.6 53.2L425.2 53.9M422.7 61.7L421.3 60.4L419.7 60.7M424.0 78.5L422.8 78.8L421.8 78.6L421.0 77.5M417.0 91.8L418.2 91.7M421.6 106.1L421.5 107.8L422.4 108.5L422.3 109.4M419.1 123.9L417.8 122.9L418.3 120.9M421.1 53.0L421.8 53.9L422.3 54.7L423.2 56.0M422.7 133.0L423.8 133.9L424.7 135.5L425.7 136.2M420.9 81.8L419.7 83.0M423.8 132.9L422.1 131.6L420.1 131.2L418.6 131.8M424.4 60.5L423.6 61.2L422.7 61.2L421.2 61.1M417.4 133.8L418.6 132.1M417.9 66.2L418.2 68.2L419.8 69.5L421.4 68.9M426.2 49.1L426.4 46.9L427.5 46.7L427.7 45.7M419.6 85.8L418.5 86.7L417.6 86.8L416.9 86.5M422.8 116.6L422.8 115.6L423.1 114.1M425.9 133.7L425.6 134.5M421.9 90.5L421.1 89.9L420.3 89.6M419.6 85.2L420.6 84.2M418.9 80.8L421.1 80.9L422.0 80.7L422.8 81.3M419.4 128.5L418.5 128.9L416.8 128.7M420.0 51.3L421.2 50.6L422.3 49.3L424.3 49.4M424.8 114.8L426.9 114.9M420.7 103.5L419.4 103.7L418.1 102.4M425.6 72.9L426.2 73.7M417.8 55.4L416.7 55.1" stroke="#3aa8f0" stroke-width="0.6" fill="none" stroke-linecap="round"/>
<path d="M426.0 54.4L426.9 54.3L427.4 53.0L429.2 52.4M417.9 98.3L416.6 98.7L415.1 97.4M420.5 51.5L422.0 51.5L422.9 50.1M418.7 72.4L420.5 73.3L420.8 74.4L422.0 74.5M420.1 102.3L418.6 103.7L418.4 104.7M422.2 91.2L423.8 91.3M421.1 91.4L419.1 91.6L418.2 93.1M424.4 71.9L426.4 71.6L427.9 72.3M422.5 100.2L421.0 100.1L420.1 99.9M418.6 92.2L417.3 91.5L417.5 90.3L418.3 88.2" stroke="#60e890" stroke-width="0.8" fill="none" stroke-linecap="round"/>
<path d="M422.5 100.4L424.6 100.1M417.3 127.1L418.2 126.6M419.4 114.3L421.1 113.0M418.6 117.0L418.5 118.5M419.6 70.3L420.6 70.1L421.3 70.7M425.5 58.1L426.6 56.7L427.0 54.6M417.0 118.1L415.1 119.3L414.3 119.2M421.7 99.8L422.8 98.4M423.6 134.3L423.1 135.6L421.2 136.4M422.0 53.9L422.2 54.7" stroke="#60e890" stroke-width="0.6" fill="none" stroke-linecap="round"/>
<path d="M418.0 55.9L419.7 55.3L421.2 54.7L422.7 55.0M422.6 107.3L422.2 105.7L421.7 104.0" stroke="#b8e838" stroke-width="0.8" fill="none" stroke-linecap="round"/>
<path d="M419.5 72.0L421.5 71.7L423.0 71.5L424.0 72.4" stroke="#b8e838" stroke-width="0.6" fill="none" stroke-linecap="round"/>
</g>
<rect x="416.50" y="50.0" width="0.9" height="84.5" fill="#30b0e0" opacity="0.6"/>
<path d="M426.3,75.4 Q427.8,97.4 427.0,119.5" fill="none" stroke="#38b8e8" stroke-width="0.9" opacity="0.7"/>
<path d="M428.0,60.6 Q428.7,94.4 427.5,128.3" fill="none" stroke="#3098f0" stroke-width="0.5" opacity="0.7"/>
<path d="M426.4,73.5 Q427.0,92.8 426.9,112.1" fill="none" stroke="#2a70f0" stroke-width="0.5" opacity="0.7"/>
<path d="M431.0,62.1 Q429.4,86.5 428.3,111.0" fill="none" stroke="#3098f0" stroke-width="0.5" opacity="0.7"/>
<path d="M425.4,75.3 Q425.9,100.2 426.6,125.1" fill="none" stroke="#38b8e8" stroke-width="0.5" opacity="0.7"/>
<path d="M432.5,78.0 Q432.0,100.2 429.2,122.4" fill="none" stroke="#38b8e8" stroke-width="0.5" opacity="0.7"/>
<path d="M436.3,64.3 Q433.4,90.2 428.3,116.1" fill="none" stroke="#2a7cf4" stroke-width="0.9" opacity="0.7"/>
<path d="M434.4,61.4 Q430.7,95.3 428.7,129.1" fill="none" stroke="#2a7cf4" stroke-width="0.5" opacity="0.7"/>
<path d="M435.8,76.3 Q431.4,97.2 430.8,118.1" fill="none" stroke="#2a7cf4" stroke-width="0.7" opacity="0.7"/>
<path d="M436.8,76.7 Q434.6,93.3 430.9,109.8" fill="none" stroke="#2a7cf4" stroke-width="0.7" opacity="0.7"/>
<path d="M433.5,76.5 Q430.0,102.0 428.2,127.4" fill="none" stroke="#3098f0" stroke-width="0.9" opacity="0.7"/>
<path d="M430.9,60.3 Q431.3,87.2 428.7,114.1" fill="none" stroke="#2a70f0" stroke-width="0.5" opacity="0.7"/>
<path d="M427.20,133.5 Q426.45,109.4 424.20,68.4" fill="none" stroke="#40c8e8" stroke-width="1.0" opacity="0.75"/>
<path d="M427.20,133.5 Q426.80,108.6 425.60,66.8" fill="none" stroke="#2a90f0" stroke-width="1.0" opacity="0.75"/>
<path d="M427.20,133.5 Q427.15,111.0 427.00,71.6" fill="none" stroke="#50d8c8" stroke-width="1.0" opacity="0.75"/>
<path d="M427.20,133.5 Q427.50,110.0 428.40,69.5" fill="none" stroke="#30b0f0" stroke-width="1.0" opacity="0.75"/>
<path d="M427.20,133.5 Q427.85,110.6 429.80,70.8" fill="none" stroke="#30b0f0" stroke-width="1.0" opacity="0.75"/>
<path d="M427.20,133.5 Q428.20,110.9 431.20,71.3" fill="none" stroke="#50d8c8" stroke-width="1.0" opacity="0.75"/>
<path d="M425.00,134.5 Q426.70,126.5 427.20,118.5 Q427.70,126.5 429.40,134.5 Z" fill="#50e0a0" opacity="0.8"/>
<path d="M426.00,134.5 L427.20,127.5 L428.40,134.5 Z" fill="#f0c020"/>
<path d="M426.50,134.5 L427.20,131.5 L427.90,134.5 Z" fill="#ff4010"/>
<rect x="424.90" y="58.2" width="4.6" height="76.30" fill="#2a90f0" opacity="0.55"/>
<rect x="425.70" y="58.2" width="3.0" height="76.30" fill="#40d8c8" opacity="0.8"/>
<rect x="426.50" y="57.2" width="1.4" height="77.30" fill="url(#st3)"/>
<path d="M416.50,49.0 C421.31,51.76 426.60,54.7 426.90,59.7 M437.90,48.0 C433.08,51.06 427.80,54.7 427.50,59.7" fill="none" stroke="#40e0c0" stroke-width="1.1"/>
<rect x="426.60" y="134.5" width="1.2" height="4" fill="#ff3010"/>
<text x="426.7" y="148.9" font-size="9.3" text-anchor="middle" font-weight="normal" font-style="normal" fill="#1a1a1a" >3 s</text>
<rect x="443.70" y="17.6" width="21.4" height="116.90" fill="#0828ee"/>
<line x1="454.40" y1="17.6" x2="454.40" y2="59.5" stroke="#3060ff" stroke-width="0.7" opacity="0.6"/>
<path d="M463.90,17.6 C462.60,25.6 461.10,32.5 461.90,45.9" fill="none" stroke="url(#wst4)" stroke-width="1.6"/>
<rect x="454.40" y="51.4" width="10.70" height="83.1" fill="#1a50f8" opacity="0.35"/>
<g clip-path="url(#cl4)"><rect x="443.70" y="47.4" width="21.4" height="87.10" fill="#0c36f0"/>
<path d="M453.0 123.5L452.7 122.7M444.0 88.2L445.0 88.4L446.0 86.8M451.8 93.1L451.0 94.8L451.2 95.6L450.1 97.4M453.4 82.0L452.6 82.8M451.3 128.2L450.5 127.7L449.3 126.9L447.9 127.8M445.4 71.7L446.3 69.8L445.6 69.1M451.5 115.8L449.6 115.4L448.0 114.9M444.0 124.3L443.9 126.3M444.8 55.7L443.7 56.1L442.9 55.1M451.6 112.4L451.9 114.1L451.3 114.9L449.7 115.4M446.4 72.0L448.4 71.5L449.3 72.1L450.8 72.8M444.4 72.3L445.3 71.9L446.1 71.2M444.4 133.2L443.8 134.8M448.7 56.6L447.4 56.6L446.4 55.4L444.9 55.2M449.1 87.3L448.0 85.7L446.7 84.7L445.2 84.5M444.5 79.6L445.5 80.2L446.9 81.5L447.5 82.5M445.0 128.9L443.0 128.1M449.5 103.5L448.8 101.5M449.5 72.7L448.8 73.2L447.9 73.7L446.8 73.6M447.8 69.6L449.3 69.4M449.2 117.9L447.9 119.6M448.8 64.4L448.0 62.9M448.6 125.1L447.5 123.9L446.2 122.9L445.0 122.8M445.7 70.1L444.2 68.5L444.7 66.9M448.0 95.9L448.7 96.4L448.8 97.4L448.7 98.3M452.5 49.7L453.5 51.6L454.9 51.8M446.6 122.6L445.3 123.6L444.6 124.9M443.9 122.1L442.7 123.4L443.2 124.9M449.9 104.7L451.7 104.0M447.8 85.7L449.8 85.8L450.4 84.5M451.2 79.3L452.5 80.6M451.4 128.7L452.5 130.5L453.0 131.7L453.9 132.5M448.5 106.4L448.7 104.7M446.0 96.9L444.5 96.6L443.5 94.8L444.2 92.9M453.1 83.3L452.3 85.2M450.9 70.9L450.3 69.5L451.1 68.3L452.1 68.6M447.9 98.0L447.3 98.8M449.6 96.6L450.3 98.2L450.8 99.2M450.8 120.8L449.9 119.5L450.8 117.7M452.8 76.2L452.7 77.8L453.0 78.6M446.5 85.5L446.8 84.1L447.2 83.3M448.0 75.6L447.0 75.9L446.1 75.5L444.8 75.4M448.8 73.0L447.3 72.6L446.3 74.0L446.6 75.9M446.5 130.4L447.6 129.3M449.7 105.7L449.7 107.1L448.8 107.8M445.6 51.5L446.5 50.0M448.3 61.7L446.4 61.1L445.3 61.0M444.6 80.2L444.7 81.1M451.0 90.0L449.7 90.8M449.8 100.0L451.3 101.4L451.4 103.4L452.2 105.2M449.3 129.7L449.2 128.8" stroke="#2a6cf4" stroke-width="0.6" fill="none" stroke-linecap="round"/>
<path d="M452.6 57.4L452.9 58.7M449.3 99.2L450.0 98.6L451.0 98.6L451.8 97.0M449.4 107.6L448.0 107.2L446.6 107.7L446.1 108.7M448.1 56.1L448.4 57.3L449.8 58.0L451.7 57.4M447.8 49.7L446.8 51.1L445.3 50.8L445.0 49.4M452.0 48.4L450.2 48.2L449.7 46.9L448.9 45.1M453.4 114.0L453.5 112.8L451.8 112.1L450.3 111.6M447.2 75.2L446.0 74.1L445.1 74.3L443.7 75.6M447.2 117.2L449.3 117.7L449.9 119.0M445.4 100.7L446.7 101.6L448.8 101.1M452.3 115.2L451.8 115.8L450.3 116.1L448.6 116.9M451.1 113.4L452.5 115.0L451.9 116.7L451.1 118.2M452.2 117.6L451.4 115.9M445.4 114.1L444.1 113.0M449.3 82.1L451.0 83.1M447.2 58.3L446.7 57.0L445.1 57.1M448.3 95.2L450.0 95.5L451.4 97.0L453.1 96.7M449.3 128.9L450.3 129.4M447.6 115.8L446.7 113.9L447.2 112.4M451.3 82.3L450.0 80.6L449.2 78.8M451.2 66.6L450.3 65.7L448.8 65.8M449.3 73.1L450.1 72.9L451.5 73.8M450.0 76.8L450.8 74.7L449.2 73.5L448.9 72.6M451.8 71.1L450.8 70.4L449.9 70.0M444.6 106.6L445.6 107.4M451.6 111.4L451.5 110.5L450.8 109.6M446.3 114.7L445.7 115.6M446.3 127.6L445.5 128.8L445.6 129.7L446.1 131.2" stroke="#3aa8f0" stroke-width="0.6" fill="none" stroke-linecap="round"/>
<path d="M449.3 82.1L449.8 83.2L451.2 83.2L452.9 81.8M452.7 74.5L454.8 74.8M446.7 90.6L446.5 89.0M443.8 64.8L444.7 64.8L446.5 65.5L447.8 66.3M453.1 103.4L453.9 102.1L453.6 101.1L453.6 99.0M453.0 87.6L454.2 88.4L455.3 89.2L456.2 91.0M450.4 97.4L449.8 96.4L449.9 95.2M448.7 57.3L450.0 57.7M446.7 117.4L445.8 117.1M444.6 125.9L443.8 126.1L442.8 126.7L441.3 125.6M445.9 121.8L446.3 120.0L446.4 118.4M452.1 74.3L450.6 73.5L450.4 72.6M448.5 56.4L446.9 55.9L446.1 56.5L445.4 58.2M443.7 79.9L444.5 77.9L446.6 78.0L448.4 78.2M450.1 96.3L448.6 95.2M452.2 83.7L451.9 84.6L451.1 84.9M445.0 62.9L443.7 61.9L442.9 61.8L441.6 61.8M449.4 81.2L448.2 82.2M447.5 52.7L446.7 53.1L446.3 54.9L446.4 56.3M451.1 86.7L451.0 88.5L451.9 89.2L453.6 90.4M445.9 72.6L446.7 73.3L447.7 74.2L449.4 74.6M448.8 110.2L448.6 111.8L448.0 113.1L446.8 113.7M452.4 101.2L450.7 101.1M446.1 121.3L445.7 122.8L446.9 124.2M452.7 58.9L452.8 60.3M443.8 110.8L443.7 108.9L442.7 107.6L441.9 106.8M444.6 101.9L446.0 101.4M444.7 99.6L445.5 98.8" stroke="#40d8d8" stroke-width="0.6" fill="none" stroke-linecap="round"/>
<path d="M444.7 99.9L444.2 98.6M448.6 99.3L449.7 100.5L450.2 101.3L450.9 102.4M452.3 105.8L450.9 106.7L449.1 106.7L448.0 108.2M449.2 107.3L449.6 108.2L449.4 109.4M448.4 119.9L447.6 120.7L445.6 120.4L443.8 120.6M443.9 93.2L442.0 94.0L440.7 94.0M448.7 105.4L448.8 104.3" stroke="#60e890" stroke-width="0.8" fill="none" stroke-linecap="round"/>
<path d="M449.7 95.0L448.5 93.8M448.3 96.7L447.4 97.3L446.8 97.9L445.9 97.9M453.2 51.9L453.7 50.5L454.8 50.3L456.6 49.9M450.5 53.8L450.8 54.6L451.9 56.0M445.7 74.0L444.7 74.4L443.8 73.8L443.4 72.3M448.9 70.7L450.4 70.8M448.9 92.0L449.0 90.7L450.1 90.4M452.0 117.3L450.0 117.2L449.4 115.5M452.2 57.4L451.9 55.7L452.6 54.3L453.0 53.2M445.5 52.8L446.4 54.3L446.2 55.2M451.4 65.0L453.3 64.5M444.0 108.8L442.6 109.1M447.1 106.9L445.0 106.7M452.0 94.5L453.3 94.1L454.4 93.7M451.7 120.8L451.3 119.8M451.1 51.1L451.0 50.1L451.4 48.9L453.2 48.1M451.9 63.8L452.3 63.0L451.5 61.4L451.6 59.6M453.2 132.2L454.4 133.6L455.7 134.7M448.7 64.0L450.8 63.8M450.6 111.4L450.5 112.3L449.1 113.8M452.0 131.1L453.5 131.0L455.1 131.7M445.6 112.6L446.5 112.6L447.3 112.2M445.3 121.3L444.2 120.3" stroke="#40d8d8" stroke-width="1.0" fill="none" stroke-linecap="round"/>
<path d="M448.3 59.8L449.6 60.6M451.8 130.2L451.3 128.2M446.0 100.0L446.4 100.8L445.3 102.0M448.5 109.4L447.6 108.2M445.0 115.3L443.5 115.0M446.0 80.1L447.3 80.3L447.7 81.1M450.0 83.8L451.2 82.8M451.6 62.3L451.9 63.8L453.2 64.7L454.2 65.4M443.7 128.5L442.3 127.3L442.0 126.4L440.8 125.9M446.9 94.4L446.0 95.4M446.5 69.2L446.9 70.4M444.1 70.7L445.6 70.0L447.5 69.9M451.8 119.7L451.1 120.2L449.9 119.3M450.0 109.9L450.5 110.6L452.5 110.9L453.4 111.1M448.9 69.4L447.0 69.2L446.4 68.3M452.7 56.2L452.9 55.0M451.9 72.7L453.1 73.1L454.2 74.7L453.6 76.5M449.3 53.4L450.5 54.5L452.5 54.7M444.1 89.0L444.6 88.2L445.4 86.3L446.5 85.2M445.2 55.3L444.9 56.7M446.1 65.8L446.1 66.6L444.3 67.2L442.2 66.6M444.9 99.3L445.9 99.0L447.4 99.2M445.8 75.8L445.4 74.8L445.3 73.8M450.8 119.7L451.5 118.5M446.3 119.7L446.6 117.9M453.1 55.3L452.8 56.2L452.0 56.4L451.0 55.5M452.8 82.6L452.6 84.6L452.6 85.9L452.5 87.6M443.9 70.3L443.2 69.8M449.8 65.2L448.9 66.2L449.4 68.1" stroke="#2a6cf4" stroke-width="0.8" fill="none" stroke-linecap="round"/>
<path d="M452.1 73.4L453.8 74.7M453.2 96.8L454.1 94.9M445.4 86.8L444.5 87.6M451.3 82.2L451.9 84.1L453.4 84.3M447.2 107.0L445.9 105.6L446.0 103.9L447.4 102.3M453.3 118.4L454.0 120.3M449.1 58.4L447.9 57.4L446.6 57.6L446.0 56.6M453.3 115.4L455.0 115.6M449.0 132.3L449.2 133.9L448.5 134.5L448.4 136.2M445.4 67.3L446.3 67.4L447.2 68.4L447.6 69.7M448.7 75.3L448.8 76.4M452.6 76.6L451.6 76.5L451.0 77.0L451.3 78.4M445.5 67.0L445.2 65.3L445.1 63.7L443.7 63.2M450.8 125.9L450.5 127.8L449.1 128.2L447.8 129.7M447.0 65.5L446.1 65.0M444.8 62.9L443.7 61.1M452.0 88.7L451.3 86.7M453.0 115.0L453.5 114.0L454.4 113.9L455.2 113.3M451.4 101.0L452.9 100.7L453.5 99.4M449.4 98.9L448.5 97.9M450.4 109.0L448.8 108.9L447.8 107.6M447.5 102.3L448.7 103.1L450.7 102.4L452.0 101.0M444.2 116.5L445.7 117.4L447.0 116.8M447.9 64.9L448.8 63.7L450.1 63.4M443.9 129.9L443.0 130.1L441.3 129.9L439.6 130.0M448.5 121.9L448.1 122.9L447.6 124.6L446.6 125.8M446.8 80.3L447.6 81.3L448.0 83.3M450.0 84.9L449.2 84.9L447.8 84.4M450.5 84.9L450.3 82.9M445.2 115.6L445.4 116.8M444.2 77.5L442.5 76.8M449.6 76.8L450.7 75.1L452.1 75.4L452.6 77.0M451.1 70.9L452.1 71.9M447.6 60.5L448.4 60.8L448.3 62.5" stroke="#3aa8f0" stroke-width="0.8" fill="none" stroke-linecap="round"/>
<path d="M446.7 107.3L445.4 107.4M448.0 85.2L448.8 85.9L449.1 86.8L449.7 87.6M443.8 109.0L444.7 109.3L445.9 108.2L445.6 106.9M446.2 107.4L447.2 108.5L448.8 108.9L449.2 109.7M446.4 91.2L448.0 91.2L449.8 91.6M445.8 100.7L446.6 102.2M448.5 99.2L447.4 99.2L446.5 99.5L446.0 100.3M451.0 81.1L449.8 80.3L448.1 80.8L446.7 81.3M447.2 116.2L447.5 117.3M451.5 104.1L450.1 103.4L450.3 102.3L449.5 100.4M448.2 134.0L448.3 135.7L449.3 137.2M449.4 61.0L450.0 61.5L450.9 62.5L452.8 62.3M444.8 60.9L443.6 60.6L442.9 61.5L443.6 62.8M448.8 61.6L450.0 63.1L451.4 64.0M451.3 112.1L452.7 113.8L452.5 115.2M446.7 75.7L448.7 75.1L449.2 75.9L449.7 77.4M447.4 133.3L448.5 133.7M449.6 69.2L451.0 68.8L452.3 67.2L453.1 67.1M450.5 123.8L451.0 124.6L451.4 126.2L452.4 126.8M448.4 133.9L449.3 134.3L451.2 134.9L452.6 136.1M446.6 125.8L447.3 126.4L448.1 127.3M444.7 118.1L443.4 117.0L442.3 116.3L440.6 117.4M452.1 99.0L453.5 99.4L455.4 99.2M446.0 68.4L446.4 69.7L446.2 70.8L444.8 72.0M448.7 127.1L449.5 125.9L450.4 126.2M446.3 98.0L447.1 98.7L448.0 100.0L448.8 100.9M444.5 84.9L445.7 84.9M443.9 58.1L443.1 59.0L443.8 60.7L444.5 61.4M449.0 127.4L447.5 128.3L446.8 129.0M451.2 55.0L452.7 55.6M451.2 127.3L450.0 127.6L448.5 127.3M446.5 53.0L446.5 51.3L446.6 50.4M445.9 80.4L446.7 80.9L448.3 81.9L450.0 81.0M450.2 64.1L449.2 65.6M449.2 127.2L450.7 127.3L451.6 127.2L452.7 126.9M451.7 77.9L453.0 76.2M451.8 96.2L452.1 97.1M449.2 130.8L447.8 130.2L446.3 129.4M445.8 131.9L447.3 132.9M445.7 122.2L446.6 123.9L447.0 125.0M450.8 116.9L451.5 118.5L452.0 119.7M451.2 114.4L451.3 113.5L453.0 112.6M447.7 113.9L448.8 114.3L450.4 115.6M449.5 126.6L448.6 127.1L446.6 127.2L445.9 126.7M448.5 126.4L450.1 126.4L451.2 125.0M445.0 95.9L446.8 94.8L448.9 95.4L449.1 96.7M445.8 126.2L446.8 126.8L447.8 126.6M450.9 129.2L450.1 128.7L450.0 127.0M451.7 123.1L451.0 121.9L450.1 120.5L449.1 118.7M446.6 131.8L445.2 131.6L444.3 131.2M444.3 54.1L444.2 56.0L444.6 57.4M444.8 104.9L444.5 103.3L445.3 102.3L446.1 101.5" stroke="#2a6cf4" stroke-width="1.0" fill="none" stroke-linecap="round"/>
<path d="M448.4 80.1L448.1 78.3M451.7 112.6L450.1 113.4M447.5 115.5L448.5 115.5L449.3 117.1L448.0 118.7M451.7 90.4L452.3 91.5L453.3 93.0M450.7 118.6L449.5 119.1L448.5 119.3L446.9 118.7M447.1 72.6L447.0 74.8L447.2 75.7L447.3 77.7M445.4 72.6L443.9 72.5L442.8 71.1L441.6 69.9M451.1 77.7L451.4 79.8L451.4 81.4M450.6 99.7L450.3 98.0L451.2 96.6L451.6 95.9M449.1 103.9L450.5 105.1L452.1 104.6M444.3 100.9L442.3 100.5M447.2 119.9L447.9 120.5L448.1 121.6L449.4 122.8M447.0 66.6L446.4 67.9M452.9 104.0L451.3 104.6L449.7 104.7L449.3 105.4M447.4 53.4L445.5 52.7M445.9 112.7L445.0 113.3L444.2 112.8L444.5 111.4" stroke="#40d8d8" stroke-width="0.8" fill="none" stroke-linecap="round"/>
<path d="M444.9 110.0L446.2 110.7L447.7 110.2M448.5 98.6L449.1 97.3L447.5 95.9M446.5 115.3L447.7 114.1M452.6 119.0L452.8 120.0L454.0 120.2L455.5 119.6M446.0 64.8L447.6 64.3L449.4 64.5L451.0 65.4M452.4 103.0L451.1 102.9M447.5 121.2L445.9 121.4M451.6 84.1L451.9 83.1L452.9 81.7L454.2 81.6" stroke="#60e890" stroke-width="0.6" fill="none" stroke-linecap="round"/>
<path d="M452.5 98.1L453.2 98.5L453.4 99.8L454.9 100.8M446.0 66.9L445.0 65.9L443.3 66.5M444.9 104.7L443.9 103.3M450.3 92.3L448.7 92.5M443.8 107.2L443.0 105.5L442.5 104.6M450.8 112.2L452.6 112.6L454.2 113.8M446.8 94.0L448.7 94.9L450.0 94.0M451.8 73.5L454.0 73.7L454.7 72.7M446.8 51.2L447.3 52.1M449.1 86.9L449.4 88.1L448.8 89.0L447.8 89.1M451.7 64.0L450.2 65.3L450.0 66.4M450.7 77.5L451.5 76.9L453.2 76.9M453.0 66.4L455.0 67.2M444.9 130.8L443.2 131.1L441.9 129.7M450.6 115.7L451.8 116.7L451.5 117.5M444.2 71.6L445.0 69.8L444.9 68.5L444.4 67.3M445.5 64.5L445.4 63.2L446.1 62.6L447.0 63.0M446.5 123.9L447.0 122.4L447.5 120.6L447.6 119.6M444.7 122.8L445.4 124.9L443.8 126.1L443.0 126.4M449.5 123.5L450.3 123.1L451.0 122.5M452.8 54.0L451.6 53.8L449.8 54.2L449.0 55.2M447.7 115.4L448.2 116.8L449.0 117.8M452.7 81.3L451.1 80.6M448.2 101.9L447.6 102.4L445.8 102.7L445.1 104.6M449.6 120.3L451.0 119.5L453.0 119.2M446.2 97.1L445.1 96.3L444.4 94.3M444.4 49.4L443.8 50.6L444.8 51.8M447.6 104.5L448.8 103.3L450.0 103.5L450.4 105.1" stroke="#3aa8f0" stroke-width="1.0" fill="none" stroke-linecap="round"/>
<path d="M444.4 63.7L443.8 62.9L444.0 61.3L444.1 60.0M448.6 126.8L448.0 127.8" stroke="#b8e838" stroke-width="0.8" fill="none" stroke-linecap="round"/>
<path d="M450.9 64.2L452.3 62.8L453.4 61.9M452.4 131.4L452.6 132.9L452.6 133.8M451.8 58.9L452.9 60.4L453.9 60.2M452.0 60.4L451.4 59.6L451.3 58.7" stroke="#b8e838" stroke-width="0.6" fill="none" stroke-linecap="round"/>
<path d="M444.1 105.1L442.5 105.0L441.7 104.6L441.7 102.7M445.0 56.1L443.4 56.6M444.0 53.6L445.9 53.4L447.0 52.5L446.4 51.2M446.5 55.4L446.6 54.4L445.7 53.9L444.1 53.4M451.8 55.3L453.6 56.0L455.4 56.8L456.2 56.1M449.9 121.7L449.2 121.0L449.3 119.2M445.4 110.7L446.9 109.7L448.1 109.5M449.0 50.6L450.0 50.7L451.3 51.1" stroke="#60e890" stroke-width="1.0" fill="none" stroke-linecap="round"/>
<path d="M446.4 131.9L446.3 131.1M451.6 96.1L453.2 96.6M447.6 97.8L446.0 97.0" stroke="#b8e838" stroke-width="1.0" fill="none" stroke-linecap="round"/>
</g>
<rect x="443.70" y="49.4" width="0.9" height="85.1" fill="#30b0e0" opacity="0.6"/>
<rect x="451.70" y="59.5" width="5.4" height="75.00" fill="#2a90f0" opacity="0.55"/>
<rect x="452.50" y="59.5" width="3.8000000000000003" height="75.00" fill="#50e0a0" opacity="0.8"/>
<rect x="453.30" y="58.5" width="2.2" height="76.00" fill="url(#st4)"/>
<path d="M443.70,48.4 C448.51,51.73 453.80,56.0 454.10,61.0 M465.10,47.4 C460.28,51.03 455.00,56.0 454.70,61.0" fill="none" stroke="#40e0c0" stroke-width="1.1"/>
<rect x="453.80" y="134.5" width="1.2" height="4" fill="#ff3010"/>
<text x="453.9" y="148.9" font-size="9.3" text-anchor="middle" font-weight="normal" font-style="normal" fill="#1a1a1a" >4 s</text>
<rect x="470.90" y="17.6" width="21.4" height="116.90" fill="#0828ee"/>
<line x1="481.60" y1="17.6" x2="481.60" y2="58.5" stroke="#3060ff" stroke-width="0.7" opacity="0.6"/>
<path d="M491.10,17.6 C489.80,25.6 488.30,32.6 489.10,46.1" fill="none" stroke="url(#wst5)" stroke-width="1.6"/>
<rect x="481.60" y="51.6" width="10.70" height="82.9" fill="#1a50f8" opacity="0.35"/>
<g clip-path="url(#cl5)"><rect x="470.90" y="48.6" width="21.4" height="85.90" fill="#0c36f0"/>
<path d="M479.4 79.2L479.0 77.4M472.7 95.9L474.1 94.7L475.7 93.8M475.2 71.3L473.2 70.7L472.1 71.1M480.3 112.0L481.2 110.6L481.8 108.7L482.6 106.9M477.5 97.3L475.5 96.9L474.1 96.5M475.2 120.9L476.1 121.7L477.1 121.7M474.4 51.1L475.2 51.4L476.0 50.7M471.7 109.1L470.6 107.7M471.6 51.9L472.3 53.1L473.1 54.7M480.5 133.8L479.7 135.6M476.9 75.0L477.3 75.8L478.7 75.6M477.7 59.7L479.2 59.2M475.5 102.5L476.3 102.2L477.1 100.9L478.6 100.4M476.0 124.3L477.0 122.5L477.5 120.4M477.7 126.6L479.2 127.8L480.4 127.5L481.2 128.0M479.1 59.4L479.9 60.4M476.5 88.5L475.3 87.5L475.7 85.5M478.1 97.3L479.5 97.4M474.4 122.2L474.9 123.6L476.6 123.7M479.8 50.5L478.4 50.3M471.3 96.0L473.1 96.6L474.4 98.0L474.5 98.9M478.7 84.3L479.0 85.2M476.2 57.4L477.6 58.1L479.1 59.3L481.0 59.2M476.2 131.4L475.1 130.8M470.9 82.5L469.5 82.1L468.1 82.6M471.7 50.5L472.2 51.1L471.6 52.0L470.9 52.5M477.6 130.7L476.1 130.9M474.9 132.0L475.2 131.0L475.5 129.3M471.3 75.9L472.4 77.0L473.1 78.8M472.3 81.1L470.3 81.2L468.8 80.9L467.8 81.7M477.0 124.8L476.1 125.1L474.4 124.2M473.2 94.1L472.1 95.8L470.9 97.4M477.3 129.5L476.4 128.6L476.4 127.2M478.5 131.6L479.5 130.2" stroke="#2a6cf4" stroke-width="0.6" fill="none" stroke-linecap="round"/>
<path d="M479.1 63.7L480.4 63.3M476.9 120.1L475.2 121.5L473.3 122.4L471.9 121.9M476.4 103.1L474.8 103.2L474.1 101.4L475.3 100.1M474.1 82.5L472.9 82.3M480.0 107.5L479.7 108.9L479.4 110.4L481.1 111.4M471.6 90.2L471.7 88.3L473.5 87.2M474.8 52.5L473.7 53.4M472.5 92.2L472.6 91.1M473.6 90.7L474.5 89.9L474.8 88.5L475.8 87.8M475.0 130.2L475.4 128.4L476.1 127.1L476.8 126.4M476.6 77.1L475.5 76.1L474.5 76.6M472.8 114.1L473.2 114.9M473.0 70.8L472.4 72.4M472.5 79.1L474.1 79.3M475.5 81.7L475.9 82.6L475.1 84.0L474.3 84.9M475.1 91.5L475.9 91.9L476.9 90.9L478.2 90.1M476.1 84.9L474.0 84.9M475.4 52.5L476.1 52.8L477.3 53.5L479.3 54.2M472.3 59.0L472.8 60.2L473.7 60.7L474.6 60.7M479.1 122.2L480.8 121.0M475.4 75.5L475.7 73.7L474.0 72.6L472.6 71.7M474.6 52.8L474.8 54.3L475.1 55.9M475.2 109.7L476.4 110.0L477.4 110.7L477.2 112.0M474.3 65.4L475.7 65.0M477.4 113.1L478.2 113.0L480.1 112.3L480.9 110.8M479.8 57.6L478.0 57.5L477.3 56.3M479.9 133.9L479.5 132.8M479.3 79.9L480.6 78.3L479.8 76.5L479.4 75.0M476.5 89.4L476.1 90.7L474.5 90.8M474.1 59.3L474.6 57.8L473.2 56.7M473.9 78.9L474.6 80.1L475.0 81.6M476.8 60.8L476.5 59.6L477.3 57.6L477.2 55.9M473.1 118.5L472.4 117.3L472.9 116.6L475.0 117.0M476.3 51.8L475.2 50.6L475.6 49.7L474.5 48.5M477.0 83.9L475.4 83.3M473.7 127.9L474.6 126.2L474.8 124.0M476.9 68.6L478.0 70.2L478.5 71.4L477.1 72.9M475.4 108.6L474.5 109.5L472.6 108.9L471.0 109.7M477.7 61.6L478.0 60.7L479.3 59.1L479.6 57.1M476.4 85.9L477.1 85.2L478.3 85.3M479.2 56.4L478.9 57.3L477.6 58.1L476.3 57.4M480.2 130.0L481.2 130.3L482.6 131.3L483.6 131.3M478.0 59.6L478.5 57.8L480.2 57.1M472.9 132.0L473.5 131.0L472.7 129.4L471.3 128.9M479.0 84.1L479.2 82.0M472.1 58.7L473.9 59.0" stroke="#2a6cf4" stroke-width="0.8" fill="none" stroke-linecap="round"/>
<path d="M480.6 102.6L480.9 104.7L479.0 105.7L477.6 105.5M474.2 70.5L475.1 70.1M478.0 65.4L479.0 65.7L479.4 67.4L479.1 68.3M478.3 120.7L477.3 122.6L475.6 123.5M480.0 94.8L479.2 93.8L479.6 92.8M477.0 92.5L477.2 90.4M479.1 110.7L480.3 112.0L479.9 113.0L480.6 114.8M476.2 128.3L474.4 127.2L473.6 127.5M478.4 106.7L480.1 106.0L480.1 104.9M474.5 56.9L473.0 57.2L471.1 56.2M473.9 85.4L472.7 86.9L471.7 87.8M472.3 73.3L471.9 72.4L471.7 70.6L470.2 70.0M479.3 79.6L480.2 78.9L480.7 77.4L481.3 76.2M472.0 94.1L470.7 94.9M472.5 91.5L473.6 91.6L474.5 93.2L476.6 93.6M474.3 75.2L473.8 73.5L474.3 72.1L475.2 70.9M471.6 106.6L469.9 106.2L469.3 105.3L468.9 103.9M476.6 56.0L477.4 55.5L477.9 53.7L478.7 53.4M480.1 103.8L479.6 105.3L479.8 106.6M476.0 59.9L475.1 61.3L473.0 60.8M480.6 58.3L479.1 57.8L477.9 58.5L477.1 58.7M479.7 71.4L481.1 69.7L482.0 69.4L483.2 68.2M478.0 96.9L478.2 98.2M472.8 71.9L470.8 71.4L470.2 72.1L468.9 71.7M475.0 55.0L475.7 55.3M473.1 118.2L474.1 118.3L475.5 118.6L476.7 118.2M477.2 101.1L478.4 102.9M479.3 126.9L480.7 125.3M472.0 67.1L471.7 65.8" stroke="#3aa8f0" stroke-width="1.0" fill="none" stroke-linecap="round"/>
<path d="M474.4 109.6L472.7 108.5M475.0 115.7L474.2 115.3M480.5 93.6L481.0 92.8L483.1 92.4M480.2 64.9L480.1 63.5L479.2 62.6L478.2 61.4M473.7 107.8L475.1 107.7L476.2 106.1M475.7 53.8L474.9 53.6M472.6 117.9L471.7 119.7L472.2 121.0M476.0 65.7L475.5 64.6L476.1 62.5L475.6 60.7M478.5 103.9L477.9 104.7M472.7 85.5L473.1 86.2L475.2 86.5L476.6 85.0M480.1 84.8L480.8 86.4L481.3 87.3L482.9 87.7M479.2 57.8L478.5 59.3L477.6 59.8L477.9 61.3M471.7 128.8L470.8 128.5L470.1 127.6M479.0 78.7L478.8 79.9L477.4 80.2L476.1 81.1M479.8 59.9L478.9 61.6L478.3 62.4M476.4 85.5L474.8 85.4L473.1 85.1L471.4 84.5M480.3 102.5L478.6 102.6M471.1 81.5L469.5 81.1L467.8 81.3M474.8 100.0L476.7 100.6L477.4 99.7M479.2 100.0L477.7 100.0M479.6 125.3L480.2 125.9M478.9 106.2L478.1 106.8M475.2 108.9L474.6 110.3L474.2 111.3M475.1 91.7L474.1 91.7L472.7 93.2L471.5 93.9M479.1 121.3L478.5 122.8L476.4 122.9M475.0 112.3L473.1 112.2L472.4 113.7M476.0 100.1L475.7 98.0L476.9 96.9M471.7 82.1L471.8 81.1M477.7 132.1L478.7 131.9M471.0 123.9L469.6 124.1L468.6 123.4L467.2 123.9M473.5 90.7L474.6 90.5L475.4 88.6L475.7 87.8M478.2 100.8L478.3 101.7M471.8 94.5L472.1 96.4L472.2 97.7M477.3 64.0L477.6 64.9L477.7 65.9L479.5 66.2M476.4 63.5L477.5 63.6L478.9 64.5M478.8 95.9L478.8 94.1L477.3 93.1L476.3 93.7M479.4 56.8L478.3 56.9L477.9 57.6M473.1 80.8L473.5 80.0L474.5 79.6M472.2 111.0L471.4 109.2M473.9 78.5L472.7 79.5M480.3 109.0L479.2 108.7" stroke="#3aa8f0" stroke-width="0.8" fill="none" stroke-linecap="round"/>
<path d="M480.3 99.0L481.6 98.0M476.4 75.6L477.1 74.4L476.1 72.8L476.8 71.5M478.3 100.6L479.7 101.3M471.5 105.7L470.8 106.1M474.9 88.5L474.0 88.1L473.2 87.4M479.5 127.9L478.1 127.0L477.3 126.4L475.5 126.2M476.3 133.8L475.4 134.8L475.0 136.9L475.6 138.1M472.1 96.9L473.0 97.2L474.0 98.8L474.9 100.0M477.0 103.4L475.9 103.3L474.6 102.7L473.4 102.5M475.4 88.7L474.5 88.8L473.0 90.2M475.3 111.3L475.0 110.5L475.6 109.7L475.6 107.7M475.0 132.9L473.0 133.2L471.9 133.9L470.1 134.5M478.4 130.1L479.8 130.0L481.8 129.9L482.3 128.1M476.7 102.4L476.5 101.4M474.9 87.7L475.4 85.9M477.0 64.0L475.0 64.8M474.6 118.5L473.6 119.5M471.3 75.8L470.4 77.2L470.4 78.7M474.4 95.8L474.3 97.9M479.7 98.2L480.5 99.8L480.1 101.2M478.5 76.7L477.8 75.6L477.3 74.4M478.2 89.4L479.0 87.6L479.0 85.8L480.5 85.3M474.6 53.8L475.6 53.4M479.0 98.1L478.9 99.4L480.4 100.3M473.2 86.1L472.4 84.7L472.6 83.8M478.8 88.0L477.9 87.9L477.1 86.5M474.5 75.9L475.5 75.6M476.4 54.2L475.3 52.9L473.5 52.6M471.0 73.1L469.4 72.4M476.1 54.9L476.8 53.3M476.5 50.5L474.9 50.8L473.9 50.4M471.1 128.3L471.8 129.1M475.5 129.9L474.0 129.4L473.2 128.4M478.5 74.3L479.0 76.1M479.0 91.2L480.0 90.9L482.1 90.9M475.3 86.5L476.2 86.1L476.0 84.0L476.4 82.4M472.7 89.5L472.1 88.7M472.2 116.6L473.5 116.0L474.7 117.0L474.3 119.2M479.1 102.6L480.0 101.1L481.0 99.5L480.3 98.0M477.1 109.4L475.9 111.1L476.5 111.9" stroke="#2a6cf4" stroke-width="1.0" fill="none" stroke-linecap="round"/>
<path d="M475.2 123.4L474.2 124.2M476.5 88.8L478.2 87.7L478.4 86.9L479.9 86.6M471.5 104.8L471.5 105.7L471.2 107.2L472.2 108.0M471.7 76.9L470.3 75.2M477.2 68.4L478.9 67.7L480.8 67.9L481.1 69.3M472.0 58.9L474.0 59.5M472.3 108.6L473.8 109.8L475.8 109.8M476.0 117.2L476.7 118.1L478.5 118.5M470.9 120.7L470.1 122.0L469.7 124.2M477.0 64.6L477.8 64.1L479.3 62.7M475.8 97.1L476.2 98.6L474.9 99.7M474.5 96.0L474.6 95.2L473.8 94.3M477.6 68.1L476.8 67.6L475.9 66.0M476.5 66.0L476.1 67.0M472.3 67.3L471.4 67.8L469.7 68.5L467.8 68.5M472.2 128.5L474.2 128.6L475.7 127.5M473.3 101.6L472.9 102.3M476.7 73.6L478.8 73.5L479.7 73.9M471.9 84.2L472.3 83.2L474.0 82.6L474.8 82.2M474.7 64.3L476.0 64.9L477.1 64.9L478.7 65.5M472.1 56.9L470.2 55.9L469.3 56.6M479.7 66.3L479.9 68.1M471.0 75.0L469.0 75.8L468.5 77.4L467.3 77.5M477.3 86.9L476.3 86.4L474.7 87.5L473.4 87.7M476.9 81.6L477.9 80.3M476.6 116.5L475.7 114.6L475.4 113.6L474.8 112.5" stroke="#3aa8f0" stroke-width="0.6" fill="none" stroke-linecap="round"/>
<path d="M477.4 90.2L476.7 91.4L477.5 92.8M473.9 58.1L472.8 57.4L471.7 57.5M479.1 84.8L479.9 85.9L481.0 85.5L482.3 84.7M472.5 112.3L474.2 113.0M479.9 103.5L479.1 103.1M471.1 102.7L472.4 104.3M472.4 84.4L473.0 85.4L474.2 87.0M471.2 54.3L470.5 52.5M476.5 79.0L477.9 78.4L478.2 77.1M479.4 49.8L479.3 48.6L480.5 47.9L482.0 48.0M475.5 84.0L475.0 85.1L475.5 85.8L474.7 87.1M479.5 89.1L480.6 89.9M480.3 121.2L482.2 122.2M477.4 115.6L476.2 114.8M480.0 55.9L481.1 55.7L481.6 54.7L483.0 54.9M475.5 86.9L475.1 86.0L473.5 86.2L472.7 84.4M477.7 125.0L475.8 124.4L474.2 124.2L473.1 124.3M472.5 122.4L472.6 123.4L471.1 124.7L469.6 125.5M473.3 100.6L472.4 100.3M471.1 122.6L469.4 123.7L468.7 123.5M471.2 87.2L469.7 87.7L469.3 89.6M470.9 95.6L471.6 96.5M471.4 98.4L472.1 99.0L473.9 100.2M473.2 62.0L474.1 60.7L473.2 59.5" stroke="#40d8d8" stroke-width="1.0" fill="none" stroke-linecap="round"/>
<path d="M480.4 81.9L482.2 81.4L484.1 81.5M474.7 102.9L476.2 102.1M471.2 115.0L470.6 114.0L471.7 112.5M479.5 92.9L478.7 94.9M473.1 72.8L472.7 71.9L471.6 71.3M471.9 122.0L473.5 123.2M478.6 51.6L479.0 50.7L479.3 49.7M476.1 85.3L475.1 85.0L474.1 84.3M471.3 71.2L470.7 70.5L470.8 68.8M478.7 70.3L477.3 68.5M479.9 95.6L480.5 94.1L480.7 93.3M471.9 73.9L471.2 72.0L472.3 70.8M471.6 95.0L470.9 93.7M478.2 131.9L478.5 130.0M477.9 90.3L478.2 88.7L479.1 87.8M471.8 61.1L471.2 59.1M474.3 59.2L475.7 58.9L476.7 59.5M475.9 75.1L476.3 74.2L478.3 73.4M479.0 67.6L477.7 67.8L477.1 69.5M479.2 76.6L479.3 78.0M472.4 69.9L473.2 70.6L474.0 71.7M475.4 93.8L477.1 95.2M476.1 69.9L475.7 69.1L475.7 67.6M475.9 109.2L476.5 110.3L477.8 110.1L479.1 111.9" stroke="#40d8d8" stroke-width="0.6" fill="none" stroke-linecap="round"/>
<path d="M478.2 131.0L479.3 132.7L479.8 134.4M480.4 55.2L481.2 54.0L480.7 52.2M475.1 104.8L476.4 103.5L477.0 102.6M473.4 122.7L474.6 123.4M480.5 83.4L479.0 82.9L478.2 81.3M471.8 87.2L469.9 86.8M471.5 114.1L470.5 114.0L468.9 113.2L467.9 114.1M474.9 127.8L475.1 128.7L476.7 129.3M471.4 111.9L471.4 113.7L471.5 115.0L472.3 116.2M478.6 112.8L479.0 113.9M471.3 130.0L470.0 130.7M480.1 105.8L479.0 104.4M475.6 62.1L474.4 61.2L472.9 59.6M473.3 59.3L474.1 59.5L475.5 60.4M478.5 87.5L479.7 86.7M476.3 86.2L475.2 85.8M472.4 80.2L473.8 81.6L473.9 82.6L472.1 83.3M472.6 116.2L473.9 116.5L475.6 117.6M472.7 123.5L471.0 122.9L470.1 121.6L470.2 119.9M479.0 54.1L477.9 54.1L476.9 55.8M473.6 121.3L473.6 120.0L473.8 119.0L475.0 118.8M477.8 123.4L479.5 122.9M477.8 76.6L476.8 76.4L475.7 77.5M480.4 104.0L479.2 103.1M480.5 115.5L480.4 117.1L479.0 118.3L478.8 119.9M480.1 55.9L479.2 56.4M477.2 92.2L477.7 91.1L478.2 90.1M474.0 95.5L476.0 96.2M478.8 119.3L479.0 120.3M473.1 130.9L471.5 129.8L470.0 130.1" stroke="#40d8d8" stroke-width="0.8" fill="none" stroke-linecap="round"/>
<path d="M479.0 129.9L478.0 129.0L478.2 127.9" stroke="#b8e838" stroke-width="1.0" fill="none" stroke-linecap="round"/>
<path d="M472.2 51.6L471.8 50.6M477.2 64.8L476.7 64.1L477.5 62.6M477.3 92.0L475.8 92.1L475.4 94.1L476.1 95.4M478.9 94.9L478.5 95.7M472.6 65.9L473.2 64.5L474.4 63.5M477.5 119.8L476.1 119.5M477.5 67.0L477.7 65.3M478.3 57.3L479.8 56.7" stroke="#60e890" stroke-width="0.8" fill="none" stroke-linecap="round"/>
<path d="M479.9 74.7L479.7 76.7M473.5 101.6L472.5 103.5L471.4 103.5M473.0 92.7L474.4 93.3L475.6 94.0M473.4 73.2L475.3 73.0L476.4 72.4M480.0 116.0L479.6 114.5M473.8 87.6L473.4 88.9M479.4 121.8L478.3 122.8" stroke="#60e890" stroke-width="0.6" fill="none" stroke-linecap="round"/>
<path d="M472.1 84.2L470.6 84.9L469.6 86.2L468.5 85.9M478.9 122.2L480.6 121.6L481.7 120.5L482.2 119.1M471.1 122.5L470.3 122.6L469.5 121.6M480.6 103.9L481.6 103.3L482.1 102.5" stroke="#60e890" stroke-width="1.0" fill="none" stroke-linecap="round"/>
<path d="M479.4 86.1L478.6 86.8M474.9 57.0L473.0 56.2L471.2 57.1M474.7 129.7L475.6 131.4L477.0 131.6" stroke="#b8e838" stroke-width="0.6" fill="none" stroke-linecap="round"/>
</g>
<rect x="470.90" y="50.6" width="0.9" height="83.9" fill="#30b0e0" opacity="0.6"/>
<rect x="478.60" y="58.5" width="6.0" height="76.00" fill="#2a90f0" opacity="0.55"/>
<rect x="479.40" y="58.5" width="4.4" height="76.00" fill="#60e080" opacity="0.8"/>
<rect x="480.20" y="57.5" width="2.8" height="77.00" fill="url(#st5)"/>
<path d="M470.90,49.6 C475.71,52.27 481.00,55.0 481.30,60.0 M492.30,47.6 C487.48,50.87 482.20,55.0 481.90,60.0" fill="none" stroke="#40e0c0" stroke-width="1.1"/>
<rect x="481.00" y="134.5" width="1.2" height="4" fill="#ff3010"/>
<text x="481.1" y="148.9" font-size="9.3" text-anchor="middle" font-weight="normal" font-style="normal" fill="#1a1a1a" >5 s</text>
<rect x="498.10" y="17.6" width="21.4" height="116.90" fill="#0828ee"/>
<line x1="508.80" y1="17.6" x2="508.80" y2="57.2" stroke="#3060ff" stroke-width="0.7" opacity="0.6"/>
<path d="M518.30,17.6 C517.00,25.6 515.50,33.7 516.30,48.3" fill="none" stroke="url(#wst6)" stroke-width="1.6"/>
<rect x="508.80" y="53.8" width="10.70" height="80.7" fill="#1a50f8" opacity="0.35"/>
<g clip-path="url(#cl6)"><rect x="498.10" y="50.3" width="21.4" height="84.20" fill="#0c36f0"/>
<path d="M505.0 126.3L505.5 127.0L505.2 128.9L506.5 130.6M505.2 97.0L506.1 96.9M502.1 55.4L500.8 56.0M506.7 88.7L507.9 89.8L507.4 91.3L507.2 92.2M499.4 66.2L500.4 64.4L499.7 63.5M500.8 84.7L499.0 85.7M502.5 127.4L500.8 128.1M503.4 125.7L502.2 125.7L501.5 124.6L500.9 123.7M504.7 104.0L504.9 105.1M503.8 111.0L504.5 112.7L505.0 113.4M502.7 74.0L503.8 73.3L505.4 73.4L505.9 72.5M501.1 89.5L500.6 88.3L500.2 87.1L498.6 85.9M507.5 61.2L507.6 59.1L507.0 57.3L505.4 56.4M498.6 57.7L497.6 57.9L497.2 59.4M499.5 52.3L501.3 51.7L501.7 49.6M505.8 63.1L506.6 63.5L507.5 63.3L507.7 61.6M506.4 91.7L507.2 90.0L508.7 90.1L509.3 88.8M500.5 53.0L501.2 53.4L503.4 53.5L504.3 53.8M500.7 66.6L499.7 66.0L498.9 64.0L496.7 63.8M503.4 108.7L504.2 110.2M502.9 66.5L501.0 66.5M505.2 96.5L504.9 97.3M500.0 82.0L500.2 81.0L501.4 80.8M505.8 106.1L505.0 104.5L503.5 104.1L503.3 102.9M505.3 93.0L506.4 93.8L507.5 94.2M507.7 102.8L508.8 103.0M499.2 83.1L498.0 82.7L497.1 81.0M501.0 89.2L500.6 90.5M498.7 53.3L500.7 52.8L501.9 52.9M501.1 131.3L501.7 130.3L502.8 129.7L503.4 128.7M506.8 98.1L505.9 98.4L505.3 99.6L504.8 101.4M502.2 75.2L501.4 76.8L499.6 77.3L498.4 77.7M505.0 129.8L505.6 131.8M502.1 130.9L502.0 132.1L501.1 132.7M502.0 65.5L499.9 65.8L498.5 64.5L498.6 63.3M499.2 106.0L498.2 106.0L497.2 107.1M505.1 112.6L504.9 111.8L505.9 111.1M501.7 105.3L502.2 103.8M507.2 114.7L505.6 114.1M506.3 95.4L506.3 93.6L504.4 92.9M501.2 60.0L500.2 60.1L499.6 61.4L497.9 62.8M506.1 122.7L505.7 123.8M504.0 127.5L505.5 127.6L506.7 126.2M498.4 89.2L499.2 88.2M507.4 103.5L506.5 103.0L506.4 102.1L507.3 101.3" stroke="#3aa8f0" stroke-width="0.8" fill="none" stroke-linecap="round"/>
<path d="M505.3 74.8L506.3 75.9L507.5 75.8M503.2 76.1L502.2 77.1M501.4 65.0L499.4 65.0L497.9 63.8L496.6 62.6M505.2 111.7L505.0 112.6M506.8 56.7L506.4 55.5L505.9 54.2M505.0 118.5L505.4 117.3L504.8 115.6M506.4 130.7L504.7 131.3M502.2 117.4L500.1 117.5L499.3 116.8L499.4 115.9M503.3 65.3L502.3 64.9L500.3 64.5M500.1 107.0L501.5 105.8L501.6 104.7M505.0 65.7L504.6 64.9M503.7 123.9L504.6 122.0L504.6 120.8L505.0 119.1M498.4 126.7L497.6 125.8L495.6 125.1L494.3 123.9M506.6 64.5L506.0 62.5L507.3 61.3M505.2 109.3L504.8 110.6M503.2 82.7L501.7 83.2L499.8 81.9L498.5 82.6M503.7 127.3L503.0 128.7L502.3 129.3M500.2 128.7L501.8 127.4L503.0 128.2M505.1 59.0L506.3 60.1L506.0 61.2L505.2 62.6M501.6 129.8L501.8 129.0L501.5 127.8M507.7 83.0L505.8 83.1L504.6 84.5L503.2 84.8M504.3 100.7L506.0 99.5L507.4 99.5L509.5 99.5M503.4 95.1L504.1 93.6" stroke="#3aa8f0" stroke-width="0.6" fill="none" stroke-linecap="round"/>
<path d="M500.9 78.8L501.3 78.1M503.2 93.6L501.5 94.2M506.5 78.9L506.1 77.9L506.1 76.5L506.4 75.2M503.5 59.6L504.9 58.8L506.6 59.7L506.9 60.9M501.6 61.8L500.6 60.0M499.6 72.7L500.9 71.6L501.7 70.6M503.0 57.7L503.5 58.8M498.5 120.4L499.3 121.4M504.9 126.8L504.5 127.8L503.5 127.8L503.0 127.2M506.0 85.1L506.6 84.1M505.2 97.3L505.3 96.1L504.4 95.6L503.4 96.3M506.5 89.2L507.0 88.5L507.5 87.2M501.4 75.7L500.2 75.9M507.8 56.3L507.2 54.9L508.5 53.2L508.4 52.1M498.3 134.2L497.9 132.2L499.8 131.2M507.8 98.6L507.3 100.0L506.0 100.6M505.7 132.3L505.9 130.5L506.9 130.3L508.3 129.6M507.3 102.7L509.0 101.5M504.5 103.7L503.6 103.7L502.7 103.5M499.3 73.0L497.7 71.6L497.3 70.9M501.1 114.1L502.3 114.3L502.4 115.9L501.5 117.2M506.6 55.4L507.3 56.0L507.5 57.0M501.4 76.9L499.3 76.4M498.5 84.5L499.7 83.7L500.5 83.8L501.7 84.8" stroke="#40d8d8" stroke-width="0.6" fill="none" stroke-linecap="round"/>
<path d="M505.1 117.0L503.8 118.0L502.7 118.9L502.7 119.9M498.1 94.2L498.8 94.7L498.2 96.1M507.1 93.9L506.8 92.9L507.8 91.7M505.5 109.8L506.7 109.9L507.5 111.2M505.6 120.5L504.8 120.9L503.6 122.7M502.5 127.9L501.6 129.9M503.6 79.1L502.7 78.6L502.8 77.1L503.9 75.9M499.9 113.6L500.7 112.7L501.9 111.6M501.5 63.3L500.7 64.9M505.4 86.0L504.6 87.4L504.7 88.8M498.4 133.2L499.3 133.3L500.9 133.6L502.5 133.3M503.3 76.4L503.9 74.7L504.5 72.8M507.4 124.3L507.4 125.6M499.9 99.7L499.7 101.1L498.2 102.8M505.0 83.1L505.9 82.2M501.7 86.8L502.8 88.3M502.9 61.9L502.3 60.1M507.0 71.3L507.7 69.2L508.8 67.9M506.1 71.1L506.5 72.9L505.6 74.0M499.8 130.8L500.2 129.4M505.4 75.6L503.6 75.1L502.3 74.0L501.0 73.3M503.1 115.7L504.2 115.1L504.9 115.5L505.4 116.9M506.7 128.5L506.8 129.5L506.1 130.0M504.9 125.5L504.9 127.2L505.6 129.0L505.4 130.1M501.0 52.9L502.3 51.6L502.4 50.0L503.2 48.6M501.8 67.0L502.6 65.3L503.8 65.2L504.8 64.0M506.6 75.0L504.6 74.6M499.5 111.1L500.5 110.7L502.3 110.2L502.9 108.9M504.2 100.0L503.8 101.9L503.1 102.9L503.4 104.0M503.1 97.6L502.9 95.6M502.2 110.4L503.0 111.5M506.4 55.7L505.7 54.4L506.5 53.0L506.5 51.8M498.3 94.1L498.5 92.5" stroke="#2a6cf4" stroke-width="0.6" fill="none" stroke-linecap="round"/>
<path d="M499.9 98.3L497.8 98.6M506.6 106.1L507.8 105.6L509.5 105.2L511.1 105.9M503.3 114.8L504.4 116.6M501.8 98.0L500.4 97.7L499.4 98.1L498.0 96.6M498.5 54.2L497.8 53.4M499.5 111.2L498.6 111.5L497.0 110.4L495.0 110.3M507.0 99.9L506.0 99.9M502.9 104.2L504.7 105.0M503.9 63.6L504.5 62.4L503.4 60.6L503.3 59.6M505.5 120.8L504.3 121.5L502.8 122.2L501.9 122.2M499.9 124.4L501.1 124.4M507.5 82.3L506.6 84.2L505.9 84.6L505.0 83.8M501.5 92.0L499.5 91.5M498.8 65.7L500.3 64.9L501.4 65.6L502.6 65.5M499.9 130.2L498.7 131.0L497.6 131.5M500.5 96.8L500.6 98.2L501.0 99.3L501.2 100.4M506.9 109.2L505.8 109.6L505.0 109.3L503.0 109.4M507.5 51.6L509.1 51.8L510.5 51.3L511.3 50.8M499.5 108.2L499.5 106.1L500.2 105.6L501.1 106.2M500.6 92.6L500.6 90.9L502.3 90.3L503.2 89.5M506.8 115.1L507.2 116.4L509.0 117.3L510.6 117.0M499.2 72.6L500.2 71.0M498.6 67.5L497.7 69.2M505.9 54.8L505.6 56.2M501.9 94.0L503.4 94.0M503.4 93.8L504.9 94.2L506.0 95.3M505.3 129.7L503.7 130.2M503.6 112.6L502.7 112.8L501.2 111.5L501.0 110.7M505.5 116.2L504.8 116.6L503.8 118.6L501.7 118.6M500.0 126.8L499.4 128.2M501.9 101.1L500.2 100.6L499.3 100.1L498.8 99.2M498.5 60.9L499.8 60.0L500.0 57.9L499.9 56.6M499.7 123.4L498.7 123.8L497.0 123.1M500.3 130.7L500.7 129.8L500.0 129.0M503.8 112.7L505.1 111.5L506.6 111.9M504.4 125.9L505.4 125.7L506.2 123.9M504.9 75.3L503.9 74.3M502.1 102.1L501.4 100.8L500.6 98.9M501.5 89.9L499.5 89.7" stroke="#3aa8f0" stroke-width="1.0" fill="none" stroke-linecap="round"/>
<path d="M507.3 97.0L506.6 98.2L505.6 99.1M498.4 78.4L497.2 77.5L496.4 75.7L495.0 74.5M503.3 83.7L502.5 83.5L502.0 82.3M507.1 72.5L507.6 70.9L508.6 70.7M501.4 83.6L500.9 85.2M501.8 98.6L503.0 98.5L503.3 97.1L504.5 95.9M502.9 70.4L504.5 71.2L506.1 70.7M504.6 59.8L504.4 58.1L503.6 57.9L503.4 56.8M504.4 93.9L503.0 95.0L502.2 94.8L501.6 93.4M503.8 67.7L501.9 66.7L501.8 64.6M499.4 67.0L498.1 66.4L498.3 64.9L497.2 63.7M505.1 116.0L506.0 115.2M501.1 75.7L500.5 75.0L500.4 73.3M499.7 87.3L501.1 87.8M501.6 91.0L502.6 90.4L504.1 90.8L504.7 92.7M506.2 100.8L507.4 101.9L509.3 103.0M507.0 60.8L505.7 60.5L504.2 60.1L503.1 59.5M507.6 120.0L505.9 121.1M500.5 83.1L501.1 81.1L501.8 79.7M500.0 105.1L500.8 105.3M503.1 130.2L503.8 131.5M503.3 105.5L501.2 106.2M501.4 58.0L500.5 58.0L498.6 58.4L496.6 58.5M499.2 132.5L500.1 131.0L501.1 129.3L499.9 127.5M504.6 69.9L505.9 69.0L506.1 67.8L505.7 65.9" stroke="#40d8d8" stroke-width="0.8" fill="none" stroke-linecap="round"/>
<path d="M500.3 75.7L499.0 74.9L499.0 73.2L500.7 72.1M502.2 96.5L502.4 97.7M506.5 78.4L508.2 78.3M504.9 85.8L504.7 87.6L504.0 89.3" stroke="#b8e838" stroke-width="0.8" fill="none" stroke-linecap="round"/>
<path d="M500.1 69.2L501.6 68.4M505.6 52.5L505.2 53.2L504.4 53.6L502.5 52.5M505.9 59.4L505.0 60.7M500.1 120.5L499.1 119.9L497.9 118.5M504.5 69.2L504.3 71.0L504.3 73.2L503.1 74.4M501.3 63.3L502.2 64.8L503.2 66.2L504.2 66.6M503.1 76.5L501.3 76.2M501.5 102.9L502.1 101.6M500.2 59.1L500.1 57.8L499.3 57.2M506.8 91.1L505.9 91.0M504.1 90.9L504.6 92.5L505.1 94.3L504.8 95.5M498.7 111.8L499.6 110.7L500.4 110.5L502.0 111.8M498.9 66.6L499.8 66.2L501.1 67.4L502.1 68.2M500.0 89.7L500.9 90.3M500.1 55.0L501.4 55.9L502.0 56.8M507.5 62.1L505.8 62.7L504.7 63.2L502.8 62.7M504.4 118.6L503.2 118.1L502.5 117.5M504.3 106.7L505.5 105.3L505.8 104.2M504.4 69.1L503.6 68.8L502.9 68.2L501.2 67.3M506.6 84.8L507.5 85.8M498.6 52.4L498.8 51.5L499.4 50.1L499.6 48.7M504.4 73.9L503.9 72.5L505.5 71.1L506.7 71.6M498.5 85.3L499.7 86.2M499.1 71.7L498.9 69.7M501.8 72.5L502.2 71.2L501.0 69.8M503.1 120.3L504.2 118.5L503.4 117.5M507.1 107.7L509.2 107.8L510.5 106.5" stroke="#2a6cf4" stroke-width="1.0" fill="none" stroke-linecap="round"/>
<path d="M505.7 92.2L507.5 92.0M503.1 123.0L503.1 123.9M505.4 63.5L503.7 62.7M506.9 122.5L505.7 121.3M506.1 110.9L507.6 111.7L509.6 112.2L511.4 111.6M501.3 118.4L501.4 117.6L500.9 116.5M498.3 83.9L498.2 84.8L498.5 86.6M498.3 99.5L500.1 100.4L501.0 99.5M500.5 109.5L501.2 111.0L502.3 110.9M500.1 69.1L498.8 69.0L497.5 67.5M503.9 105.2L503.6 103.5L501.6 102.7L500.7 102.2M500.0 89.2L500.0 87.7M506.8 114.3L507.9 112.7L509.6 111.5M501.6 132.8L503.1 133.1L503.7 135.0M505.9 55.2L504.9 53.4L504.2 52.6L504.0 51.2M503.9 92.4L505.7 92.2L506.5 91.5M500.7 60.6L499.9 59.4M501.4 99.0L501.7 100.3M500.0 101.4L500.2 102.7" stroke="#40d8d8" stroke-width="1.0" fill="none" stroke-linecap="round"/>
<path d="M502.9 86.5L503.7 85.9M505.4 134.1L504.4 133.2L503.1 133.7M502.8 126.5L503.4 127.7L504.5 127.7L505.2 127.3M498.2 113.4L496.9 112.6L495.5 112.6L494.5 112.8M500.5 97.0L499.1 97.3L498.1 98.1M507.0 96.0L509.0 96.4L509.7 95.1M499.4 52.3L500.3 51.4L501.3 51.0L501.9 49.4M499.9 94.1L501.6 94.4L503.6 94.6L504.4 96.3M499.7 111.1L501.2 109.9" stroke="#60e890" stroke-width="1.0" fill="none" stroke-linecap="round"/>
<path d="M504.5 122.8L504.8 123.9M506.1 109.4L505.5 110.5L503.6 110.9L503.1 111.6M507.7 95.1L507.6 97.1L508.8 98.4M503.1 69.9L504.1 70.1L505.8 71.4L507.6 72.5M502.2 105.9L503.5 105.9L504.1 107.8M505.7 53.7L506.6 55.0L506.8 56.0M498.2 70.7L499.8 69.6L499.3 67.6L499.0 66.6M500.8 67.2L500.6 66.4L498.9 66.2L498.3 65.7M503.9 87.2L502.7 88.4L501.1 88.1M504.2 102.2L503.2 101.6L501.4 101.5L501.0 99.9M501.4 59.8L501.6 61.6L499.8 62.8L498.9 64.0M505.0 110.1L505.9 112.0M500.6 115.1L501.4 114.6L502.4 113.7L501.7 111.8M504.1 79.4L503.5 78.4L503.2 77.3M500.3 57.5L501.1 58.5" stroke="#60e890" stroke-width="0.8" fill="none" stroke-linecap="round"/>
<path d="M505.1 63.8L505.0 65.0L505.7 66.0L505.9 67.2M501.4 53.4L502.5 53.1M504.5 84.2L503.6 83.8L501.7 83.1" stroke="#b8e838" stroke-width="0.6" fill="none" stroke-linecap="round"/>
<path d="M502.1 56.6L500.7 55.8L498.9 56.3M504.6 122.6L503.2 123.0L502.4 123.5L502.4 125.3M506.9 131.4L505.1 131.0M504.8 110.6L505.6 111.1L506.9 110.1M506.6 63.8L507.8 64.8L509.6 65.5L511.6 65.5M503.3 92.8L502.5 93.7L502.8 94.6L502.7 95.7M501.5 100.3L501.1 101.1L499.8 101.2M503.0 92.7L503.8 93.2L505.3 94.4M507.1 86.7L508.1 86.9L508.7 88.6L510.2 88.7M503.8 108.6L505.0 109.6L506.5 109.2L507.2 109.8M507.5 67.0L507.4 68.0M504.9 70.3L506.1 70.3L508.1 70.5M499.7 74.6L500.4 76.0M499.2 72.4L500.5 72.2M504.6 72.3L504.0 71.0M505.2 117.3L506.2 115.9L505.3 113.9M503.7 73.8L504.5 74.8M505.7 120.0L507.3 119.6L508.8 118.7M506.3 63.4L505.2 63.2M499.8 60.3L498.8 61.0L499.1 62.6L497.9 63.7M503.9 51.5L505.1 51.7L505.7 53.1M504.7 103.2L505.7 103.6M504.7 119.3L506.3 118.0L507.3 117.8M499.7 134.1L499.7 136.1M499.5 92.2L498.6 90.4M502.6 92.2L504.1 93.7M500.4 132.9L498.7 132.7L497.0 133.5M502.6 90.6L501.8 91.3L499.9 91.7L499.7 92.6M503.9 100.5L504.8 102.0L506.0 103.1" stroke="#2a6cf4" stroke-width="0.8" fill="none" stroke-linecap="round"/>
<path d="M501.3 121.3L500.5 122.5M505.0 52.4L503.6 53.2L502.5 53.2M500.9 77.6L500.4 78.7M502.3 110.9L502.4 112.2L502.7 113.9M499.4 126.3L500.1 125.6L499.7 124.7L500.0 123.1" stroke="#b8e838" stroke-width="1.0" fill="none" stroke-linecap="round"/>
<path d="M503.0 109.8L504.2 111.1L505.1 110.9M500.2 73.6L501.8 72.9L502.4 71.1M500.3 87.5L500.4 88.4L500.9 90.4L500.3 91.1M500.8 128.4L499.1 129.6M503.5 116.1L501.7 116.0L500.4 114.5M503.3 124.1L502.4 124.2M506.8 65.5L505.9 66.2L506.3 68.1M498.5 89.6L498.8 91.5L498.4 93.4M499.6 126.9L500.2 126.3M502.9 98.7L502.5 99.5L501.8 99.9L500.2 101.1" stroke="#60e890" stroke-width="0.6" fill="none" stroke-linecap="round"/>
</g>
<rect x="498.10" y="52.3" width="0.9" height="82.2" fill="#30b0e0" opacity="0.6"/>
<rect x="505.70" y="57.2" width="6.2" height="77.30" fill="#2a90f0" opacity="0.55"/>
<rect x="506.50" y="57.2" width="4.6" height="77.30" fill="#ff9020" opacity="0.8"/>
<rect x="507.30" y="56.2" width="3.0" height="78.30" fill="url(#st6)"/>
<path d="M498.10,51.3 C502.91,53.07 508.20,53.7 508.50,58.7 M519.50,49.8 C514.68,52.02 509.40,53.7 509.10,58.7" fill="none" stroke="#40e0c0" stroke-width="1.1"/>
<rect x="508.20" y="134.5" width="1.2" height="4" fill="#ff3010"/>
<text x="508.3" y="148.9" font-size="9.3" text-anchor="middle" font-weight="normal" font-style="normal" fill="#1a1a1a" >6 s</text>
<rect x="534.9" y="8.80" width="7.0" height="6.74" fill="#ff0000"/>
<rect x="534.9" y="15.24" width="7.0" height="6.74" fill="#ff3600"/>
<rect x="534.9" y="21.68" width="7.0" height="6.74" fill="#ff6b00"/>
<rect x="534.9" y="28.12" width="7.0" height="6.74" fill="#ffa100"/>
<rect x="534.9" y="34.56" width="7.0" height="6.74" fill="#ffd700"/>
<rect x="534.9" y="41.00" width="7.0" height="6.74" fill="#f2ff00"/>
<rect x="534.9" y="47.44" width="7.0" height="6.74" fill="#bcff00"/>
<rect x="534.9" y="53.88" width="7.0" height="6.74" fill="#86ff00"/>
<rect x="534.9" y="60.32" width="7.0" height="6.74" fill="#51ff00"/>
<rect x="534.9" y="66.76" width="7.0" height="6.74" fill="#1bff00"/>
<rect x="534.9" y="73.20" width="7.0" height="6.74" fill="#00ff1b"/>
<rect x="534.9" y="79.64" width="7.0" height="6.74" fill="#00ff51"/>
<rect x="534.9" y="86.08" width="7.0" height="6.74" fill="#00ff86"/>
<rect x="534.9" y="92.52" width="7.0" height="6.74" fill="#00ffbc"/>
<rect x="534.9" y="98.96" width="7.0" height="6.74" fill="#00fff2"/>
<rect x="534.9" y="105.40" width="7.0" height="6.74" fill="#00d7ff"/>
<rect x="534.9" y="111.84" width="7.0" height="6.74" fill="#00a1ff"/>
<rect x="534.9" y="118.28" width="7.0" height="6.74" fill="#006bff"/>
<rect x="534.9" y="124.72" width="7.0" height="6.74" fill="#0036ff"/>
<rect x="534.9" y="131.16" width="7.0" height="6.74" fill="#0000ff"/>
<text x="527.6" y="12.9" font-size="9.2" text-anchor="middle" font-weight="normal" font-style="normal" fill="#1a1a1a" >1</text>
<text x="527.6" y="25.6" font-size="9.2" text-anchor="middle" font-weight="normal" font-style="normal" fill="#1a1a1a" >0.9</text>
<text x="527.6" y="38.3" font-size="9.2" text-anchor="middle" font-weight="normal" font-style="normal" fill="#1a1a1a" >0.8</text>
<text x="527.6" y="51.1" font-size="9.2" text-anchor="middle" font-weight="normal" font-style="normal" fill="#1a1a1a" >0.7</text>
<text x="527.6" y="63.8" font-size="9.2" text-anchor="middle" font-weight="normal" font-style="normal" fill="#1a1a1a" >0.6</text>
<text x="527.6" y="76.5" font-size="9.2" text-anchor="middle" font-weight="normal" font-style="normal" fill="#1a1a1a" >0.5</text>
<text x="527.6" y="89.2" font-size="9.2" text-anchor="middle" font-weight="normal" font-style="normal" fill="#1a1a1a" >0.4</text>
<text x="527.6" y="101.9" font-size="9.2" text-anchor="middle" font-weight="normal" font-style="normal" fill="#1a1a1a" >0.3</text>
<text x="527.6" y="114.7" font-size="9.2" text-anchor="middle" font-weight="normal" font-style="normal" fill="#1a1a1a" >0.2</text>
<text x="527.6" y="127.4" font-size="9.2" text-anchor="middle" font-weight="normal" font-style="normal" fill="#1a1a1a" >0.1</text>
<text x="527.6" y="140.1" font-size="9.2" text-anchor="middle" font-weight="normal" font-style="normal" fill="#1a1a1a" >0</text>
<text x="534.4" y="149.2" font-size="9.2" text-anchor="middle" font-weight="normal" font-style="normal" fill="#1a1a1a" >s^-1</text>
<text x="329.0" y="168.0" font-size="12" text-anchor="start" font-weight="bold" font-style="normal" fill="#111" >(c)</text>
<line x1="354.5" y1="172.4" x2="354.5" y2="270.6" stroke="#5a5a5a" stroke-width="0.8" fill="none"/>
<line x1="354.5" y1="270.6" x2="535.5" y2="270.6" stroke="#5a5a5a" stroke-width="0.8" fill="none"/>
<line x1="354.5" y1="268.40" x2="356.3" y2="268.40" stroke="#5a5a5a" stroke-width="0.8" fill="none"/>
<text x="351.6" y="271.3" font-size="8.3" text-anchor="end" font-weight="normal" font-style="normal" fill="#1a1a1a" >0</text>
<line x1="354.5" y1="260.95" x2="355.6" y2="260.95" stroke="#5a5a5a" stroke-width="0.8" fill="none"/>
<line x1="354.5" y1="253.50" x2="356.3" y2="253.50" stroke="#5a5a5a" stroke-width="0.8" fill="none"/>
<text x="351.6" y="256.4" font-size="8.3" text-anchor="end" font-weight="normal" font-style="normal" fill="#1a1a1a" >0.2</text>
<line x1="354.5" y1="245.65" x2="355.6" y2="245.65" stroke="#5a5a5a" stroke-width="0.8" fill="none"/>
<line x1="354.5" y1="237.80" x2="356.3" y2="237.80" stroke="#5a5a5a" stroke-width="0.8" fill="none"/>
<text x="351.6" y="240.7" font-size="8.3" text-anchor="end" font-weight="normal" font-style="normal" fill="#1a1a1a" >0.4</text>
<line x1="354.5" y1="229.70" x2="355.6" y2="229.70" stroke="#5a5a5a" stroke-width="0.8" fill="none"/>
<line x1="354.5" y1="221.60" x2="356.3" y2="221.60" stroke="#5a5a5a" stroke-width="0.8" fill="none"/>
<text x="351.6" y="224.5" font-size="8.3" text-anchor="end" font-weight="normal" font-style="normal" fill="#1a1a1a" >0.6</text>
<line x1="354.5" y1="213.45" x2="355.6" y2="213.45" stroke="#5a5a5a" stroke-width="0.8" fill="none"/>
<line x1="354.5" y1="205.30" x2="356.3" y2="205.30" stroke="#5a5a5a" stroke-width="0.8" fill="none"/>
<text x="351.6" y="208.2" font-size="8.3" text-anchor="end" font-weight="normal" font-style="normal" fill="#1a1a1a" >0.8</text>
<line x1="354.5" y1="197.20" x2="355.6" y2="197.20" stroke="#5a5a5a" stroke-width="0.8" fill="none"/>
<line x1="354.5" y1="189.10" x2="356.3" y2="189.10" stroke="#5a5a5a" stroke-width="0.8" fill="none"/>
<text x="351.6" y="192.0" font-size="8.3" text-anchor="end" font-weight="normal" font-style="normal" fill="#1a1a1a" >1.0</text>
<line x1="354.5" y1="181.95" x2="355.6" y2="181.95" stroke="#5a5a5a" stroke-width="0.8" fill="none"/>
<line x1="354.5" y1="174.80" x2="356.3" y2="174.80" stroke="#5a5a5a" stroke-width="0.8" fill="none"/>
<text x="351.6" y="177.7" font-size="8.3" text-anchor="end" font-weight="normal" font-style="normal" fill="#1a1a1a" >1.2</text>
<line x1="354.50" y1="270.6" x2="354.50" y2="268.8" stroke="#5a5a5a" stroke-width="0.8" fill="none"/>
<text x="354.8" y="279.3" font-size="8.3" text-anchor="middle" font-weight="normal" font-style="normal" fill="#1a1a1a" >0</text>
<line x1="372.60" y1="270.6" x2="372.60" y2="269.5" stroke="#5a5a5a" stroke-width="0.8" fill="none"/>
<line x1="390.70" y1="270.6" x2="390.70" y2="268.8" stroke="#5a5a5a" stroke-width="0.8" fill="none"/>
<text x="391.0" y="279.3" font-size="8.3" text-anchor="middle" font-weight="normal" font-style="normal" fill="#1a1a1a" >0.1</text>
<line x1="408.80" y1="270.6" x2="408.80" y2="269.5" stroke="#5a5a5a" stroke-width="0.8" fill="none"/>
<line x1="426.90" y1="270.6" x2="426.90" y2="268.8" stroke="#5a5a5a" stroke-width="0.8" fill="none"/>
<text x="427.2" y="279.3" font-size="8.3" text-anchor="middle" font-weight="normal" font-style="normal" fill="#1a1a1a" >0.2</text>
<line x1="445.00" y1="270.6" x2="445.00" y2="269.5" stroke="#5a5a5a" stroke-width="0.8" fill="none"/>
<line x1="463.10" y1="270.6" x2="463.10" y2="268.8" stroke="#5a5a5a" stroke-width="0.8" fill="none"/>
<text x="463.4" y="279.3" font-size="8.3" text-anchor="middle" font-weight="normal" font-style="normal" fill="#1a1a1a" >0.3</text>
<line x1="481.20" y1="270.6" x2="481.20" y2="269.5" stroke="#5a5a5a" stroke-width="0.8" fill="none"/>
<line x1="499.30" y1="270.6" x2="499.30" y2="268.8" stroke="#5a5a5a" stroke-width="0.8" fill="none"/>
<text x="499.6" y="279.3" font-size="8.3" text-anchor="middle" font-weight="normal" font-style="normal" fill="#1a1a1a" >0.4</text>
<line x1="517.40" y1="270.6" x2="517.40" y2="269.5" stroke="#5a5a5a" stroke-width="0.8" fill="none"/>
<line x1="535.50" y1="270.6" x2="535.50" y2="268.8" stroke="#5a5a5a" stroke-width="0.8" fill="none"/>
<text x="535.8" y="279.3" font-size="8.3" text-anchor="middle" font-weight="normal" font-style="normal" fill="#1a1a1a" >0.5</text>
<line x1="371.3" y1="208.5" x2="371.3" y2="270.6" stroke="#c8c8c8" stroke-width="0.6"/>
<line x1="500.9" y1="171.7" x2="500.9" y2="202.6" stroke="#c8c8c8" stroke-width="0.6"/>
<line x1="534.8" y1="171.7" x2="534.8" y2="188.4" stroke="#c8c8c8" stroke-width="0.6"/>
<polyline points="354.50,259.27 356.30,255.72 358.11,253.70 359.91,252.02 361.71,250.53 363.51,249.16 365.32,247.89 367.12,246.69 368.92,245.55 370.72,244.46 372.53,243.41 374.33,242.40 376.13,241.41 377.94,240.46 379.74,239.53 381.54,238.63 383.34,237.74 385.15,236.88 386.95,236.03 388.75,235.20 390.56,234.38 392.36,233.58 394.16,232.79 395.96,232.02 397.77,231.25 399.57,230.50 401.37,229.76 403.17,229.02 404.98,228.30 406.78,227.59 408.58,226.88 410.39,226.18 412.19,225.49 413.99,224.81 415.79,224.14 417.60,223.47 419.40,222.81 421.20,222.15 423.00,221.50 424.81,220.86 426.61,220.22 428.41,219.59 430.22,218.96 432.02,218.34 433.82,217.73 435.62,217.11 437.43,216.51 439.23,215.91 441.03,215.31 442.84,214.72 444.64,214.13 446.44,213.54 448.24,212.96 450.05,212.38 451.85,211.81 453.65,211.24 455.45,210.68 457.26,210.11 459.06,209.55 460.86,209.00 462.67,208.45 464.47,207.90 466.27,207.35 468.07,206.81 469.88,206.27 471.68,205.73 473.48,205.20 475.28,204.67 477.09,204.14 478.89,203.61 480.69,203.09 482.50,202.57 484.30,202.05 486.10,201.54 487.90,201.02 489.71,200.51 491.51,200.01 493.31,199.50 495.12,199.00 496.92,198.50 498.72,198.00 500.52,197.50 502.33,197.01 504.13,196.51 505.93,196.02 507.73,195.53 509.54,195.05 511.34,194.56 513.14,194.08 514.95,193.60 516.75,193.12 518.55,192.64 520.35,192.17 522.16,191.70 523.96,191.23 525.76,190.76 527.56,190.29 529.37,189.82 531.17,189.36 532.97,188.89 534.78,188.43" stroke="#f060e0" stroke-width="0.9" stroke-dasharray="2.2 1.6" fill="none"/>
<polyline points="355.00,241.40 359.00,255.20 362.80,237.10 366.50,257.70 370.00,255.70 373.30,242.10 376.60,238.10 380.00,237.60 384.00,236.40 387.80,233.10 392.00,232.60 395.90,231.30 399.10,229.60 402.10,227.60 405.90,225.00 410.10,223.00 414.20,222.60 417.70,221.30 421.70,221.30 425.50,221.00 429.20,219.80 432.50,219.60 436.30,218.80 440.00,217.60 443.00,215.10 446.30,214.10 450.00,213.30 453.80,212.10 457.60,211.30 461.30,210.60 465.10,208.80 468.90,208.10 472.60,207.10 476.40,206.30 480.10,205.60 483.90,204.60 487.70,203.80 492.20,203.30 496.40,203.10 500.90,202.60 504.90,270.50 508.56,270.50 512.22,270.50 515.88,270.50 519.54,270.50 523.20,270.50 526.86,270.50 530.52,270.50 534.18,270.50" stroke="#6a70c8" stroke-width="0.7" fill="none"/>
<circle cx="355" cy="241.4" r="1.05" fill="#15154a"/>
<circle cx="359" cy="255.2" r="1.05" fill="#15154a"/>
<circle cx="362.8" cy="237.1" r="1.05" fill="#15154a"/>
<circle cx="366.5" cy="257.7" r="1.05" fill="#15154a"/>
<circle cx="370" cy="255.7" r="1.05" fill="#15154a"/>
<circle cx="373.3" cy="242.1" r="1.05" fill="#15154a"/>
<circle cx="376.6" cy="238.1" r="1.05" fill="#15154a"/>
<circle cx="380" cy="237.6" r="1.05" fill="#15154a"/>
<circle cx="384" cy="236.4" r="1.05" fill="#15154a"/>
<circle cx="387.8" cy="233.1" r="1.05" fill="#15154a"/>
<circle cx="392" cy="232.6" r="1.05" fill="#15154a"/>
<circle cx="395.9" cy="231.3" r="1.05" fill="#15154a"/>
<circle cx="399.1" cy="229.6" r="1.05" fill="#15154a"/>
<circle cx="402.1" cy="227.6" r="1.05" fill="#15154a"/>
<circle cx="405.9" cy="225" r="1.05" fill="#15154a"/>
<circle cx="410.1" cy="223" r="1.05" fill="#15154a"/>
<circle cx="414.2" cy="222.6" r="1.05" fill="#15154a"/>
<circle cx="417.7" cy="221.3" r="1.05" fill="#15154a"/>
<circle cx="421.7" cy="221.3" r="1.05" fill="#15154a"/>
<circle cx="425.5" cy="221" r="1.05" fill="#15154a"/>
<circle cx="429.2" cy="219.8" r="1.05" fill="#15154a"/>
<circle cx="432.5" cy="219.6" r="1.05" fill="#15154a"/>
<circle cx="436.3" cy="218.8" r="1.05" fill="#15154a"/>
<circle cx="440" cy="217.6" r="1.05" fill="#15154a"/>
<circle cx="443" cy="215.1" r="1.05" fill="#15154a"/>
<circle cx="446.3" cy="214.1" r="1.05" fill="#15154a"/>
<circle cx="450" cy="213.3" r="1.05" fill="#15154a"/>
<circle cx="453.8" cy="212.1" r="1.05" fill="#15154a"/>
<circle cx="457.6" cy="211.3" r="1.05" fill="#15154a"/>
<circle cx="461.3" cy="210.6" r="1.05" fill="#15154a"/>
<circle cx="465.1" cy="208.8" r="1.05" fill="#15154a"/>
<circle cx="468.9" cy="208.1" r="1.05" fill="#15154a"/>
<circle cx="472.6" cy="207.1" r="1.05" fill="#15154a"/>
<circle cx="476.4" cy="206.3" r="1.05" fill="#15154a"/>
<circle cx="480.1" cy="205.6" r="1.05" fill="#15154a"/>
<circle cx="483.9" cy="204.6" r="1.05" fill="#15154a"/>
<circle cx="487.7" cy="203.8" r="1.05" fill="#15154a"/>
<circle cx="492.2" cy="203.3" r="1.05" fill="#15154a"/>
<circle cx="496.4" cy="203.1" r="1.05" fill="#15154a"/>
<circle cx="500.9" cy="202.6" r="1.05" fill="#15154a"/>
<circle cx="504.9" cy="270.5" r="1.05" fill="#15154a"/>
<circle cx="508.56" cy="270.5" r="1.05" fill="#15154a"/>
<circle cx="512.22" cy="270.5" r="1.05" fill="#15154a"/>
<circle cx="515.88" cy="270.5" r="1.05" fill="#15154a"/>
<circle cx="519.54" cy="270.5" r="1.05" fill="#15154a"/>
<circle cx="523.1999999999999" cy="270.5" r="1.05" fill="#15154a"/>
<circle cx="526.86" cy="270.5" r="1.05" fill="#15154a"/>
<circle cx="530.52" cy="270.5" r="1.05" fill="#15154a"/>
<circle cx="534.18" cy="270.5" r="1.05" fill="#15154a"/>
<line x1="363" y1="179.2" x2="381" y2="179.2" stroke="#f060e0" stroke-width="0.9" stroke-dasharray="2.2 1.6"/>
<text x="382.3" y="182.1" font-size="8.6" text-anchor="start" font-weight="normal" font-style="normal" fill="#1a1a1a" >Theoretical</text>
<line x1="423.5" y1="179.2" x2="443.5" y2="179.2" stroke="#6a70c8" stroke-width="0.7"/>
<circle cx="433.8" cy="179.2" r="1.05" fill="#15154a"/>
<text x="446.2" y="182.1" font-size="8.6" text-anchor="start" font-weight="normal" font-style="normal" fill="#1a1a1a" >Experimental</text>
<text x="425.9" y="191.5" font-size="8.6" text-anchor="middle" font-weight="normal" font-style="italic" fill="#1a1a1a" >W</text>
<polyline points="418,192 434.3,192 451.8,207.3" fill="none" stroke="#2a3cf0" stroke-width="0.8"/>
<path d="M453.8,209 L448.9,206.6 L451.6,203.9 Z" fill="#2a3cf0"/>
<line x1="357.9" y1="221.5" x2="368.1" y2="221.5" stroke="#2a3cf0" stroke-width="0.6"/>
<path d="M354.9,221.5 L358.9,219.7 L358.9,223.3 Z" fill="#1030f0"/>
<path d="M371.1,221.5 L367.1,219.7 L367.1,223.3 Z" fill="#1030f0"/>
<rect x="359.20" y="218.0" width="7.6" height="7" fill="#fff"/>
<text x="362.20" y="223.7" font-size="7.6" text-anchor="middle" fill="#333"><tspan font-style="italic">z</tspan><tspan font-size="5.5" dy="1.6">1</tspan></text>
<line x1="504.1" y1="181.4" x2="531.6" y2="181.4" stroke="#2a3cf0" stroke-width="0.6"/>
<path d="M501.1,181.4 L505.1,179.6 L505.1,183.20000000000002 Z" fill="#1030f0"/>
<path d="M534.6,181.4 L530.6,179.6 L530.6,183.20000000000002 Z" fill="#1030f0"/>
<rect x="514.05" y="177.9" width="7.6" height="7" fill="#fff"/>
<text x="517.05" y="183.6" font-size="7.6" text-anchor="middle" fill="#333"><tspan font-style="italic">z</tspan><tspan font-size="5.5" dy="1.6">2</tspan></text>
<text x="444" y="287.4" font-size="8.9" text-anchor="middle" fill="#1a1a1a"><tspan font-style="italic">Z</tspan> (m)</text>
<text transform="translate(338.3,219.5) rotate(-90)" font-size="8.6" text-anchor="middle" fill="#1a1a1a"><tspan font-style="italic">v</tspan><tspan font-style="italic" font-size="6" dy="1.5">z</tspan><tspan dy="-1.5"> (m·s</tspan><tspan font-size="6" dy="-3">-1</tspan><tspan dy="3">)</tspan></text>
</svg>
</body></html>
